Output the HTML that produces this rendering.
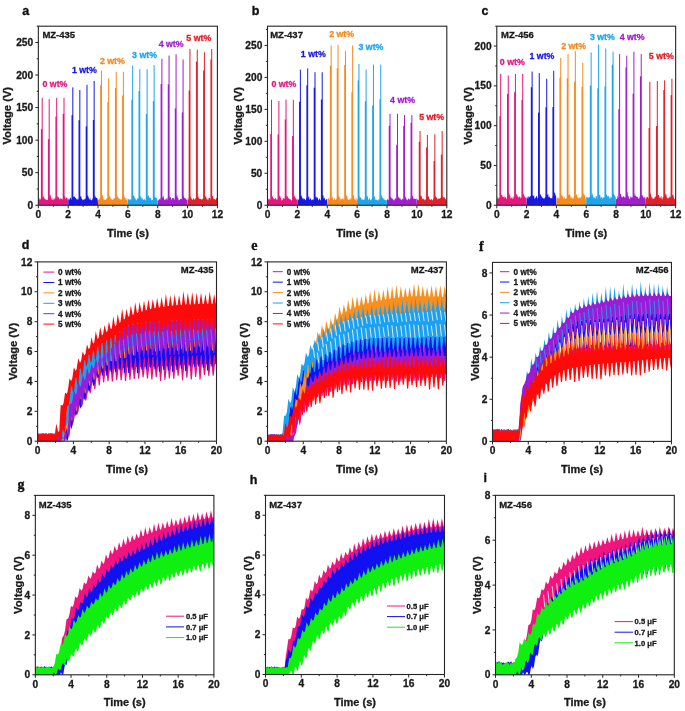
<!DOCTYPE html>
<html><head><meta charset="utf-8"><style>
html,body{margin:0;padding:0;background:#fff;}
svg{display:block;font-family:'Liberation Sans', Arial, sans-serif;}
</style></head><body>
<svg width="685" height="711" viewBox="0 0 685 711">
<rect width="685" height="711" fill="#fff"/>
<polygon points="38.35,205.25 38.4,199.0 38.9,197.6 39.4,200.2 39.9,197.6 40.4,199.7 40.9,199.3 41.4,197.7 41.9,198.3 42.4,196.6 42.9,197.4 43.4,195.4 43.9,197.4 44.4,199.1 44.9,198.0 45.4,199.7 45.9,199.2 46.4,200.3 46.9,199.4 47.4,200.0 47.9,199.8 48.4,197.9 48.9,198.7 49.4,196.8 49.9,194.3 50.4,194.8 50.9,196.8 51.4,198.4 51.9,199.7 52.4,200.2 52.9,197.5 53.4,199.0 53.9,200.3 54.4,198.7 54.9,198.2 55.4,198.6 55.9,197.4 56.4,199.5 56.9,196.6 57.4,196.0 57.9,197.7 58.4,197.1 58.9,197.4 59.4,198.6 59.9,199.8 60.4,198.0 60.9,199.0 61.4,199.0 61.9,198.2 62.4,200.2 62.9,197.9 63.4,197.9 63.9,196.6 64.3,197.3 64.8,194.8 65.3,197.7 65.8,199.3 66.3,197.6 66.8,197.8 67.3,197.8 67.8,199.2 68.19,205.25" fill="#E4177E"/>
<g stroke="#E4177E"><line x1="42.2" y1="205.25" x2="42.2" y2="97.82" stroke-width="1.0"/><line x1="41.6" y1="205.25" x2="41.6" y2="129.22" stroke-width="1.4"/><line x1="49.2" y1="205.25" x2="49.2" y2="99.12" stroke-width="1.0"/><line x1="48.6" y1="205.25" x2="48.6" y2="139.21" stroke-width="1.4"/><line x1="56.7" y1="205.25" x2="56.7" y2="97.82" stroke-width="1.0"/><line x1="56.1" y1="205.25" x2="56.1" y2="116.45" stroke-width="1.4"/><line x1="64.01" y1="205.25" x2="64.01" y2="97.82" stroke-width="1.0"/><line x1="63.41" y1="205.25" x2="63.41" y2="113.89" stroke-width="1.4"/></g>
<polygon points="68.19,205.25 68.2,198.0 68.7,199.8 69.2,200.0 69.7,198.6 70.2,198.1 70.7,197.6 71.2,200.2 71.7,199.0 72.2,197.2 72.7,197.7 73.2,195.9 73.7,197.4 74.2,196.2 74.7,196.7 75.2,197.7 75.7,197.8 76.2,198.5 76.7,199.9 77.2,198.2 77.7,200.0 78.2,198.0 78.7,200.4 79.2,197.4 79.7,198.6 80.2,196.6 80.7,196.4 81.2,196.1 81.7,199.1 82.2,199.1 82.7,200.6 83.2,199.8 83.7,199.3 84.2,200.3 84.7,198.6 85.2,199.4 85.7,198.3 86.2,198.2 86.7,198.1 87.2,195.4 87.7,195.4 88.2,195.4 88.7,198.2 89.2,198.5 89.7,200.0 90.2,197.4 90.7,199.9 91.2,199.9 91.7,200.5 92.2,199.8 92.7,198.2 93.2,198.2 93.7,199.4 94.2,197.4 94.7,196.2 95.2,195.5 95.7,197.4 96.2,198.1 96.7,197.8 97.2,198.3 97.7,199.5 98.03,205.25" fill="#1717E6"/>
<g stroke="#1717E6"><line x1="72.82" y1="205.25" x2="72.82" y2="87.4" stroke-width="1.0"/><line x1="72.22" y1="205.25" x2="72.22" y2="115.28" stroke-width="1.4"/><line x1="79.83" y1="205.25" x2="79.83" y2="90.01" stroke-width="1.0"/><line x1="79.23" y1="205.25" x2="79.23" y2="120.24" stroke-width="1.4"/><line x1="86.99" y1="205.25" x2="86.99" y2="84.8" stroke-width="1.0"/><line x1="86.39" y1="205.25" x2="86.39" y2="126.34" stroke-width="1.4"/><line x1="94.15" y1="205.25" x2="94.15" y2="80.89" stroke-width="1.0"/><line x1="93.55" y1="205.25" x2="93.55" y2="120.06" stroke-width="1.4"/></g>
<polygon points="98.03,205.25 98.0,199.8 98.5,199.7 99.0,199.7 99.5,198.8 100.0,197.5 100.5,197.9 101.0,197.2 101.5,196.1 102.0,195.6 102.5,194.7 103.0,196.7 103.5,198.4 104.0,200.3 104.5,199.1 105.0,200.0 105.5,200.3 106.0,199.0 106.5,198.1 107.0,199.7 107.5,198.0 108.0,198.4 108.5,198.5 109.0,194.6 109.5,196.2 110.0,197.5 110.5,197.0 111.0,200.0 111.5,198.3 112.0,200.1 112.5,199.4 113.0,199.9 113.5,198.0 114.0,199.4 114.5,197.5 115.0,198.6 115.5,198.0 116.0,197.6 116.5,197.0 117.0,196.2 117.5,195.2 118.0,198.9 118.5,197.1 119.0,198.2 119.5,199.5 120.0,198.6 120.5,199.5 121.0,199.4 121.5,199.0 122.0,200.6 122.5,198.8 123.0,196.5 123.5,197.5 124.0,195.0 124.5,196.4 125.0,198.4 125.5,197.2 126.0,200.5 126.5,199.7 127.0,197.4 127.5,199.8 127.88,205.25" fill="#F68A1E"/>
<g stroke="#F68A1E"><line x1="101.47" y1="205.25" x2="101.47" y2="70.47" stroke-width="1.0"/><line x1="100.87" y1="205.25" x2="100.87" y2="85.07" stroke-width="1.4"/><line x1="108.63" y1="205.25" x2="108.63" y2="78.29" stroke-width="1.0"/><line x1="108.03" y1="205.25" x2="108.03" y2="101.93" stroke-width="1.4"/><line x1="116.24" y1="205.25" x2="116.24" y2="71.78" stroke-width="1.0"/><line x1="115.64" y1="205.25" x2="115.64" y2="88.07" stroke-width="1.4"/><line x1="123.4" y1="205.25" x2="123.4" y2="71.78" stroke-width="1.0"/><line x1="122.8" y1="205.25" x2="122.8" y2="95.57" stroke-width="1.4"/></g>
<polygon points="127.88,205.25 127.9,199.5 128.4,198.2 128.9,200.6 129.4,199.2 129.9,199.5 130.4,199.1 130.9,200.3 131.4,199.9 131.9,198.5 132.4,198.2 132.9,195.6 133.4,195.5 133.9,195.3 134.4,197.0 134.9,198.3 135.4,199.7 135.9,198.1 136.4,199.9 136.9,200.4 137.4,197.6 137.9,198.9 138.4,198.1 138.9,198.7 139.4,197.8 139.9,198.5 140.4,196.9 140.9,195.5 141.4,197.1 141.9,199.5 142.4,197.4 142.9,200.2 143.4,199.0 143.9,200.2 144.4,198.4 144.9,199.8 145.4,200.2 145.9,200.5 146.4,199.7 146.9,198.8 147.4,196.3 147.9,196.0 148.4,195.0 148.9,196.3 149.4,197.7 149.9,198.4 150.4,197.9 150.9,197.6 151.4,200.6 151.9,200.3 152.4,199.5 152.9,200.3 153.4,198.3 153.9,198.6 154.4,197.3 154.9,196.5 155.4,197.8 155.9,197.0 156.4,198.2 156.9,198.6 157.4,200.6 157.72,205.25" fill="#1FA5EC"/>
<g stroke="#1FA5EC"><line x1="132.65" y1="205.25" x2="132.65" y2="65.92" stroke-width="1.0"/><line x1="132.05" y1="205.25" x2="132.05" y2="99.71" stroke-width="1.4"/><line x1="139.81" y1="205.25" x2="139.81" y2="69.17" stroke-width="1.0"/><line x1="139.21" y1="205.25" x2="139.21" y2="91.04" stroke-width="1.4"/><line x1="147.12" y1="205.25" x2="147.12" y2="69.17" stroke-width="1.0"/><line x1="146.52" y1="205.25" x2="146.52" y2="114.07" stroke-width="1.4"/><line x1="154.14" y1="205.25" x2="154.14" y2="65.27" stroke-width="1.0"/><line x1="153.54" y1="205.25" x2="153.54" y2="101.18" stroke-width="1.4"/></g>
<polygon points="157.72,205.25 157.7,200.6 158.2,200.4 158.7,200.0 159.2,199.3 159.7,199.2 160.2,197.8 160.7,199.6 161.2,200.1 161.7,196.5 162.2,197.7 162.7,197.2 163.2,195.2 163.7,197.1 164.2,199.3 164.7,200.2 165.2,199.4 165.7,199.6 166.2,197.8 166.7,199.3 167.2,200.4 167.7,197.6 168.2,198.3 168.7,199.2 169.2,197.9 169.7,195.9 170.2,197.6 170.7,197.1 171.2,198.2 171.7,200.5 172.2,198.0 172.7,198.1 173.2,197.7 173.7,198.5 174.2,198.4 174.7,200.1 175.2,200.3 175.7,199.4 176.2,195.2 176.7,195.4 177.2,194.8 177.7,198.0 178.2,197.7 178.7,200.4 179.2,200.1 179.7,199.8 180.2,198.9 180.7,198.9 181.2,199.1 181.7,199.3 182.2,198.5 182.7,196.5 183.2,196.9 183.7,194.7 184.2,197.7 184.7,197.9 185.2,198.3 185.7,198.5 186.2,199.9 186.7,199.4 187.2,197.6 187.56,205.25" fill="#A11ECD"/>
<g stroke="#A11ECD"><line x1="161.89" y1="205.25" x2="161.89" y2="58.75" stroke-width="1.0"/><line x1="161.29" y1="205.25" x2="161.29" y2="84.01" stroke-width="1.4"/><line x1="169.06" y1="205.25" x2="169.06" y2="55.5" stroke-width="1.0"/><line x1="168.46" y1="205.25" x2="168.46" y2="84.37" stroke-width="1.4"/><line x1="176.07" y1="205.25" x2="176.07" y2="54.2" stroke-width="1.0"/><line x1="175.47" y1="205.25" x2="175.47" y2="108.44" stroke-width="1.4"/><line x1="183.08" y1="205.25" x2="183.08" y2="59.41" stroke-width="1.0"/><line x1="182.48" y1="205.25" x2="182.48" y2="112.39" stroke-width="1.4"/></g>
<polygon points="187.56,205.25 187.6,200.0 188.1,200.2 188.6,197.4 189.1,200.4 189.6,198.5 190.1,198.2 190.6,195.4 191.1,197.7 191.6,198.8 192.1,199.8 192.6,199.7 193.1,198.8 193.6,198.1 194.1,199.8 194.6,199.8 195.1,198.0 195.6,198.3 196.1,200.2 196.6,197.6 197.1,196.5 197.6,197.4 198.1,195.4 198.6,197.6 199.1,198.7 199.6,198.7 200.1,198.9 200.6,199.1 201.1,198.9 201.6,200.0 202.1,198.2 202.6,199.8 203.1,197.7 203.6,198.7 204.1,198.6 204.6,197.8 205.1,195.9 205.6,196.6 206.1,197.1 206.6,198.5 207.1,200.5 207.6,198.0 208.1,200.5 208.6,198.0 209.1,198.0 209.6,197.7 210.1,198.5 210.6,200.1 211.1,198.7 211.6,197.8 212.1,195.9 212.6,196.2 213.1,196.1 213.6,198.9 214.1,199.2 214.6,198.9 215.1,199.3 215.6,200.3 216.1,197.5 216.6,198.4 217.1,198.0 217.4,205.25" fill="#E0202A"/>
<g stroke="#E0202A"><line x1="189.95" y1="205.25" x2="189.95" y2="48.99" stroke-width="1.0"/><line x1="189.35" y1="205.25" x2="189.35" y2="90.49" stroke-width="1.4"/><line x1="197.26" y1="205.25" x2="197.26" y2="49.64" stroke-width="1.0"/><line x1="196.66" y1="205.25" x2="196.66" y2="61.72" stroke-width="1.4"/><line x1="204.42" y1="205.25" x2="204.42" y2="52.24" stroke-width="1.0"/><line x1="203.82" y1="205.25" x2="203.82" y2="70.61" stroke-width="1.4"/><line x1="211.73" y1="205.25" x2="211.73" y2="48.99" stroke-width="1.0"/><line x1="211.13" y1="205.25" x2="211.13" y2="59.39" stroke-width="1.4"/></g>
<g stroke="#262626" stroke-width="1"><line x1="35.35" y1="205.25" x2="38.35" y2="205.25"/><line x1="36.75" y1="188.97" x2="38.35" y2="188.97"/><line x1="35.35" y1="172.7" x2="38.35" y2="172.7"/><line x1="36.75" y1="156.42" x2="38.35" y2="156.42"/><line x1="35.35" y1="140.14" x2="38.35" y2="140.14"/><line x1="36.75" y1="123.86" x2="38.35" y2="123.86"/><line x1="35.35" y1="107.59" x2="38.35" y2="107.59"/><line x1="36.75" y1="91.31" x2="38.35" y2="91.31"/><line x1="35.35" y1="75.03" x2="38.35" y2="75.03"/><line x1="36.75" y1="58.75" x2="38.35" y2="58.75"/><line x1="35.35" y1="42.48" x2="38.35" y2="42.48"/><line x1="36.75" y1="26.2" x2="38.35" y2="26.2"/><line x1="38.35" y1="205.25" x2="38.35" y2="208.25"/><line x1="53.27" y1="205.25" x2="53.27" y2="206.85"/><line x1="68.19" y1="205.25" x2="68.19" y2="208.25"/><line x1="83.11" y1="205.25" x2="83.11" y2="206.85"/><line x1="98.03" y1="205.25" x2="98.03" y2="208.25"/><line x1="112.95" y1="205.25" x2="112.95" y2="206.85"/><line x1="127.88" y1="205.25" x2="127.88" y2="208.25"/><line x1="142.8" y1="205.25" x2="142.8" y2="206.85"/><line x1="157.72" y1="205.25" x2="157.72" y2="208.25"/><line x1="172.64" y1="205.25" x2="172.64" y2="206.85"/><line x1="187.56" y1="205.25" x2="187.56" y2="208.25"/><line x1="202.48" y1="205.25" x2="202.48" y2="206.85"/><line x1="217.4" y1="205.25" x2="217.4" y2="208.25"/></g>
<rect x="38.35" y="26.2" width="179.05" height="179.05" fill="none" stroke="#262626" stroke-width="1.1"/>
<g font-size="10.2" font-weight="bold" fill="#1a1a1a" stroke="#1a1a1a" stroke-width="0.3"><text x="33.15" y="208.85" text-anchor="end">0</text><text x="33.15" y="176.3" text-anchor="end">50</text><text x="33.15" y="143.74" text-anchor="end">100</text><text x="33.15" y="111.19" text-anchor="end">150</text><text x="33.15" y="78.63" text-anchor="end">200</text><text x="33.15" y="46.08" text-anchor="end">250</text><text x="38.35" y="218.15" text-anchor="middle">0</text><text x="68.19" y="218.15" text-anchor="middle">2</text><text x="98.03" y="218.15" text-anchor="middle">4</text><text x="127.88" y="218.15" text-anchor="middle">6</text><text x="157.72" y="218.15" text-anchor="middle">8</text><text x="187.56" y="218.15" text-anchor="middle">10</text><text x="217.4" y="218.15" text-anchor="middle">12</text></g>
<polygon points="267.5,205.25 267.5,199.9 268.0,199.8 268.5,198.2 269.0,200.5 269.5,198.9 270.0,198.4 270.5,200.0 271.0,199.9 271.5,198.1 272.0,195.7 272.5,195.9 273.0,198.3 273.5,198.6 274.0,198.4 274.5,199.4 275.0,198.7 275.5,197.7 276.0,198.6 276.5,199.5 277.0,200.2 277.5,199.6 278.0,198.8 278.5,196.9 279.0,196.0 279.5,196.6 280.0,195.1 280.5,197.7 281.0,198.0 281.5,200.3 282.0,200.4 282.5,200.1 283.0,197.9 283.5,198.6 284.0,198.1 284.5,198.7 285.0,199.3 285.5,198.4 286.0,197.0 286.5,195.0 287.0,196.3 287.5,195.9 288.0,198.0 288.5,197.9 289.0,199.1 289.5,198.6 290.0,199.7 290.5,199.1 291.0,200.1 291.5,200.4 292.0,200.6 292.5,198.2 293.0,198.2 293.5,195.6 294.0,194.9 294.5,196.8 295.0,196.1 295.5,198.4 296.0,198.2 296.5,199.5 297.0,200.1 297.38,205.25" fill="#E4177E"/>
<g stroke="#E4177E"><line x1="271.53" y1="205.25" x2="271.53" y2="99.74" stroke-width="1.0"/><line x1="270.93" y1="205.25" x2="270.93" y2="134.03" stroke-width="1.4"/><line x1="278.86" y1="205.25" x2="278.86" y2="101.02" stroke-width="1.0"/><line x1="278.26" y1="205.25" x2="278.26" y2="134.58" stroke-width="1.4"/><line x1="286.03" y1="205.25" x2="286.03" y2="99.74" stroke-width="1.0"/><line x1="285.43" y1="205.25" x2="285.43" y2="119.45" stroke-width="1.4"/><line x1="293.35" y1="205.25" x2="293.35" y2="99.74" stroke-width="1.0"/><line x1="292.75" y1="205.25" x2="292.75" y2="136.03" stroke-width="1.4"/></g>
<polygon points="297.38,205.25 297.4,200.7 297.9,198.1 298.4,200.5 298.9,199.3 299.4,199.0 299.9,198.0 300.4,197.2 300.9,194.7 301.4,195.4 301.9,197.1 302.4,198.1 302.9,199.0 303.4,197.7 303.9,200.0 304.4,198.6 304.9,199.0 305.4,200.6 305.9,199.8 306.4,197.7 306.9,197.9 307.4,199.6 307.9,197.4 308.4,197.6 308.9,195.5 309.4,199.0 309.9,200.1 310.4,197.5 310.9,199.3 311.4,199.8 311.9,200.6 312.4,199.5 312.9,199.6 313.4,199.1 313.9,200.6 314.4,199.7 314.9,198.5 315.4,196.6 315.9,196.7 316.4,196.6 316.9,198.8 317.4,197.6 317.9,197.6 318.4,200.6 318.9,200.1 319.4,199.0 319.9,198.3 320.4,200.6 320.9,200.1 321.4,199.0 321.9,197.5 322.4,195.5 322.9,194.8 323.4,195.6 323.9,199.2 324.4,197.2 324.9,198.7 325.4,200.5 325.9,200.0 326.4,198.8 326.9,199.5 327.27,205.25" fill="#1717E6"/>
<g stroke="#1717E6"><line x1="300.37" y1="205.25" x2="300.37" y2="69.68" stroke-width="1.0"/><line x1="299.77" y1="205.25" x2="299.77" y2="101.82" stroke-width="1.4"/><line x1="307.69" y1="205.25" x2="307.69" y2="68.4" stroke-width="1.0"/><line x1="307.09" y1="205.25" x2="307.09" y2="85.17" stroke-width="1.4"/><line x1="315.01" y1="205.25" x2="315.01" y2="72.24" stroke-width="1.0"/><line x1="314.41" y1="205.25" x2="314.41" y2="87.71" stroke-width="1.4"/><line x1="322.19" y1="205.25" x2="322.19" y2="72.24" stroke-width="1.0"/><line x1="321.59" y1="205.25" x2="321.59" y2="99.51" stroke-width="1.4"/></g>
<polygon points="327.27,205.25 327.3,198.2 327.8,199.5 328.3,197.7 328.8,198.8 329.3,197.7 329.8,200.6 330.3,197.7 330.8,198.0 331.3,196.3 331.8,197.0 332.3,196.2 332.8,198.2 333.3,199.9 333.8,200.6 334.3,197.9 334.8,198.6 335.3,200.1 335.8,199.9 336.3,199.3 336.8,198.1 337.3,200.0 337.8,196.4 338.3,195.2 338.8,196.8 339.3,196.2 339.8,198.3 340.3,198.1 340.8,200.4 341.3,199.3 341.8,198.9 342.3,198.8 342.8,198.6 343.3,197.9 343.8,200.0 344.3,200.2 344.8,199.1 345.3,197.6 345.8,195.1 346.3,195.3 346.8,195.9 347.3,196.4 347.8,199.5 348.3,199.9 348.8,199.4 349.3,199.8 349.8,198.7 350.3,197.7 350.8,200.3 351.3,199.1 351.8,198.3 352.3,198.2 352.8,195.7 353.3,195.3 353.8,195.1 354.3,198.8 354.8,199.5 355.3,200.4 355.8,198.1 356.3,197.7 356.8,200.7 357.15,205.25" fill="#F68A1E"/>
<g stroke="#F68A1E"><line x1="331.15" y1="205.25" x2="331.15" y2="45.38" stroke-width="1.0"/><line x1="330.55" y1="205.25" x2="330.55" y2="65.76" stroke-width="1.4"/><line x1="338.02" y1="205.25" x2="338.02" y2="44.74" stroke-width="1.0"/><line x1="337.42" y1="205.25" x2="337.42" y2="68.35" stroke-width="1.4"/><line x1="345.5" y1="205.25" x2="345.5" y2="51.14" stroke-width="1.0"/><line x1="344.9" y1="205.25" x2="344.9" y2="64.91" stroke-width="1.4"/><line x1="352.67" y1="205.25" x2="352.67" y2="45.38" stroke-width="1.0"/><line x1="352.07" y1="205.25" x2="352.07" y2="92.3" stroke-width="1.4"/></g>
<polygon points="357.15,205.25 357.2,198.5 357.7,199.9 358.2,200.2 358.7,197.2 359.2,198.2 359.7,195.3 360.2,197.2 360.7,197.8 361.2,197.5 361.7,199.9 362.2,199.3 362.7,199.6 363.2,200.2 363.7,199.3 364.2,200.2 364.7,198.2 365.2,198.6 365.7,199.0 366.2,195.7 366.7,196.6 367.2,195.7 367.7,196.6 368.2,199.2 368.7,200.6 369.2,197.9 369.7,197.7 370.2,200.2 370.7,200.3 371.2,199.4 371.7,198.9 372.2,197.5 372.7,197.3 373.2,196.4 373.7,197.5 374.2,195.7 374.7,196.8 375.2,198.7 375.7,200.1 376.2,200.1 376.7,199.6 377.2,200.5 377.7,200.3 378.2,200.6 378.7,198.8 379.2,199.2 379.7,199.9 380.2,198.5 380.7,197.8 381.2,195.8 381.7,194.7 382.2,197.5 382.7,197.7 383.2,199.8 383.7,197.7 384.2,198.8 384.7,200.3 385.2,200.0 385.7,200.3 386.2,200.2 386.7,199.8 387.03,205.25" fill="#1FA5EC"/>
<g stroke="#1FA5EC"><line x1="358.94" y1="205.25" x2="358.94" y2="63.93" stroke-width="1.0"/><line x1="358.34" y1="205.25" x2="358.34" y2="80.41" stroke-width="1.4"/><line x1="366.12" y1="205.25" x2="366.12" y2="69.68" stroke-width="1.0"/><line x1="365.51" y1="205.25" x2="365.51" y2="101.37" stroke-width="1.4"/><line x1="373.44" y1="205.25" x2="373.44" y2="64.57" stroke-width="1.0"/><line x1="372.84" y1="205.25" x2="372.84" y2="105.55" stroke-width="1.4"/><line x1="380.76" y1="205.25" x2="380.76" y2="64.57" stroke-width="1.0"/><line x1="380.16" y1="205.25" x2="380.16" y2="99.16" stroke-width="1.4"/></g>
<polygon points="387.03,205.25 387.0,199.9 387.5,198.4 388.0,200.6 388.5,199.8 389.0,199.5 389.5,199.4 390.0,196.5 390.5,197.2 391.0,196.8 391.5,198.7 392.0,197.6 392.5,199.4 393.0,198.6 393.5,200.1 394.0,200.7 394.5,199.7 395.0,198.3 395.5,198.1 396.0,199.6 396.5,197.8 397.0,199.8 397.5,197.1 398.0,196.9 398.5,196.4 399.0,198.3 399.5,197.2 400.0,199.6 400.5,197.7 401.0,200.4 401.5,199.4 402.0,199.4 402.5,198.5 403.0,199.6 403.5,199.0 404.0,199.7 404.5,197.8 405.0,195.4 405.5,197.4 406.0,197.4 406.5,199.3 407.0,200.1 407.5,200.4 408.0,198.2 408.5,198.6 409.0,199.6 409.5,199.5 410.0,198.4 410.5,198.8 411.0,197.5 411.5,196.7 412.0,196.8 412.5,195.5 413.0,196.4 413.5,198.4 414.0,198.9 414.5,198.4 415.0,199.0 415.5,198.8 416.0,199.2 416.5,197.7 416.92,205.25" fill="#A11ECD"/>
<g stroke="#A11ECD"><line x1="390.02" y1="205.25" x2="390.02" y2="113.81" stroke-width="1.0"/><line x1="389.42" y1="205.25" x2="389.42" y2="125.83" stroke-width="1.4"/><line x1="397.49" y1="205.25" x2="397.49" y2="113.81" stroke-width="1.0"/><line x1="396.89" y1="205.25" x2="396.89" y2="144.73" stroke-width="1.4"/><line x1="404.52" y1="205.25" x2="404.52" y2="115.09" stroke-width="1.0"/><line x1="403.92" y1="205.25" x2="403.92" y2="125.86" stroke-width="1.4"/><line x1="411.84" y1="205.25" x2="411.84" y2="115.09" stroke-width="1.0"/><line x1="411.24" y1="205.25" x2="411.24" y2="122.87" stroke-width="1.4"/></g>
<polygon points="416.92,205.25 416.9,198.2 417.4,199.7 417.9,199.6 418.4,200.0 418.9,200.5 419.4,198.7 419.9,196.5 420.4,195.5 420.9,195.5 421.4,195.8 421.9,197.6 422.4,199.8 422.9,198.2 423.4,199.6 423.9,197.9 424.4,199.7 424.9,200.5 425.4,198.4 425.9,200.4 426.4,197.8 426.9,198.6 427.4,196.3 427.9,197.5 428.4,196.1 428.9,196.8 429.4,199.7 429.9,198.7 430.4,200.3 430.9,199.8 431.4,199.6 431.9,198.8 432.4,200.4 432.9,200.2 433.4,198.2 433.9,198.2 434.4,198.4 434.9,197.8 435.4,195.5 435.9,196.4 436.4,198.1 436.9,197.3 437.4,200.0 437.9,198.2 438.4,198.8 438.9,198.7 439.4,198.6 439.9,198.4 440.4,197.9 440.9,197.7 441.4,199.5 441.9,199.0 442.4,195.4 442.9,196.9 443.4,197.5 443.9,196.9 444.4,197.3 444.9,198.0 445.4,199.1 445.9,199.6 446.4,197.6 446.8,205.25" fill="#E0202A"/>
<g stroke="#E0202A"><line x1="420.05" y1="205.25" x2="420.05" y2="131.07" stroke-width="1.0"/><line x1="419.45" y1="205.25" x2="419.45" y2="141.79" stroke-width="1.4"/><line x1="427.38" y1="205.25" x2="427.38" y2="134.91" stroke-width="1.0"/><line x1="426.78" y1="205.25" x2="426.78" y2="147.48" stroke-width="1.4"/><line x1="434.85" y1="205.25" x2="434.85" y2="134.27" stroke-width="1.0"/><line x1="434.25" y1="205.25" x2="434.25" y2="160.99" stroke-width="1.4"/><line x1="442.17" y1="205.25" x2="442.17" y2="131.07" stroke-width="1.0"/><line x1="441.57" y1="205.25" x2="441.57" y2="154.63" stroke-width="1.4"/></g>
<g stroke="#262626" stroke-width="1"><line x1="264.5" y1="205.25" x2="267.5" y2="205.25"/><line x1="265.9" y1="189.26" x2="267.5" y2="189.26"/><line x1="264.5" y1="173.28" x2="267.5" y2="173.28"/><line x1="265.9" y1="157.29" x2="267.5" y2="157.29"/><line x1="264.5" y1="141.3" x2="267.5" y2="141.3"/><line x1="265.9" y1="125.32" x2="267.5" y2="125.32"/><line x1="264.5" y1="109.33" x2="267.5" y2="109.33"/><line x1="265.9" y1="93.34" x2="267.5" y2="93.34"/><line x1="264.5" y1="77.36" x2="267.5" y2="77.36"/><line x1="265.9" y1="61.37" x2="267.5" y2="61.37"/><line x1="264.5" y1="45.38" x2="267.5" y2="45.38"/><line x1="265.9" y1="29.4" x2="267.5" y2="29.4"/><line x1="267.5" y1="205.25" x2="267.5" y2="208.25"/><line x1="282.44" y1="205.25" x2="282.44" y2="206.85"/><line x1="297.38" y1="205.25" x2="297.38" y2="208.25"/><line x1="312.32" y1="205.25" x2="312.32" y2="206.85"/><line x1="327.27" y1="205.25" x2="327.27" y2="208.25"/><line x1="342.21" y1="205.25" x2="342.21" y2="206.85"/><line x1="357.15" y1="205.25" x2="357.15" y2="208.25"/><line x1="372.09" y1="205.25" x2="372.09" y2="206.85"/><line x1="387.03" y1="205.25" x2="387.03" y2="208.25"/><line x1="401.98" y1="205.25" x2="401.98" y2="206.85"/><line x1="416.92" y1="205.25" x2="416.92" y2="208.25"/><line x1="431.86" y1="205.25" x2="431.86" y2="206.85"/><line x1="446.8" y1="205.25" x2="446.8" y2="208.25"/></g>
<rect x="267.5" y="26.2" width="179.3" height="179.05" fill="none" stroke="#262626" stroke-width="1.1"/>
<g font-size="10.2" font-weight="bold" fill="#1a1a1a" stroke="#1a1a1a" stroke-width="0.3"><text x="262.3" y="208.85" text-anchor="end">0</text><text x="262.3" y="176.88" text-anchor="end">50</text><text x="262.3" y="144.9" text-anchor="end">100</text><text x="262.3" y="112.93" text-anchor="end">150</text><text x="262.3" y="80.96" text-anchor="end">200</text><text x="262.3" y="48.98" text-anchor="end">250</text><text x="267.5" y="218.15" text-anchor="middle">0</text><text x="297.38" y="218.15" text-anchor="middle">2</text><text x="327.27" y="218.15" text-anchor="middle">4</text><text x="357.15" y="218.15" text-anchor="middle">6</text><text x="387.03" y="218.15" text-anchor="middle">8</text><text x="416.92" y="218.15" text-anchor="middle">10</text><text x="446.8" y="218.15" text-anchor="middle">12</text></g>
<polygon points="496.8,205.25 496.8,199.3 497.3,198.7 497.8,196.5 498.3,197.4 498.8,199.3 499.3,197.9 499.8,197.4 500.3,197.8 500.8,194.0 501.3,195.3 501.8,194.6 502.3,195.7 502.8,197.3 503.3,197.2 503.8,196.7 504.3,195.9 504.8,198.5 505.3,197.1 505.8,196.9 506.3,198.5 506.8,199.6 507.3,195.5 507.8,197.5 508.3,196.0 508.8,192.3 509.3,193.6 509.8,195.5 510.3,195.7 510.8,199.3 511.3,196.8 511.8,198.2 512.3,199.3 512.8,197.1 513.3,196.0 513.8,198.8 514.3,197.0 514.8,197.8 515.3,194.8 515.8,193.3 516.3,194.9 516.8,193.6 517.3,195.8 517.8,196.6 518.3,196.4 518.8,198.0 519.3,196.7 519.8,196.2 520.3,199.3 520.8,196.3 521.3,198.1 521.8,197.5 522.3,198.0 522.8,194.3 523.3,194.7 523.8,192.6 524.3,196.4 524.8,196.6 525.3,197.9 525.8,197.2 526.3,198.9 526.61,205.25" fill="#E4177E"/>
<g stroke="#E4177E"><line x1="500.68" y1="205.25" x2="500.68" y2="73.95" stroke-width="1.0"/><line x1="500.08" y1="205.25" x2="500.08" y2="116.27" stroke-width="1.4"/><line x1="508.28" y1="205.25" x2="508.28" y2="75.54" stroke-width="1.0"/><line x1="507.68" y1="205.25" x2="507.68" y2="93.83" stroke-width="1.4"/><line x1="515.43" y1="205.25" x2="515.43" y2="73.95" stroke-width="1.0"/><line x1="514.83" y1="205.25" x2="514.83" y2="92.24" stroke-width="1.4"/><line x1="522.73" y1="205.25" x2="522.73" y2="73.95" stroke-width="1.0"/><line x1="522.13" y1="205.25" x2="522.13" y2="100.02" stroke-width="1.4"/></g>
<polygon points="526.61,205.25 526.6,196.0 527.1,198.9 527.6,196.3 528.1,199.0 528.6,195.8 529.1,197.2 529.6,197.3 530.1,195.8 530.6,196.5 531.1,196.3 531.6,198.5 532.1,195.9 532.6,195.6 533.1,195.1 533.6,196.4 534.1,195.3 534.6,198.9 535.1,198.5 535.6,197.7 536.1,196.3 536.6,195.8 537.1,196.9 537.6,198.8 538.1,197.4 538.6,196.2 539.1,197.6 539.6,193.6 540.1,194.3 540.6,194.4 541.1,195.7 541.6,196.6 542.1,197.5 542.6,197.5 543.1,198.9 543.6,197.7 544.1,199.2 544.6,197.8 545.1,197.5 545.6,196.4 546.1,197.4 546.6,197.6 547.1,194.1 547.6,194.9 548.1,194.0 548.6,196.9 549.1,197.8 549.6,196.0 550.1,198.1 550.6,198.3 551.1,198.3 551.6,197.8 552.1,199.3 552.6,197.3 553.1,195.3 553.6,195.5 554.1,193.2 554.6,192.0 555.1,193.6 555.6,195.5 556.1,196.1 556.42,205.25" fill="#1717E6"/>
<g stroke="#1717E6"><line x1="532.12" y1="205.25" x2="532.12" y2="71.56" stroke-width="1.0"/><line x1="531.52" y1="205.25" x2="531.52" y2="87.28" stroke-width="1.4"/><line x1="539.28" y1="205.25" x2="539.28" y2="73.15" stroke-width="1.0"/><line x1="538.68" y1="205.25" x2="538.68" y2="112.62" stroke-width="1.4"/><line x1="546.73" y1="205.25" x2="546.73" y2="78.72" stroke-width="1.0"/><line x1="546.13" y1="205.25" x2="546.13" y2="107.29" stroke-width="1.4"/><line x1="553.73" y1="205.25" x2="553.73" y2="70.76" stroke-width="1.0"/><line x1="553.13" y1="205.25" x2="553.13" y2="107.12" stroke-width="1.4"/></g>
<polygon points="556.42,205.25 556.4,198.6 556.9,197.4 557.4,198.4 557.9,197.2 558.4,197.4 558.9,199.3 559.4,197.8 559.9,197.7 560.4,195.5 560.9,196.4 561.4,195.0 561.9,194.3 562.4,196.3 562.9,196.4 563.4,198.2 563.9,198.9 564.4,196.0 564.9,198.7 565.4,199.1 565.9,198.6 566.4,198.3 566.9,198.6 567.4,196.8 567.9,194.0 568.4,195.7 568.9,194.1 569.4,194.3 569.9,194.9 570.4,195.4 570.9,199.0 571.4,197.5 571.9,196.2 572.4,199.5 572.9,197.3 573.4,199.0 573.9,196.6 574.4,195.6 574.9,196.4 575.4,197.0 575.9,195.6 576.4,194.4 576.9,194.2 577.4,197.9 577.9,196.8 578.4,198.0 578.9,198.6 579.4,196.9 579.9,198.5 580.4,198.2 580.9,196.6 581.4,197.6 581.9,196.2 582.4,196.4 582.9,196.3 583.4,194.0 583.9,192.7 584.4,195.5 584.9,195.1 585.4,199.5 585.9,198.3 586.23,205.25" fill="#F68A1E"/>
<g stroke="#F68A1E"><line x1="560.74" y1="205.25" x2="560.74" y2="58.03" stroke-width="1.0"/><line x1="560.14" y1="205.25" x2="560.14" y2="77.74" stroke-width="1.4"/><line x1="568.04" y1="205.25" x2="568.04" y2="54.05" stroke-width="1.0"/><line x1="567.44" y1="205.25" x2="567.44" y2="78.31" stroke-width="1.4"/><line x1="575.34" y1="205.25" x2="575.34" y2="50.87" stroke-width="1.0"/><line x1="574.74" y1="205.25" x2="574.74" y2="81.82" stroke-width="1.4"/><line x1="582.8" y1="205.25" x2="582.8" y2="62.81" stroke-width="1.0"/><line x1="582.2" y1="205.25" x2="582.2" y2="86.68" stroke-width="1.4"/></g>
<polygon points="586.23,205.25 586.2,196.2 586.7,197.0 587.2,197.5 587.7,197.4 588.2,197.0 588.7,198.4 589.2,197.0 589.7,197.2 590.2,196.2 590.7,196.6 591.2,196.9 591.7,193.7 592.2,192.7 592.7,195.0 593.2,196.3 593.7,197.9 594.2,198.2 594.7,196.8 595.2,199.4 595.7,196.2 596.2,196.2 596.7,195.8 597.2,199.1 597.7,198.9 598.2,194.9 598.7,195.3 599.2,194.7 599.7,194.7 600.2,195.1 600.7,198.4 601.2,197.6 601.7,197.0 602.2,196.8 602.7,199.6 603.2,196.5 603.7,197.9 604.2,197.9 604.7,197.2 605.2,197.7 605.7,193.8 606.2,195.1 606.7,193.7 607.2,196.6 607.7,196.2 608.2,195.8 608.7,196.1 609.2,199.1 609.7,197.2 610.2,196.1 610.7,198.9 611.2,198.0 611.7,196.8 612.2,196.3 612.7,196.5 613.2,194.2 613.7,193.1 614.2,194.9 614.7,195.3 615.2,196.8 615.7,196.8 616.03,205.25" fill="#1FA5EC"/>
<g stroke="#1FA5EC"><line x1="591.14" y1="205.25" x2="591.14" y2="52.46" stroke-width="1.0"/><line x1="590.54" y1="205.25" x2="590.54" y2="85.5" stroke-width="1.4"/><line x1="598.6" y1="205.25" x2="598.6" y2="44.5" stroke-width="1.0"/><line x1="598" y1="205.25" x2="598" y2="88.28" stroke-width="1.4"/><line x1="605.75" y1="205.25" x2="605.75" y2="48.48" stroke-width="1.0"/><line x1="605.15" y1="205.25" x2="605.15" y2="86.26" stroke-width="1.4"/><line x1="613.05" y1="205.25" x2="613.05" y2="51.66" stroke-width="1.0"/><line x1="612.45" y1="205.25" x2="612.45" y2="64.69" stroke-width="1.4"/></g>
<polygon points="616.03,205.25 616.0,198.9 616.5,199.1 617.0,199.6 617.5,196.3 618.0,195.7 618.5,198.6 619.0,197.8 619.5,196.8 620.0,193.7 620.5,193.9 621.0,193.8 621.5,197.7 622.0,195.9 622.5,197.8 623.0,196.5 623.5,196.5 624.0,196.1 624.5,197.7 625.0,197.2 625.5,197.3 626.0,198.4 626.5,196.0 627.0,192.8 627.5,192.1 628.0,196.5 628.5,195.5 629.0,197.9 629.5,199.0 630.0,199.1 630.5,196.5 631.0,195.9 631.5,197.6 632.0,198.1 632.5,197.6 633.0,196.0 633.5,195.5 634.0,196.7 634.5,194.9 635.0,192.7 635.5,195.7 636.0,196.4 636.5,196.4 637.0,197.1 637.5,196.8 638.0,197.5 638.5,198.8 639.0,198.9 639.5,195.7 640.0,199.5 640.5,196.3 641.0,194.4 641.5,195.4 642.0,195.5 642.5,195.1 643.0,197.0 643.5,197.4 644.0,197.9 644.5,195.9 645.0,199.2 645.5,195.9 645.84,205.25" fill="#A11ECD"/>
<g stroke="#A11ECD"><line x1="619.61" y1="205.25" x2="619.61" y2="54.05" stroke-width="1.0"/><line x1="619.01" y1="205.25" x2="619.01" y2="109.29" stroke-width="1.4"/><line x1="626.76" y1="205.25" x2="626.76" y2="55.64" stroke-width="1.0"/><line x1="626.16" y1="205.25" x2="626.16" y2="67.58" stroke-width="1.4"/><line x1="633.92" y1="205.25" x2="633.92" y2="51.66" stroke-width="1.0"/><line x1="633.32" y1="205.25" x2="633.32" y2="93.66" stroke-width="1.4"/><line x1="641.22" y1="205.25" x2="641.22" y2="54.05" stroke-width="1.0"/><line x1="640.62" y1="205.25" x2="640.62" y2="76.33" stroke-width="1.4"/></g>
<polygon points="645.84,205.25 645.8,199.7 646.3,197.9 646.8,197.0 647.3,197.2 647.8,196.5 648.3,199.0 648.8,197.9 649.3,196.3 649.8,197.3 650.3,192.6 650.8,194.2 651.3,196.3 651.8,197.8 652.3,196.8 652.8,199.4 653.3,198.7 653.8,198.5 654.3,198.7 654.8,196.8 655.3,197.3 655.8,196.0 656.3,196.6 656.8,197.5 657.3,195.9 657.8,195.4 658.3,195.0 658.8,195.0 659.3,195.9 659.8,198.3 660.3,198.3 660.8,196.5 661.3,195.9 661.8,199.3 662.3,199.4 662.8,196.6 663.3,197.6 663.8,197.5 664.3,195.6 664.8,193.6 665.3,195.4 665.8,192.6 666.3,194.2 666.8,197.5 667.3,197.7 667.8,198.6 668.3,197.3 668.8,198.9 669.3,197.6 669.8,196.1 670.3,197.6 670.8,196.2 671.3,198.2 671.8,194.0 672.3,195.6 672.8,195.0 673.3,194.2 673.8,197.4 674.3,198.9 674.8,199.3 675.3,196.5 675.65,205.25" fill="#E0202A"/>
<g stroke="#E0202A"><line x1="649.87" y1="205.25" x2="649.87" y2="81.9" stroke-width="1.0"/><line x1="649.27" y1="205.25" x2="649.27" y2="128" stroke-width="1.4"/><line x1="657.32" y1="205.25" x2="657.32" y2="81.11" stroke-width="1.0"/><line x1="656.72" y1="205.25" x2="656.72" y2="126.04" stroke-width="1.4"/><line x1="664.62" y1="205.25" x2="664.62" y2="80.31" stroke-width="1.0"/><line x1="664.02" y1="205.25" x2="664.02" y2="89.99" stroke-width="1.4"/><line x1="671.92" y1="205.25" x2="671.92" y2="78.72" stroke-width="1.0"/><line x1="671.32" y1="205.25" x2="671.32" y2="95.13" stroke-width="1.4"/></g>
<g stroke="#262626" stroke-width="1"><line x1="493.8" y1="205.25" x2="496.8" y2="205.25"/><line x1="495.2" y1="185.36" x2="496.8" y2="185.36"/><line x1="493.8" y1="165.46" x2="496.8" y2="165.46"/><line x1="495.2" y1="145.57" x2="496.8" y2="145.57"/><line x1="493.8" y1="125.67" x2="496.8" y2="125.67"/><line x1="495.2" y1="105.78" x2="496.8" y2="105.78"/><line x1="493.8" y1="85.88" x2="496.8" y2="85.88"/><line x1="495.2" y1="65.99" x2="496.8" y2="65.99"/><line x1="493.8" y1="46.09" x2="496.8" y2="46.09"/><line x1="495.2" y1="26.2" x2="496.8" y2="26.2"/><line x1="496.8" y1="205.25" x2="496.8" y2="208.25"/><line x1="511.7" y1="205.25" x2="511.7" y2="206.85"/><line x1="526.61" y1="205.25" x2="526.61" y2="208.25"/><line x1="541.51" y1="205.25" x2="541.51" y2="206.85"/><line x1="556.42" y1="205.25" x2="556.42" y2="208.25"/><line x1="571.32" y1="205.25" x2="571.32" y2="206.85"/><line x1="586.23" y1="205.25" x2="586.23" y2="208.25"/><line x1="601.13" y1="205.25" x2="601.13" y2="206.85"/><line x1="616.03" y1="205.25" x2="616.03" y2="208.25"/><line x1="630.94" y1="205.25" x2="630.94" y2="206.85"/><line x1="645.84" y1="205.25" x2="645.84" y2="208.25"/><line x1="660.75" y1="205.25" x2="660.75" y2="206.85"/><line x1="675.65" y1="205.25" x2="675.65" y2="208.25"/></g>
<rect x="496.8" y="26.2" width="178.85" height="179.05" fill="none" stroke="#262626" stroke-width="1.1"/>
<g font-size="10.2" font-weight="bold" fill="#1a1a1a" stroke="#1a1a1a" stroke-width="0.3"><text x="491.6" y="208.85" text-anchor="end">0</text><text x="491.6" y="169.06" text-anchor="end">50</text><text x="491.6" y="129.27" text-anchor="end">100</text><text x="491.6" y="89.48" text-anchor="end">150</text><text x="491.6" y="49.69" text-anchor="end">200</text><text x="496.8" y="218.15" text-anchor="middle">0</text><text x="526.61" y="218.15" text-anchor="middle">2</text><text x="556.42" y="218.15" text-anchor="middle">4</text><text x="586.23" y="218.15" text-anchor="middle">6</text><text x="616.03" y="218.15" text-anchor="middle">8</text><text x="645.84" y="218.15" text-anchor="middle">10</text><text x="675.65" y="218.15" text-anchor="middle">12</text></g>
<text x="127.88" y="236.55" text-anchor="middle" font-size="11" font-weight="bold" fill="#1a1a1a" stroke="#1a1a1a" stroke-width="0.3">Time (s)</text>
<text transform="translate(11,115.72) rotate(-90)" text-anchor="middle" font-size="11.2" font-weight="bold" fill="#1a1a1a" stroke="#1a1a1a" stroke-width="0.3">Voltage (V)</text>
<text x="22.2" y="14.6" font-size="12.5" font-weight="bold" fill="#111" stroke="#111" stroke-width="0.35">a</text>
<text x="357.15" y="236.55" text-anchor="middle" font-size="11" font-weight="bold" fill="#1a1a1a" stroke="#1a1a1a" stroke-width="0.3">Time (s)</text>
<text transform="translate(242,115.72) rotate(-90)" text-anchor="middle" font-size="11.2" font-weight="bold" fill="#1a1a1a" stroke="#1a1a1a" stroke-width="0.3">Voltage (V)</text>
<text x="251.7" y="14.6" font-size="12.5" font-weight="bold" fill="#111" stroke="#111" stroke-width="0.35">b</text>
<text x="586.23" y="236.55" text-anchor="middle" font-size="11" font-weight="bold" fill="#1a1a1a" stroke="#1a1a1a" stroke-width="0.3">Time (s)</text>
<text transform="translate(472,115.72) rotate(-90)" text-anchor="middle" font-size="11.2" font-weight="bold" fill="#1a1a1a" stroke="#1a1a1a" stroke-width="0.3">Voltage (V)</text>
<text x="481.4" y="14.6" font-size="12.5" font-weight="bold" fill="#111" stroke="#111" stroke-width="0.35">c</text>
<text x="42.4" y="37.6" font-size="9.5" font-weight="bold" fill="#1a1a1a" stroke="#1a1a1a" stroke-width="0.3" text-anchor="start">MZ-435</text>
<text x="270.2" y="37.6" font-size="9.5" font-weight="bold" fill="#1a1a1a" stroke="#1a1a1a" stroke-width="0.3" text-anchor="start">MZ-437</text>
<text x="501" y="37.6" font-size="9.5" font-weight="bold" fill="#1a1a1a" stroke="#1a1a1a" stroke-width="0.3" text-anchor="start">MZ-456</text>
<text x="42.5" y="86.5" font-size="8.8" font-weight="bold" fill="#E4177E" stroke="#E4177E" stroke-width="0.3" text-anchor="start">0 wt%</text>
<text x="71.9" y="73.1" font-size="8.8" font-weight="bold" fill="#1717E6" stroke="#1717E6" stroke-width="0.3" text-anchor="start">1 wt%</text>
<text x="99.9" y="63.5" font-size="8.8" font-weight="bold" fill="#F68A1E" stroke="#F68A1E" stroke-width="0.3" text-anchor="start">2 wt%</text>
<text x="132.1" y="58.1" font-size="8.8" font-weight="bold" fill="#1FA5EC" stroke="#1FA5EC" stroke-width="0.3" text-anchor="start">3 wt%</text>
<text x="158.7" y="46.9" font-size="8.8" font-weight="bold" fill="#A11ECD" stroke="#A11ECD" stroke-width="0.3" text-anchor="start">4 wt%</text>
<text x="186.3" y="40.9" font-size="8.8" font-weight="bold" fill="#E0202A" stroke="#E0202A" stroke-width="0.3" text-anchor="start">5 wt%</text>
<text x="271.4" y="87.1" font-size="8.8" font-weight="bold" fill="#E4177E" stroke="#E4177E" stroke-width="0.3" text-anchor="start">0 wt%</text>
<text x="300.8" y="57.3" font-size="8.8" font-weight="bold" fill="#1717E6" stroke="#1717E6" stroke-width="0.3" text-anchor="start">1 wt%</text>
<text x="329.2" y="37.3" font-size="8.8" font-weight="bold" fill="#F68A1E" stroke="#F68A1E" stroke-width="0.3" text-anchor="start">2 wt%</text>
<text x="358.5" y="50.3" font-size="8.8" font-weight="bold" fill="#1FA5EC" stroke="#1FA5EC" stroke-width="0.3" text-anchor="start">3 wt%</text>
<text x="390.1" y="102.9" font-size="8.8" font-weight="bold" fill="#A11ECD" stroke="#A11ECD" stroke-width="0.3" text-anchor="start">4 wt%</text>
<text x="419.2" y="120.4" font-size="8.8" font-weight="bold" fill="#E0202A" stroke="#E0202A" stroke-width="0.3" text-anchor="start">5 wt%</text>
<text x="499.8" y="64.5" font-size="8.8" font-weight="bold" fill="#E4177E" stroke="#E4177E" stroke-width="0.3" text-anchor="start">0 wt%</text>
<text x="529.5" y="59.1" font-size="8.8" font-weight="bold" fill="#1717E6" stroke="#1717E6" stroke-width="0.3" text-anchor="start">1 wt%</text>
<text x="561.2" y="49.3" font-size="8.8" font-weight="bold" fill="#F68A1E" stroke="#F68A1E" stroke-width="0.3" text-anchor="start">2 wt%</text>
<text x="589.9" y="39.8" font-size="8.8" font-weight="bold" fill="#1FA5EC" stroke="#1FA5EC" stroke-width="0.3" text-anchor="start">3 wt%</text>
<text x="619.7" y="39.8" font-size="8.8" font-weight="bold" fill="#A11ECD" stroke="#A11ECD" stroke-width="0.3" text-anchor="start">4 wt%</text>
<text x="648.8" y="59.1" font-size="8.8" font-weight="bold" fill="#E0202A" stroke="#E0202A" stroke-width="0.3" text-anchor="start">5 wt%</text>
<polygon points="37.6,433.2 38.2,434.8 38.8,433.5 39.4,434.9 40.0,434.2 40.6,434.9 41.2,433.8 41.8,433.5 42.4,434.3 43.0,433.2 43.6,433.5 44.2,434.5 44.8,434.0 45.4,433.6 46.0,433.5 46.6,433.3 47.2,434.9 47.8,433.7 48.4,434.9 49.0,433.3 49.6,434.8 50.2,433.4 50.8,434.6 51.4,433.2 52.0,434.1 52.6,434.5 53.2,434.6 53.8,434.0 54.4,434.5 55.0,433.8 55.6,434.9 56.2,434.7 56.8,433.4 57.4,434.0 58.0,434.7 58.6,434.9 59.2,434.9 59.8,434.7 60.4,434.4 61.0,433.9 61.6,433.5 62.2,433.6 62.8,434.5 63.4,434.9 64.0,434.3 64.5,432.5 66.2,436.4 67.3,432.8 68.9,422.4 70.6,421.3 71.7,418.6 73.3,413.1 75.0,411.0 76.1,408.7 77.6,402.9 79.4,402.1 80.5,400.0 82.0,393.6 83.8,394.1 84.9,392.2 86.4,385.7 88.2,386.5 89.3,384.6 90.8,377.1 92.5,379.2 93.6,377.5 95.2,369.9 96.9,373.1 98.0,371.8 99.6,365.0 101.3,368.7 102.4,367.8 103.9,360.3 105.7,365.4 106.8,364.7 108.3,358.7 110.1,363.3 111.2,363.0 112.7,357.8 114.5,362.1 115.6,361.8 117.1,356.9 118.8,360.8 119.9,360.5 121.5,355.0 123.2,359.6 124.3,359.3 125.9,352.6 127.6,358.6 128.7,358.4 130.2,352.0 132.0,358.1 133.1,358.0 134.6,351.5 136.4,357.8 137.5,357.7 139.0,352.0 140.8,357.5 141.8,357.4 143.4,350.4 145.1,357.2 146.2,357.2 147.8,350.1 149.5,357.0 150.6,357.0 152.1,351.1 153.9,356.8 155.0,356.8 156.5,350.4 158.3,356.7 159.4,356.6 160.9,349.2 162.7,356.5 163.8,356.5 165.3,350.8 167.1,356.3 168.1,356.3 169.7,350.0 171.4,356.2 172.5,356.1 174.1,348.2 175.8,356.0 176.9,356.0 178.4,350.3 180.2,355.9 181.3,355.8 182.8,348.9 184.6,355.7 185.7,355.7 187.2,349.2 189.0,355.6 190.1,355.6 191.6,349.3 193.3,355.5 194.4,355.4 196.0,348.4 197.7,355.4 198.8,355.3 200.4,348.6 202.1,355.3 203.2,355.2 204.7,347.9 206.5,355.2 207.6,355.1 209.1,346.6 210.9,355.1 212.0,355.1 213.5,348.5 215.3,355.0 216.4,355.0 216.5,355.0 216.5,364.0 215.9,364.0 215.0,364.0 213.7,375.8 212.6,375.8 211.5,364.1 210.7,364.1 209.3,376.0 208.3,376.0 207.2,364.2 206.3,364.2 205.0,375.0 203.9,375.0 202.8,364.3 201.9,364.3 200.6,379.5 199.5,379.5 198.4,364.4 197.5,364.4 196.2,376.9 195.1,376.9 194.0,364.6 193.1,364.6 191.8,379.6 190.7,379.6 189.6,364.7 188.7,364.8 187.4,377.7 186.3,377.7 185.2,364.9 184.4,365.0 183.0,380.3 182.0,380.4 180.9,365.1 180.0,365.2 178.7,375.7 177.6,375.8 176.5,365.4 175.6,365.5 174.3,378.8 173.2,378.9 172.1,365.7 171.2,365.8 169.9,378.5 168.8,378.6 167.7,366.0 166.8,366.1 165.5,379.8 164.4,379.9 163.3,366.3 162.4,366.3 161.1,380.9 160.0,380.9 158.9,366.4 158.1,366.5 156.8,377.2 155.7,377.3 154.6,366.6 153.7,366.6 152.4,379.5 151.3,379.5 150.2,366.7 149.3,366.7 148.0,378.4 146.9,378.4 145.8,366.8 144.9,366.8 143.6,377.3 142.5,377.3 141.4,366.9 140.5,366.9 139.2,378.6 138.1,378.7 137.0,367.0 136.2,367.0 134.8,378.9 133.7,378.9 132.6,367.2 131.8,367.2 130.5,379.7 129.4,379.8 128.3,367.4 127.4,367.5 126.1,381.1 125.0,381.2 123.9,367.9 123.0,368.0 121.7,380.3 120.6,380.4 119.5,368.5 118.6,368.6 117.3,380.1 116.2,380.2 115.1,369.2 114.2,369.4 112.9,381.6 111.8,381.8 110.7,369.9 109.9,370.1 108.5,381.2 107.4,381.3 106.3,370.8 105.5,371.0 104.2,382.3 103.1,382.6 102.0,372.0 101.1,372.5 99.8,385.3 98.7,385.7 97.6,375.2 96.7,376.2 95.4,388.4 94.3,389.5 93.2,381.2 92.3,382.7 91.0,392.2 89.9,393.8 88.8,389.2 87.9,390.9 86.6,399.5 85.5,401.0 84.4,397.4 83.6,398.7 82.2,405.9 81.1,407.5 80.0,404.1 79.2,405.5 77.9,413.1 76.8,415.4 75.7,412.5 74.8,414.4 73.5,422.6 72.4,425.5 71.3,423.3 70.4,425.8 69.1,433.5 68.0,436.7 66.9,435.3 66.0,437.3 64.7,441.1 64.4,441.2 37.6,441.2" fill="#E8127F"/>
<polygon points="37.6,435.0 38.2,434.2 38.8,434.0 39.4,435.2 40.0,434.9 40.6,433.3 41.2,435.1 41.8,435.0 42.4,433.2 43.0,433.9 43.6,434.5 44.2,434.2 44.8,433.8 45.4,434.6 46.0,434.9 46.6,433.6 47.2,433.8 47.8,434.2 48.4,433.5 49.0,434.1 49.6,433.2 50.2,434.8 50.8,434.1 51.4,434.2 52.0,434.5 52.6,434.0 53.2,434.7 53.8,433.5 54.4,433.4 55.0,435.0 55.6,434.2 56.2,434.6 56.8,435.0 57.4,433.3 58.0,434.3 58.6,434.9 59.2,433.8 59.8,434.8 60.4,433.3 61.0,434.8 61.6,435.2 62.2,434.8 62.8,434.5 63.4,434.2 64.0,433.3 65.1,437.1 66.2,428.0 67.7,422.8 69.5,418.3 70.6,415.2 72.1,409.4 73.9,406.6 75.0,403.9 76.5,399.6 78.3,396.3 79.3,393.9 80.9,390.6 82.6,387.1 83.7,385.1 85.3,382.5 87.0,379.8 88.1,378.2 89.6,375.6 91.4,373.6 92.5,372.2 94.0,368.9 95.8,368.2 96.9,366.9 98.4,362.5 100.2,363.5 101.3,362.4 102.8,357.8 104.6,359.1 105.6,358.1 107.2,355.0 108.9,355.1 110.0,354.2 111.6,351.5 113.3,351.9 114.4,351.2 115.9,348.8 117.7,349.7 118.8,349.2 120.3,346.5 122.1,347.8 123.2,347.3 124.7,343.7 126.5,346.0 127.6,345.6 129.1,341.7 130.8,344.4 131.9,344.0 133.5,341.1 135.2,342.9 136.3,342.6 137.9,340.3 139.6,341.6 140.7,341.3 142.2,339.3 144.0,340.5 145.1,340.3 146.6,339.1 148.4,339.6 149.5,339.4 151.0,338.7 152.8,338.8 153.9,338.7 155.4,338.4 157.1,338.3 158.2,338.2 159.8,338.0 161.5,337.9 162.6,337.8 164.2,337.7 165.9,337.6 167.0,337.6 168.5,337.5 170.3,337.4 171.4,337.3 172.9,337.2 174.7,337.1 175.8,337.0 177.3,337.0 179.1,336.9 180.2,336.8 181.7,336.7 183.4,336.7 184.5,336.6 186.1,336.6 187.8,336.5 188.9,336.4 190.5,336.4 192.2,336.3 193.3,336.3 194.8,336.2 196.6,336.2 197.7,336.1 199.2,336.1 201.0,336.1 202.1,336.0 203.6,336.0 205.4,336.0 206.5,336.0 208.0,335.9 209.7,335.9 210.8,335.9 212.4,335.9 214.1,335.9 215.2,335.9 216.5,335.9 216.5,355.0 215.9,366.0 214.8,355.0 213.9,355.0 212.6,366.5 211.5,366.5 210.4,355.1 209.5,355.1 208.2,370.5 207.1,370.5 206.0,355.2 205.1,355.2 203.8,367.7 202.7,367.7 201.6,355.3 200.8,355.3 199.4,366.6 198.3,366.6 197.3,355.4 196.4,355.4 195.1,366.8 194.0,366.8 192.9,355.5 192.0,355.5 190.7,366.2 189.6,366.2 188.5,355.6 187.6,355.6 186.3,371.1 185.2,371.1 184.1,355.8 183.2,355.8 181.9,368.7 180.8,368.8 179.7,355.9 178.8,355.9 177.5,369.9 176.4,369.9 175.3,356.0 174.5,356.1 173.1,371.7 172.1,371.7 171.0,356.2 170.1,356.2 168.8,370.5 167.7,370.5 166.6,356.4 165.7,356.4 164.4,369.8 163.3,369.9 162.2,356.5 161.3,356.6 160.0,371.6 158.9,371.7 157.8,356.7 156.9,356.7 155.6,369.3 154.5,369.4 153.4,356.9 152.5,356.9 151.2,367.5 150.1,367.5 149.0,357.0 148.2,357.1 146.8,369.1 145.8,369.2 144.7,357.2 143.8,357.3 142.5,369.4 141.4,369.5 140.3,357.5 139.4,357.5 138.1,373.1 137.0,373.1 135.9,357.8 135.0,357.9 133.7,369.7 132.6,369.8 131.5,358.1 130.6,358.2 129.3,372.9 128.2,373.0 127.1,358.7 126.2,358.9 124.9,372.8 123.8,373.0 122.7,359.7 121.9,359.9 120.5,370.0 119.5,370.2 118.4,361.0 117.5,361.2 116.2,371.8 115.1,372.1 114.0,362.2 113.1,362.5 111.8,371.9 110.7,372.2 109.6,363.4 108.7,363.7 107.4,375.6 106.3,375.8 105.2,365.8 104.3,366.4 103.0,375.2 101.9,375.7 100.8,369.1 99.9,369.9 98.6,377.3 97.5,378.3 96.4,373.7 95.6,374.8 94.3,384.4 93.2,386.2 92.1,379.9 91.2,381.4 89.9,389.9 88.8,391.9 87.7,387.3 86.8,388.8 85.5,398.3 84.4,400.1 83.3,394.9 82.4,396.5 81.1,406.9 80.0,409.0 78.9,403.0 78.0,404.7 76.7,413.8 75.6,416.2 74.5,412.1 73.7,414.0 72.3,426.3 71.2,429.2 70.1,422.6 69.3,424.9 68.0,439.5 66.9,441.2 65.8,436.7 64.9,439.3 64.4,441.2 37.6,441.2" fill="#1010F0"/>
<polygon points="37.6,434.7 38.2,433.2 38.8,434.8 39.4,434.8 40.0,434.5 40.6,434.7 41.2,433.8 41.8,435.0 42.4,433.3 43.0,433.4 43.6,435.2 44.2,434.1 44.8,435.0 45.4,434.7 46.0,434.4 46.6,434.3 47.2,434.2 47.8,433.3 48.4,434.7 49.0,434.8 49.6,433.8 50.2,433.2 50.8,433.3 51.4,433.4 52.0,435.1 52.6,433.3 53.2,433.9 53.8,433.4 54.4,434.4 55.0,434.8 55.6,433.6 56.2,433.8 56.8,433.6 57.4,434.8 58.0,434.9 58.6,433.6 59.2,435.2 59.8,433.2 60.4,434.9 61.0,434.0 61.6,434.3 62.2,434.5 63.9,426.5 65.6,424.0 66.7,419.9 68.3,411.0 70.0,415.6 71.1,412.5 72.6,399.6 74.4,403.9 75.5,401.3 77.0,389.7 78.8,394.2 79.9,392.0 81.4,381.8 83.2,386.0 84.3,384.1 85.8,372.2 87.5,379.1 88.6,377.5 90.2,367.4 91.9,373.0 93.0,371.5 94.6,360.8 96.3,367.5 97.4,366.4 98.9,357.9 100.7,363.0 101.8,361.9 103.3,351.6 105.1,358.6 106.2,357.6 107.7,346.3 109.5,354.7 110.6,353.8 112.1,343.3 113.8,351.6 114.9,351.0 116.5,339.4 118.2,342.8 119.3,342.0 120.9,338.4 122.6,339.5 123.7,338.7 125.2,335.6 127.0,336.6 128.1,336.1 129.6,333.6 131.4,335.2 132.5,334.9 134.0,331.9 135.8,334.2 136.8,334.0 138.4,331.4 140.1,333.4 141.2,333.2 142.8,330.0 144.5,332.7 145.6,332.6 147.2,328.2 148.9,332.2 150.0,332.1 151.5,327.2 153.3,331.8 154.4,331.7 155.9,326.2 157.7,331.5 158.8,331.4 160.3,325.9 162.1,331.2 163.1,331.2 164.7,326.3 166.4,331.0 167.5,331.0 169.1,324.9 170.8,330.9 171.9,330.8 173.4,325.5 175.2,330.7 176.3,330.7 177.8,326.2 179.6,330.6 180.7,330.5 182.2,324.2 184.0,330.4 185.1,330.4 186.6,324.2 188.4,330.3 189.4,330.3 191.0,324.6 192.7,330.2 193.8,330.2 195.4,325.0 197.1,330.1 198.2,330.1 199.7,325.2 201.5,330.0 202.6,330.0 204.1,325.3 205.9,330.0 207.0,330.0 208.5,323.3 210.3,329.9 211.4,329.9 212.9,323.7 214.6,329.9 215.7,329.9 216.5,329.9 216.5,335.9 216.4,348.9 215.3,335.9 214.4,335.9 213.1,350.4 212.0,350.4 210.9,335.9 210.0,335.9 208.7,346.5 207.6,346.5 206.5,336.0 205.7,336.0 204.3,350.3 203.3,350.4 202.2,336.0 201.3,336.1 200.0,346.3 198.9,346.4 197.8,336.1 196.9,336.2 195.6,347.2 194.5,347.2 193.4,336.3 192.5,336.3 191.2,350.7 190.1,350.7 189.0,336.4 188.1,336.5 186.8,351.2 185.7,351.3 184.6,336.6 183.7,336.7 182.4,349.2 181.3,349.3 180.2,336.8 179.4,336.9 178.1,350.6 177.0,350.7 175.9,337.0 175.0,337.1 173.7,347.7 172.6,347.8 171.5,337.3 170.6,337.3 169.3,348.0 168.2,348.1 167.1,337.6 166.2,337.6 164.9,348.5 163.8,348.5 162.7,337.8 161.8,337.9 160.5,350.8 159.4,350.9 158.3,338.1 157.5,338.2 156.1,351.5 155.0,351.6 153.9,338.6 153.1,338.8 151.8,348.9 150.7,349.0 149.6,339.3 148.7,339.5 147.4,350.6 146.3,350.8 145.2,340.2 144.3,340.4 143.0,350.2 141.9,350.5 140.8,341.3 139.9,341.6 138.6,351.8 137.5,352.1 136.4,342.6 135.5,342.9 134.2,355.1 133.1,355.4 132.0,344.0 131.2,344.3 129.8,354.2 128.7,354.5 127.6,345.6 126.8,345.9 125.5,358.3 124.4,358.6 123.3,347.3 122.4,347.7 121.1,357.7 120.0,358.0 118.9,349.2 118.0,349.6 116.7,360.9 115.6,361.3 114.5,351.2 113.6,351.7 112.3,360.7 111.2,361.4 110.1,354.1 109.2,354.9 107.9,364.9 106.8,365.8 105.7,358.0 104.9,358.8 103.5,368.0 102.4,369.0 101.3,362.3 100.5,363.2 99.2,373.6 98.1,374.7 97.0,366.8 96.1,367.8 94.8,378.8 93.7,380.3 92.6,372.1 91.7,373.2 90.4,384.6 89.3,386.3 88.2,378.1 87.3,379.4 86.0,392.1 84.9,394.0 83.8,384.9 82.9,386.6 81.6,397.3 80.5,399.6 79.4,393.7 78.6,395.6 77.2,409.5 76.1,412.0 75.0,403.7 74.2,405.9 72.9,418.6 71.8,421.5 70.7,415.0 69.8,417.4 68.5,430.9 67.4,434.1 66.3,427.7 65.4,437.0 64.1,441.2 63.0,441.2 62.6,441.2 37.6,441.2" fill="#F7901E"/>
<polygon points="37.6,433.4 38.2,433.4 38.8,433.5 39.4,434.7 40.0,435.1 40.6,433.2 41.2,433.9 41.8,435.2 42.4,433.3 43.0,433.2 43.6,434.6 44.2,433.5 44.8,435.1 45.4,434.3 46.0,433.5 46.6,434.4 47.2,434.1 47.8,435.0 48.4,433.5 49.0,434.2 49.6,434.7 50.2,433.6 50.8,433.2 51.4,434.1 52.0,433.7 52.6,433.1 53.2,435.2 53.8,434.0 54.4,433.2 55.0,435.0 55.6,434.8 56.2,434.1 56.8,433.7 57.4,434.1 58.0,434.1 58.6,435.1 59.2,433.7 59.8,434.6 60.4,435.1 61.5,433.9 63.0,426.3 64.8,423.2 65.9,418.3 67.4,406.4 69.1,394.3 70.2,389.6 71.8,384.3 73.5,382.4 74.6,380.4 76.2,375.8 77.9,373.5 79.0,371.2 80.5,366.7 82.3,364.6 83.4,362.7 84.9,359.7 86.7,358.0 87.8,356.7 89.3,354.8 91.1,353.1 92.2,352.0 93.7,350.4 95.4,348.8 96.5,347.8 98.1,346.5 99.8,345.0 100.9,344.2 102.5,343.1 104.2,341.9 105.3,341.2 106.8,340.3 108.6,339.3 109.7,338.7 111.2,337.3 113.0,336.8 114.1,336.1 115.6,334.4 117.4,343.4 118.5,342.6 120.0,330.0 121.7,340.1 122.8,339.3 124.4,328.4 126.1,337.1 127.2,336.5 128.8,325.4 130.5,335.4 131.6,335.1 133.1,324.8 134.9,334.4 136.0,334.2 137.5,323.5 139.3,333.6 140.4,333.4 141.9,320.5 143.7,332.9 144.8,332.7 146.3,321.1 148.0,332.3 149.1,332.2 150.7,321.3 152.4,331.8 153.5,331.7 155.1,318.9 156.8,331.5 157.9,331.4 159.4,320.1 161.2,331.3 162.3,331.2 163.8,320.5 165.6,331.1 166.7,331.0 168.2,318.6 170.0,330.9 171.1,330.9 172.6,319.7 174.3,330.7 175.4,330.7 177.0,317.7 178.7,330.6 179.8,330.5 181.4,317.9 183.1,330.4 184.2,330.4 185.7,318.8 187.5,330.3 188.6,330.3 190.1,319.5 191.9,330.2 193.0,330.2 194.5,319.3 196.3,330.1 197.4,330.1 198.9,317.3 200.6,330.0 201.7,330.0 203.3,318.2 205.0,330.0 206.1,330.0 207.7,317.8 209.4,329.9 210.5,329.9 212.0,319.6 213.8,329.9 214.9,329.9 216.4,316.3 216.5,329.9 216.5,329.9 215.5,341.0 214.4,329.9 213.6,329.9 212.3,341.0 211.2,341.0 210.1,329.9 209.2,329.9 207.9,340.2 206.8,340.2 205.7,330.0 204.8,330.0 203.5,342.2 202.4,342.3 201.3,330.0 200.4,330.0 199.1,339.8 198.0,339.8 196.9,330.1 196.0,330.1 194.7,339.0 193.6,339.0 192.5,330.2 191.7,330.2 190.3,341.5 189.2,341.5 188.1,330.3 187.3,330.3 186.0,340.4 184.9,340.4 183.8,330.4 182.9,330.4 181.6,340.6 180.5,340.6 179.4,330.6 178.5,330.6 177.2,339.9 176.1,340.0 175.0,330.7 174.1,330.7 172.8,341.8 171.7,341.8 170.6,330.9 169.7,330.9 168.4,342.2 167.3,342.2 166.2,331.1 165.4,331.1 164.0,342.5 162.9,342.6 161.8,331.2 161.0,331.3 159.7,343.3 158.6,343.4 157.5,331.5 156.6,331.5 155.3,341.8 154.2,341.9 153.1,331.8 152.2,331.9 150.9,344.2 149.8,344.3 148.7,332.2 147.8,332.3 146.5,342.0 145.4,342.1 144.3,332.8 143.4,332.9 142.1,341.4 141.0,341.6 139.9,333.4 139.1,333.6 137.7,345.4 136.6,345.6 135.6,334.3 134.7,334.4 133.4,342.9 132.3,343.1 131.2,335.2 130.3,335.4 129.0,345.8 127.9,346.2 126.8,336.7 125.9,337.2 124.6,349.0 123.5,349.7 122.4,339.6 121.5,340.3 120.2,350.2 119.1,351.1 118.0,343.0 117.1,343.6 115.8,353.8 114.7,354.7 113.6,346.3 112.8,347.1 111.4,360.4 110.3,361.2 109.3,350.5 108.4,351.4 107.1,360.4 106.0,361.4 104.9,355.2 104.0,356.2 102.7,365.8 101.6,366.8 100.5,360.1 99.6,361.0 98.3,368.8 97.2,370.0 96.1,365.1 95.2,366.1 93.9,375.7 92.8,377.1 91.7,370.4 90.8,371.5 89.5,381.6 88.4,383.1 87.3,376.2 86.5,377.4 85.1,386.7 84.1,388.3 83.0,382.5 82.1,383.9 80.8,395.7 79.7,397.5 78.6,389.6 77.7,391.2 76.4,403.6 75.3,405.7 74.2,397.8 73.3,399.4 72.0,412.0 70.9,414.5 69.8,408.8 68.9,415.3 67.6,422.6 66.5,426.0 65.4,424.7 64.5,427.7 63.2,437.0 62.1,441.0 61.0,438.6 60.9,441.2 37.6,441.2" fill="#1EA0F0"/>
<polygon points="37.6,433.5 38.2,434.5 38.8,433.8 39.4,433.4 40.0,433.9 40.6,434.1 41.2,433.6 41.8,433.7 42.4,434.2 43.0,434.0 43.6,433.7 44.2,435.1 44.8,433.9 45.4,433.7 46.0,434.4 46.6,434.2 47.2,434.7 47.8,433.9 48.4,433.2 49.0,434.6 49.6,434.3 50.2,433.4 50.8,434.1 51.4,434.3 52.0,433.8 52.6,435.2 53.2,434.9 53.8,433.4 54.4,434.9 55.0,435.2 55.6,433.3 56.2,433.6 56.8,433.2 57.4,433.6 58.0,433.3 58.6,434.5 59.2,433.6 60.8,429.7 62.5,438.2 63.6,437.9 65.2,430.2 66.9,434.0 68.0,424.7 69.5,403.6 71.3,403.9 72.4,401.3 73.9,389.8 75.7,394.9 76.8,392.9 78.3,381.6 80.1,387.1 81.1,385.3 82.7,374.3 84.4,380.3 85.5,378.7 87.1,367.4 88.8,374.2 89.9,372.7 91.4,364.3 93.2,368.6 94.3,367.2 95.8,358.8 97.6,363.3 98.7,362.1 100.2,351.1 102.0,358.4 103.1,357.2 104.6,345.1 106.4,353.6 107.4,352.4 109.0,341.8 110.7,349.0 111.8,348.0 113.4,334.9 115.1,345.0 116.2,334.7 117.7,332.5 119.5,332.0 120.6,331.0 122.1,328.4 123.9,328.2 125.0,327.4 126.5,324.9 128.3,325.5 129.4,325.1 130.9,323.5 132.6,324.4 133.7,324.2 135.3,322.5 137.0,323.7 138.1,323.6 139.7,320.8 141.4,323.2 142.5,323.0 144.0,320.4 145.8,322.7 146.9,322.6 148.4,319.8 150.2,322.3 151.3,322.2 152.8,319.9 154.6,322.0 155.7,321.9 157.2,319.3 158.9,321.7 160.0,321.6 161.6,318.9 163.3,321.3 164.4,321.3 166.0,318.3 167.7,321.0 168.8,320.9 170.3,318.4 172.1,320.7 173.2,320.7 174.7,318.7 176.5,320.5 177.6,320.4 179.1,317.7 180.9,320.2 182.0,320.2 183.5,318.1 185.2,320.0 186.3,320.0 187.9,317.6 189.6,319.9 190.7,319.8 192.3,318.0 194.0,319.7 195.1,319.7 196.6,317.9 198.4,319.6 199.5,319.5 201.0,317.6 202.8,319.4 203.9,319.4 205.4,316.9 207.2,319.3 208.3,319.3 209.8,317.6 211.5,319.2 212.6,319.2 214.2,317.3 215.9,319.2 216.5,319.1 216.5,341.6 215.7,341.6 214.4,353.1 213.3,353.2 212.2,341.6 211.3,341.6 210.0,355.0 208.9,355.0 207.8,341.6 206.9,341.6 205.6,355.7 204.5,355.7 203.4,341.7 202.6,341.7 201.2,352.6 200.1,352.6 199.1,341.7 198.2,341.8 196.9,353.1 195.8,353.2 194.7,341.8 193.8,341.9 192.5,353.7 191.4,353.8 190.3,342.0 189.4,342.0 188.1,355.3 187.0,355.3 185.9,342.1 185.0,342.1 183.7,353.5 182.6,353.6 181.5,342.2 180.6,342.3 179.3,354.7 178.2,354.7 177.1,342.4 176.3,342.4 174.9,354.9 173.8,354.9 172.8,342.6 171.9,342.6 170.6,355.3 169.5,355.3 168.4,342.8 167.5,342.8 166.2,357.5 165.1,357.6 164.0,343.0 163.1,343.0 161.8,357.4 160.7,357.5 159.6,343.2 158.7,343.2 157.4,356.4 156.3,356.4 155.2,343.4 154.3,343.5 153.0,355.1 151.9,355.2 150.8,343.7 150.0,343.8 148.6,356.7 147.6,356.8 146.5,344.1 145.6,344.2 144.3,357.0 143.2,357.1 142.1,344.5 141.2,344.7 139.9,358.8 138.8,358.9 137.7,345.1 136.8,345.2 135.5,356.3 134.4,356.5 133.3,345.8 132.4,345.9 131.1,361.1 130.0,361.3 128.9,346.6 128.0,346.8 126.7,357.9 125.6,358.2 124.5,348.1 123.7,348.5 122.3,362.8 121.3,363.3 120.2,350.3 119.3,350.8 118.0,365.2 116.9,365.7 115.8,352.8 114.9,353.3 113.6,367.2 112.5,367.7 111.4,355.3 110.5,355.8 109.2,367.7 108.1,368.3 107.0,358.1 106.1,358.7 104.8,369.1 103.7,369.9 102.6,361.5 101.7,362.2 100.4,371.9 99.3,372.9 98.2,365.9 97.4,367.0 96.1,379.2 95.0,380.9 93.9,372.2 93.0,373.6 91.7,384.2 90.6,386.1 89.5,379.9 88.6,381.5 87.3,393.0 86.2,395.1 85.1,388.1 84.2,389.8 82.9,403.7 81.8,406.1 80.7,397.1 79.8,398.8 78.5,411.4 77.4,413.5 76.3,405.7 75.5,407.7 74.1,419.3 73.0,422.2 71.9,416.8 71.1,419.4 69.8,434.2 68.7,438.3 67.6,432.3 66.7,436.1 65.4,440.5 64.3,440.6 63.2,438.0 62.3,438.3 61.0,441.2 59.9,441.2 59.5,441.2 37.6,441.2" fill="#9B1CD6"/>
<path d="M97.0 358.5L98.1 368.0M101.3 354.2L102.4 364.1M105.7 351.0L106.8 360.9M110.1 346.0L111.2 359.3M114.5 344.0L115.6 356.8M118.9 340.4L120.0 353.5M123.3 339.5L124.4 351.5M127.6 335.7L128.7 348.2M132.0 334.6L133.1 347.7M136.4 333.3L137.5 346.3M140.8 333.6L141.9 345.4M145.2 331.5L146.3 344.7M149.6 331.1L150.6 344.7M153.9 331.4L155.0 343.4M158.3 331.7L159.4 343.3M162.7 331.7L163.8 342.5M167.1 330.2L168.2 343.6M171.5 331.0L172.6 343.6M175.9 330.0L176.9 341.8M180.2 329.7L181.3 343.2M184.6 330.4L185.7 341.4M189.0 330.7L190.1 341.0M193.4 329.3L194.5 341.7M197.8 330.3L198.9 340.5M202.2 328.7L203.2 341.4M206.5 330.2L207.6 342.1M210.9 329.2L212.0 341.0M215.3 328.5L216.4 341.2" stroke="#1EA0F0" stroke-width="0.9" fill="none"/>
<polygon points="37.6,433.8 38.2,433.5 38.8,434.5 39.4,435.1 40.0,434.0 40.6,434.9 41.2,433.7 41.8,434.5 42.4,434.3 43.0,433.2 43.6,433.6 44.2,433.5 44.8,434.1 45.4,433.3 46.0,435.2 46.6,433.4 47.2,434.4 47.8,434.7 48.4,434.1 49.0,433.2 49.6,434.5 50.2,433.3 50.8,434.2 51.4,433.2 52.0,433.6 52.6,433.6 53.2,434.5 53.8,434.0 54.4,434.7 55.0,433.5 56.3,423.4 58.1,431.7 59.2,431.4 60.7,405.0 62.5,405.4 63.6,403.0 65.1,392.6 66.8,393.9 67.9,390.3 69.5,378.6 71.2,380.9 72.3,378.2 73.9,367.3 75.6,371.1 76.7,368.9 78.2,358.2 80.0,362.7 81.1,360.8 82.6,351.6 84.4,355.4 85.5,353.8 87.0,344.2 88.8,349.3 89.9,347.8 91.4,337.0 93.1,343.8 94.2,342.6 95.8,331.0 97.5,339.2 98.6,338.1 100.2,326.7 101.9,335.3 103.0,334.4 104.5,324.9 106.3,332.0 107.4,331.3 108.9,321.4 110.7,329.1 111.8,328.4 113.3,316.3 115.1,326.2 116.2,325.4 117.7,313.7 119.4,322.9 120.5,322.0 122.1,308.8 123.8,319.5 124.9,318.7 126.5,308.7 128.2,316.7 129.3,316.1 130.8,305.6 132.6,314.8 133.7,314.3 135.2,302.3 137.0,313.1 138.1,312.7 139.6,301.7 141.4,311.7 142.5,311.3 144.0,300.5 145.7,310.4 146.8,310.1 148.4,299.2 150.1,309.3 151.2,309.0 152.8,299.1 154.5,308.3 155.6,308.1 157.1,297.7 158.9,307.5 160.0,307.4 161.5,297.0 163.3,306.9 164.4,306.7 165.9,293.7 167.7,306.3 168.8,306.1 170.3,294.9 172.0,305.7 173.1,305.6 174.7,294.3 176.4,305.3 177.5,305.2 179.1,295.1 180.8,304.9 181.9,304.8 183.4,291.0 185.2,304.6 186.3,304.5 187.8,292.7 189.6,304.4 190.7,304.4 192.2,292.1 194.0,304.2 195.1,304.2 196.6,292.8 198.3,304.1 199.4,304.1 201.0,292.4 202.7,304.0 203.8,303.9 205.4,293.9 207.1,303.9 208.2,303.8 209.7,291.3 211.5,303.8 212.6,303.8 214.1,294.0 215.9,303.8 216.5,303.8 216.5,319.1 215.7,319.2 214.3,332.9 213.2,332.9 212.1,319.2 211.3,319.2 210.0,331.2 208.9,331.3 207.8,319.3 206.9,319.3 205.6,333.6 204.5,333.6 203.4,319.4 202.5,319.4 201.2,332.7 200.1,332.8 199.0,319.5 198.1,319.6 196.8,331.7 195.7,331.7 194.6,319.7 193.7,319.7 192.4,335.1 191.3,335.1 190.2,319.8 189.4,319.9 188.0,335.0 186.9,335.1 185.8,320.0 185.0,320.0 183.7,335.1 182.6,335.2 181.5,320.2 180.6,320.3 179.3,335.9 178.2,336.0 177.1,320.4 176.2,320.5 174.9,334.6 173.8,334.6 172.7,320.7 171.8,320.8 170.5,334.6 169.4,334.6 168.3,321.0 167.4,321.0 166.1,331.6 165.0,331.6 163.9,321.3 163.1,321.4 161.7,335.2 160.6,335.3 159.6,321.6 158.7,321.7 157.4,334.5 156.3,334.5 155.2,321.9 154.3,322.0 153.0,333.6 151.9,333.7 150.8,322.3 149.9,322.3 148.6,333.9 147.5,334.0 146.4,322.6 145.5,322.7 144.2,333.9 143.1,334.0 142.0,323.1 141.1,323.2 139.8,338.4 138.7,338.5 137.6,323.6 136.8,323.8 135.4,334.0 134.3,334.1 133.3,324.3 132.4,324.5 131.1,334.7 130.0,334.9 128.9,325.2 128.0,325.6 126.7,337.0 125.6,337.6 124.5,327.7 123.6,328.4 122.3,341.0 121.2,341.9 120.1,331.5 119.2,332.2 117.9,346.2 116.8,347.0 115.7,335.0 114.8,335.6 113.5,346.8 112.4,347.4 111.3,337.7 110.5,338.2 109.1,351.4 108.0,352.0 107.0,340.3 106.1,340.8 104.8,353.6 103.7,354.2 102.6,343.0 101.7,343.6 100.4,355.0 99.3,355.8 98.2,346.4 97.3,347.1 96.0,359.1 94.9,360.0 93.8,350.3 92.9,351.2 91.6,361.5 90.5,362.6 89.4,354.8 88.5,355.8 87.2,364.8 86.1,366.2 85.0,360.1 84.2,361.4 82.8,373.4 81.8,375.4 80.7,367.8 79.8,369.6 78.5,383.2 77.4,385.6 76.3,377.0 75.4,378.9 74.1,390.6 73.0,392.6 71.9,385.5 71.0,387.5 69.7,399.0 68.6,405.4 67.5,406.3 66.6,413.1 65.3,429.4 64.2,433.7 63.1,429.2 62.2,431.9 60.9,440.5 59.8,440.7 58.7,436.3 57.9,436.3 56.5,440.1 55.5,441.2 37.6,441.2" fill="#FF0A0A"/>
<polygon points="267.5,435.3 268.1,435.0 268.7,435.6 269.3,434.8 269.9,435.1 270.5,435.7 271.1,435.6 271.7,434.0 272.3,434.5 272.9,435.0 273.5,434.6 274.1,435.3 274.7,435.3 275.3,435.7 275.9,435.7 276.5,434.3 277.1,434.3 277.7,435.8 278.3,435.2 278.9,435.7 279.5,434.9 280.1,434.7 280.7,434.8 281.3,435.6 281.9,434.5 282.5,434.7 283.1,434.9 283.7,435.3 284.3,434.1 284.9,435.7 285.5,435.5 286.1,435.1 286.7,435.3 287.3,434.7 287.9,434.5 288.5,434.5 289.1,434.4 289.7,435.5 290.3,434.4 291.7,425.6 293.4,420.3 294.5,415.6 296.0,408.4 297.8,413.3 298.9,410.6 300.4,400.7 302.2,399.7 303.3,396.9 304.8,392.9 306.6,398.3 307.6,396.1 309.2,383.5 310.9,389.7 312.0,387.7 313.6,377.2 315.3,382.5 316.4,381.3 317.9,373.2 319.7,378.7 320.8,378.0 322.3,368.9 324.1,375.9 325.2,375.3 326.7,366.9 328.5,373.4 329.6,372.8 331.1,363.7 332.9,371.0 333.9,370.5 335.5,360.6 337.2,368.9 338.3,368.5 339.9,356.1 341.6,367.1 342.7,366.6 344.2,355.3 346.0,365.4 347.1,365.1 348.6,355.6 350.4,364.0 351.5,363.7 353.0,354.1 354.8,362.8 355.9,362.5 357.4,353.4 359.1,361.8 360.2,361.6 361.8,350.3 363.5,361.1 364.6,360.9 366.2,347.5 367.9,360.5 369.0,360.4 370.5,349.2 372.3,360.2 373.4,360.1 374.9,347.7 376.7,359.9 377.8,359.8 379.3,349.8 381.1,359.6 382.2,359.6 383.7,346.9 385.4,359.4 386.5,359.3 388.1,347.2 389.8,359.1 390.9,359.1 392.5,349.0 394.2,358.9 395.3,358.8 396.8,348.1 398.6,358.7 399.7,358.6 401.2,348.4 403.0,358.5 404.1,358.4 405.6,347.8 407.4,358.3 408.5,358.3 410.0,344.9 411.7,358.2 412.8,358.1 414.4,346.5 416.1,358.0 417.2,358.0 418.8,344.8 420.5,357.9 421.6,357.9 423.1,346.1 424.9,357.8 426.0,357.8 427.5,348.5 429.3,357.7 430.4,357.7 431.9,346.2 433.7,357.6 434.8,357.6 436.3,347.6 438.0,357.6 439.1,357.6 440.7,347.4 442.4,357.6 443.5,357.6 445.1,347.2 446.4,357.6 446.4,366.5 445.3,381.0 444.2,381.0 443.1,366.5 442.2,366.5 440.9,378.2 439.8,378.2 438.7,366.5 437.8,366.5 436.5,377.2 435.4,377.2 434.3,366.6 433.4,366.6 432.1,377.0 431.0,377.0 429.9,366.6 429.1,366.6 427.7,378.1 426.6,378.1 425.6,366.6 424.7,366.6 423.4,380.3 422.3,380.4 421.2,366.7 420.3,366.7 419.0,380.6 417.9,380.6 416.8,366.7 415.9,366.7 414.6,381.0 413.5,381.1 412.4,366.8 411.5,366.8 410.2,381.4 409.1,381.5 408.0,366.9 407.1,366.9 405.8,378.7 404.7,378.8 403.6,367.0 402.8,367.0 401.4,381.5 400.4,381.5 399.3,367.1 398.4,367.1 397.1,381.6 396.0,381.7 394.9,367.2 394.0,367.2 392.7,380.1 391.6,380.2 390.5,367.3 389.6,367.3 388.3,381.0 387.2,381.1 386.1,367.5 385.2,367.6 383.9,380.8 382.8,380.9 381.7,367.8 380.8,367.9 379.5,380.7 378.4,380.8 377.3,368.2 376.5,368.2 375.1,380.6 374.1,380.6 373.0,368.5 372.1,368.6 370.8,380.9 369.7,381.0 368.6,368.9 367.7,368.9 366.4,381.2 365.3,381.3 364.2,369.4 363.3,369.5 362.0,381.9 360.9,382.1 359.8,370.2 358.9,370.4 357.6,380.7 356.5,380.9 355.4,371.2 354.5,371.4 353.2,384.1 352.1,384.4 351.0,372.4 350.2,372.7 348.8,385.1 347.8,385.4 346.7,373.8 345.8,374.1 344.5,385.5 343.4,385.8 342.3,375.5 341.4,375.8 340.1,390.0 339.0,390.3 337.9,377.3 337.0,377.7 335.7,389.0 334.6,389.5 333.5,379.4 332.6,379.8 331.3,391.6 330.2,392.1 329.1,381.6 328.2,382.1 326.9,395.4 325.8,395.9 324.7,384.1 323.9,384.6 322.6,396.0 321.5,396.5 320.4,386.8 319.5,387.3 318.2,396.9 317.1,397.5 316.0,389.9 315.1,390.7 313.8,400.6 312.7,401.8 311.6,394.5 310.7,395.6 309.4,405.9 308.3,407.4 307.2,400.5 306.3,401.9 305.0,411.7 303.9,413.6 302.8,408.0 302.0,409.8 300.6,422.7 299.5,425.3 298.4,418.2 297.6,420.5 296.3,431.7 295.2,435.1 294.1,436.5 293.2,432.1 291.9,440.3 290.8,441.1 290.8,441.2 267.5,441.2" fill="#E8127F"/>
<polygon points="267.5,434.4 268.1,434.7 268.7,434.5 269.3,435.7 269.9,434.6 270.5,434.0 271.1,435.0 271.7,435.6 272.3,434.0 272.9,434.5 273.5,435.4 274.1,434.6 274.7,434.0 275.3,435.4 275.9,434.2 276.5,434.5 277.1,435.4 277.7,435.5 278.3,434.0 278.9,435.2 279.5,435.0 280.1,434.6 280.7,435.0 281.3,435.8 281.9,435.3 282.5,434.9 283.1,434.4 283.7,434.7 284.3,435.0 284.9,435.5 285.7,436.3 286.8,432.1 288.3,417.9 290.1,407.7 291.2,403.1 292.7,397.6 294.4,392.0 295.5,388.7 297.1,384.3 298.8,379.6 299.9,377.0 301.5,373.7 303.2,370.5 304.3,368.8 305.8,365.4 307.6,370.2 308.7,367.3 310.2,359.5 312.0,359.2 313.1,356.7 314.6,353.3 316.4,359.3 317.5,358.6 319.0,352.9 320.7,356.6 321.8,355.9 323.4,350.3 325.1,354.2 326.2,353.6 327.8,344.9 329.5,352.0 330.6,351.4 332.1,344.9 333.9,349.6 335.0,348.9 336.5,342.1 338.3,346.4 339.4,345.6 340.9,340.7 342.7,344.3 343.8,343.9 345.3,338.7 347.0,342.7 348.1,342.3 349.7,335.1 351.4,341.3 352.5,341.0 354.1,334.0 355.8,340.2 356.9,339.9 358.4,334.0 360.2,339.3 361.3,339.1 362.8,331.7 364.6,338.6 365.7,338.5 367.2,331.1 369.0,338.2 370.1,338.2 371.6,332.0 373.3,338.1 374.4,338.0 376.0,331.6 377.7,338.0 378.8,337.9 380.4,329.5 382.1,337.8 383.2,337.8 384.7,331.7 386.5,337.7 387.6,337.7 389.1,331.9 390.9,337.6 392.0,337.6 393.5,329.6 395.3,337.6 396.3,337.5 397.9,329.1 399.6,337.5 400.7,337.5 402.3,329.6 404.0,337.4 405.1,337.4 406.6,328.6 408.4,337.4 409.5,337.3 411.0,331.3 412.8,337.3 413.9,337.3 415.4,330.0 417.2,337.2 418.3,337.2 419.8,328.5 421.6,337.2 422.6,337.2 424.2,328.8 425.9,337.2 427.0,337.2 428.6,331.1 430.3,337.1 431.4,337.1 432.9,328.6 434.7,337.1 435.8,337.1 437.3,330.2 439.1,337.1 440.2,337.1 441.7,330.8 443.5,337.1 444.6,337.1 446.1,330.0 446.4,337.1 446.4,356.1 446.3,360.3 445.2,360.3 444.1,356.1 443.2,356.1 441.9,361.8 440.8,361.8 439.7,356.1 438.9,356.1 437.5,361.9 436.5,361.9 435.4,356.1 434.5,356.1 433.2,362.4 432.1,362.4 431.0,356.1 430.1,356.1 428.8,360.9 427.7,360.9 426.6,356.2 425.7,356.2 424.4,361.9 423.3,361.9 422.2,356.2 421.3,356.3 420.0,362.4 418.9,362.4 417.8,356.3 416.9,356.3 415.6,361.1 414.5,361.1 413.4,356.4 412.6,356.4 411.3,362.7 410.2,362.7 409.1,356.5 408.2,356.5 406.9,362.5 405.8,362.5 404.7,356.6 403.8,356.7 402.5,362.1 401.4,362.1 400.3,356.8 399.4,356.8 398.1,362.4 397.0,362.4 395.9,356.9 395.0,356.9 393.7,361.7 392.6,361.8 391.5,357.1 390.7,357.1 389.3,361.6 388.2,361.6 387.1,357.2 386.3,357.3 385.0,363.3 383.9,363.4 382.8,357.4 381.9,357.5 380.6,363.7 379.5,363.8 378.4,357.6 377.5,357.7 376.2,364.1 375.1,364.2 374.0,357.8 373.1,357.9 371.8,363.7 370.7,363.9 369.6,358.1 368.7,358.1 367.4,363.9 366.3,364.1 365.2,358.5 364.4,358.7 363.0,365.9 361.9,366.2 360.8,359.3 360.0,359.5 358.7,365.9 357.6,366.2 356.5,360.4 355.6,360.6 354.3,366.2 353.2,366.5 352.1,361.7 351.2,361.9 349.9,368.9 348.8,369.3 347.7,363.1 346.8,363.4 345.5,369.8 344.4,370.2 343.3,364.6 342.4,364.9 341.1,370.6 340.0,371.1 338.9,366.2 338.1,366.6 336.7,375.9 335.6,376.6 334.5,368.1 333.7,368.5 332.4,376.8 331.3,377.2 330.2,370.4 329.3,370.9 328.0,378.5 326.9,378.7 325.8,373.0 324.9,373.6 323.6,379.4 322.5,379.7 321.4,376.0 320.5,376.6 319.2,380.6 318.1,381.0 317.0,379.1 316.1,379.8 314.8,382.1 313.7,382.4 312.6,382.6 311.8,383.5 310.4,384.8 309.3,386.0 308.2,387.4 307.4,388.5 306.1,386.9 305.0,387.7 303.9,380.9 303.0,383.4 301.7,390.5 300.6,393.1 299.5,393.9 298.6,396.8 297.3,403.3 296.2,407.0 295.1,409.1 294.2,411.0 292.9,418.7 291.8,423.0 290.7,419.5 289.8,423.5 288.5,439.3 287.4,441.0 286.3,436.3 285.5,437.6 285.4,441.2 267.5,441.2" fill="#1010F0"/>
<polygon points="267.5,435.1 268.1,435.4 268.7,435.7 269.3,434.6 269.9,435.0 270.5,434.0 271.1,434.2 271.7,434.2 272.3,435.7 272.9,434.8 273.5,434.7 274.1,435.7 274.7,434.9 275.3,435.2 275.9,435.4 276.5,434.3 277.1,435.0 277.7,435.6 278.3,435.1 278.9,434.1 279.5,435.1 280.1,435.5 280.7,435.7 281.3,434.9 281.9,434.6 282.5,435.0 283.1,434.2 283.7,434.8 284.3,434.3 284.9,434.8 285.5,434.7 286.1,435.0 286.7,435.6 287.3,434.5 287.9,434.2 288.6,431.2 289.7,428.8 291.3,417.3 293.0,417.2 294.1,412.9 295.6,398.7 297.4,400.9 298.5,397.2 300.0,382.7 301.8,386.9 302.9,383.8 304.4,370.7 306.2,374.2 307.2,365.7 308.8,357.2 310.5,359.6 311.6,356.0 313.2,344.0 314.9,346.0 316.0,343.3 317.5,331.5 319.3,337.5 320.4,336.2 321.9,324.5 323.7,332.7 324.8,331.7 326.3,320.5 328.1,329.1 329.2,328.2 330.7,318.3 332.5,325.4 333.5,324.3 335.1,312.9 336.8,320.1 337.9,318.3 339.5,306.4 341.2,314.7 342.3,314.0 343.8,304.2 345.6,311.9 346.7,311.2 348.2,299.7 350.0,309.5 351.1,309.0 352.6,296.5 354.4,307.6 355.5,307.2 357.0,295.9 358.8,306.0 359.8,305.6 361.4,296.0 363.1,304.7 364.2,304.3 365.8,293.9 367.5,303.5 368.6,303.2 370.1,291.0 371.9,302.4 373.0,302.1 374.5,289.2 376.3,301.3 377.4,301.1 378.9,290.6 380.7,300.4 381.8,300.2 383.3,289.7 385.0,299.6 386.1,299.4 387.7,286.6 389.4,298.9 390.5,298.7 392.1,286.2 393.8,298.2 394.9,298.1 396.4,284.4 398.2,297.7 399.3,297.6 400.8,286.3 402.6,297.2 403.7,297.1 405.2,287.4 407.0,296.7 408.1,296.6 409.6,286.8 411.3,296.4 412.4,296.3 414.0,283.5 415.7,296.3 416.8,296.3 418.4,283.6 420.1,296.3 421.2,296.3 422.7,285.7 424.5,296.3 425.6,296.3 427.1,287.1 428.9,296.4 430.0,296.4 431.5,285.0 433.3,296.4 434.4,296.5 435.9,285.7 437.6,296.6 438.7,296.6 440.3,285.1 442.0,296.7 443.1,296.8 444.7,285.8 446.4,297.0 446.4,310.5 446.2,310.5 444.9,312.0 443.8,312.1 442.7,310.6 441.8,310.6 440.5,312.7 439.4,312.8 438.3,310.7 437.4,310.7 436.1,313.3 435.0,313.4 433.9,310.9 433.0,310.9 431.7,313.1 430.6,313.2 429.5,311.1 428.7,311.1 427.3,313.3 426.2,313.4 425.2,311.3 424.3,311.4 423.0,314.3 421.9,314.4 420.8,311.6 419.9,311.7 418.6,314.4 417.5,314.5 416.4,311.9 415.5,312.0 414.2,314.2 413.1,314.3 412.0,312.2 411.1,312.3 409.8,314.8 408.7,314.9 407.6,312.6 406.7,312.6 405.4,315.1 404.3,315.2 403.2,312.9 402.4,313.0 401.0,316.1 400.0,316.2 398.9,313.3 398.0,313.4 396.7,316.2 395.6,316.2 394.5,313.7 393.6,313.8 392.3,316.0 391.2,316.0 390.1,314.1 389.2,314.2 387.9,316.9 386.8,317.0 385.7,314.6 384.8,314.7 383.5,316.8 382.4,316.9 381.3,315.2 380.4,315.3 379.1,317.5 378.0,317.5 376.9,315.8 376.1,316.0 374.7,318.0 373.7,318.2 372.6,316.5 371.7,316.7 370.4,318.4 369.3,318.6 368.2,317.3 367.3,317.5 366.0,319.0 364.9,319.2 363.8,318.1 362.9,318.3 361.6,320.0 360.5,320.2 359.4,319.0 358.5,319.2 357.2,320.8 356.1,321.1 355.0,320.0 354.1,320.2 352.8,321.9 351.7,322.3 350.6,321.2 349.8,321.5 348.4,323.7 347.4,324.2 346.3,322.7 345.4,323.1 344.1,325.4 343.0,325.9 341.9,324.6 341.0,325.0 339.7,327.5 338.6,328.4 337.5,327.7 336.6,328.7 335.3,332.6 334.2,333.8 333.1,331.7 332.2,332.3 330.9,337.9 329.8,339.3 328.7,334.6 327.8,335.2 326.5,344.6 325.4,346.2 324.3,337.5 323.5,338.1 322.2,349.3 321.1,351.0 320.0,343.2 319.1,344.7 317.8,358.2 316.7,360.3 315.6,351.3 314.7,353.1 313.4,366.0 312.3,368.5 311.2,361.0 310.3,363.1 309.0,375.8 307.9,378.6 306.8,376.8 305.9,390.6 304.6,392.9 303.5,395.3 302.4,396.7 301.6,398.0 300.2,403.0 299.1,407.1 298.0,403.7 297.2,405.3 295.9,417.4 294.8,421.9 293.7,419.2 292.8,423.0 291.5,438.4 290.4,441.0 289.3,436.3 288.4,436.5 288.1,441.2 267.5,441.2" fill="#F7901E"/>
<polygon points="267.5,434.5 268.1,434.6 268.7,435.6 269.3,435.6 269.9,434.6 270.5,434.2 271.1,435.4 271.7,435.4 272.3,434.5 272.9,434.9 273.5,435.0 274.1,435.2 274.7,435.7 275.3,435.0 275.9,435.3 276.5,435.1 277.1,434.8 277.7,434.5 278.3,434.6 278.9,434.4 279.5,435.8 280.1,434.6 280.7,434.8 281.3,434.2 282.5,433.0 284.1,416.1 285.8,415.6 286.9,411.9 288.4,398.7 290.2,403.3 291.3,400.6 292.8,387.1 294.6,391.5 295.7,388.2 297.2,374.3 299.0,378.2 300.0,375.0 301.6,363.6 303.3,366.1 304.4,363.6 306.0,352.5 307.7,357.2 308.8,355.3 310.3,344.9 312.1,349.9 313.2,348.4 314.7,339.4 316.5,344.3 317.6,343.1 319.1,333.0 320.9,340.1 322.0,339.2 323.5,328.2 325.3,336.9 326.3,336.2 327.9,326.4 329.6,334.0 330.7,333.3 332.3,322.9 334.0,331.0 335.1,330.1 336.6,319.2 338.4,326.7 339.5,325.8 341.0,315.6 342.8,324.1 343.9,323.7 345.4,314.2 347.2,322.4 348.3,322.0 349.8,311.7 351.6,320.9 352.6,320.6 354.2,310.1 355.9,319.8 357.0,319.5 358.6,308.2 360.3,318.8 361.4,318.6 362.9,306.2 364.7,317.9 365.8,317.7 367.3,308.4 369.1,317.1 370.2,316.9 371.7,304.8 373.5,316.4 374.6,316.2 376.1,306.4 377.8,315.7 378.9,315.5 380.5,305.4 382.2,315.1 383.3,314.9 384.9,304.5 386.6,314.5 387.7,314.4 389.2,303.0 391.0,314.0 392.1,313.9 393.6,301.6 395.4,313.6 396.5,313.5 398.0,302.5 399.8,313.2 400.9,313.1 402.4,299.5 404.1,312.8 405.2,312.8 406.8,300.6 408.5,312.5 409.6,312.4 411.2,300.3 412.9,312.1 414.0,312.1 415.5,298.3 417.3,311.8 418.4,311.8 419.9,299.6 421.7,311.5 422.8,311.5 424.3,302.0 426.1,311.3 427.2,311.2 428.7,298.6 430.4,311.0 431.5,311.0 433.1,300.6 434.8,310.8 435.9,310.8 437.5,297.3 439.2,310.7 440.3,310.6 441.8,297.9 443.6,310.5 444.7,310.5 446.2,298.3 446.4,310.5 446.4,337.1 445.3,347.8 444.3,337.1 443.4,337.1 442.1,351.5 441.0,351.5 439.9,337.1 439.0,337.1 437.7,352.3 436.6,352.3 435.5,337.1 434.6,337.1 433.3,348.0 432.2,348.0 431.1,337.1 430.2,337.1 428.9,348.1 427.8,348.1 426.7,337.2 425.8,337.2 424.5,352.5 423.4,352.5 422.3,337.2 421.5,337.2 420.1,348.0 419.0,348.0 418.0,337.2 417.1,337.2 415.8,348.4 414.7,348.4 413.6,337.3 412.7,337.3 411.4,348.6 410.3,348.6 409.2,337.3 408.3,337.4 407.0,350.4 405.9,350.4 404.8,337.4 403.9,337.4 402.6,350.2 401.5,350.2 400.4,337.5 399.5,337.5 398.2,351.7 397.1,351.7 396.0,337.5 395.2,337.6 393.8,349.4 392.8,349.4 391.7,337.6 390.8,337.6 389.5,348.1 388.4,348.1 387.3,337.7 386.4,337.7 385.1,352.0 384.0,352.0 382.9,337.8 382.0,337.8 380.7,352.2 379.6,352.2 378.5,337.9 377.6,338.0 376.3,353.2 375.2,353.3 374.1,338.1 373.2,338.1 371.9,350.6 370.8,350.6 369.7,338.2 368.9,338.2 367.5,349.0 366.5,349.0 365.4,338.5 364.5,338.6 363.2,351.3 362.1,351.5 361.0,339.1 360.1,339.3 358.8,352.0 357.7,352.2 356.6,340.0 355.7,340.2 354.4,355.1 353.3,355.3 352.2,341.1 351.3,341.4 350.0,352.6 348.9,352.9 347.8,342.4 346.9,342.7 345.6,355.7 344.5,356.0 343.4,344.0 342.6,344.3 341.3,358.1 340.2,358.5 339.1,345.8 338.2,346.5 336.9,361.4 335.8,362.1 334.7,349.1 333.8,349.6 332.5,360.7 331.4,361.2 330.3,351.6 329.4,352.0 328.1,361.7 327.0,362.2 325.9,353.8 325.0,354.3 323.7,366.7 322.6,367.2 321.5,356.1 320.7,356.6 319.3,369.0 318.2,369.5 317.1,358.8 316.3,359.4 315.0,371.8 313.9,372.3 312.8,361.6 311.9,362.2 310.6,373.1 309.5,373.9 308.4,364.7 307.5,365.4 306.2,377.0 305.1,378.1 304.0,369.3 303.1,370.6 301.8,381.0 300.7,383.2 299.6,377.7 298.7,379.9 297.4,392.6 296.3,395.7 295.2,389.6 294.4,392.3 293.0,406.3 291.9,410.0 290.8,404.4 290.0,408.1 288.7,424.8 287.6,429.7 286.5,428.3 285.6,430.2 284.3,441.2 283.2,441.2 282.1,436.5 281.8,441.2 267.5,441.2" fill="#1EA0F0"/>
<path d="M313.2 347.6L314.6 357.7M317.6 342.0L318.9 351.3M322.0 337.2L323.3 347.4M326.4 332.5L327.7 341.3M330.8 328.5L332.1 338.4M335.2 325.2L336.5 335.7M339.5 324.3L340.9 332.2M343.9 321.3L345.2 331.3M348.3 320.0L349.6 328.4M352.7 318.3L354.0 328.5M357.1 318.0L358.4 326.6M361.5 317.0L362.8 325.8M365.8 315.6L367.2 323.8M370.2 314.8L371.5 324.4M374.6 315.4L375.9 323.5M379.0 314.6L380.3 324.0M383.4 314.4L384.7 322.3M387.8 313.9L389.1 322.3M392.1 314.0L393.5 322.0M396.5 313.2L397.8 322.7M400.9 313.5L402.2 321.5M405.3 312.9L406.6 321.9M409.7 312.9L411.0 321.0M414.1 312.4L415.4 321.1M418.4 312.7L419.8 321.4M422.8 311.5L424.1 321.1M427.2 311.9L428.5 321.6M431.6 311.2L432.9 320.9M436.0 311.6L437.3 320.1M440.4 310.5L441.7 320.1M444.7 311.8L446.0 321.6" stroke="#fff" stroke-width="0.8" fill="none"/>
<path d="M317.4 352.7L318.7 362.7M321.8 348.4L323.1 360.0M326.1 343.9L327.5 355.5M330.5 341.5L331.8 353.7M334.9 337.8L336.2 350.4M339.3 334.7L340.6 347.4M343.7 334.2L345.0 345.2M348.1 332.2L349.4 343.3M352.4 329.6L353.8 342.1M356.8 329.2L358.1 340.4M361.2 327.5L362.5 340.1M365.6 328.2L366.9 339.1M370.0 327.3L371.3 337.5M374.4 327.5L375.7 338.1M378.7 326.3L380.1 338.3M383.1 327.2L384.4 336.8M387.5 325.0L388.8 336.4M391.9 325.2L393.2 337.6M396.3 326.3L397.6 336.9M400.7 325.8L402.0 336.4M405.0 324.9L406.4 336.9M409.4 324.3L410.7 337.5M413.8 324.6L415.1 337.7M418.2 325.0L419.5 337.6M422.6 324.7L423.9 336.7M427.0 324.8L428.3 335.9M431.3 325.6L432.7 335.7M435.7 323.6L437.0 336.7M440.1 324.0L441.4 336.2M444.5 324.7L445.8 336.0" stroke="#fff" stroke-width="0.8" fill="none"/>
<polygon points="267.5,435.2 268.1,435.1 268.7,434.7 269.3,434.9 269.9,434.8 270.5,434.7 271.1,434.2 271.7,435.7 272.3,434.4 272.9,434.3 273.5,434.5 274.1,435.0 274.7,434.0 275.3,435.8 275.9,434.3 276.5,434.7 277.1,435.7 277.7,435.2 278.3,435.1 278.9,435.5 279.5,434.6 280.1,435.0 280.7,434.5 281.3,435.1 281.9,435.7 282.5,434.5 283.1,434.4 283.7,435.7 284.3,434.9 284.9,435.0 285.5,434.1 286.1,434.7 286.7,435.2 287.3,434.2 287.9,435.2 288.5,434.5 289.1,435.5 289.7,435.4 290.3,435.5 290.9,434.3 291.5,435.5 292.1,435.3 292.7,435.4 293.3,434.3 295.0,430.2 296.1,423.4 297.6,406.9 299.3,408.8 300.4,404.7 302.0,392.2 303.7,394.8 304.8,392.5 306.4,383.4 308.1,387.5 309.2,386.2 310.7,375.4 312.5,382.8 313.6,381.8 315.1,373.3 316.9,379.2 318.0,378.4 319.5,369.7 321.3,376.1 322.4,375.3 323.9,364.7 325.6,373.1 326.7,372.4 328.3,361.0 330.0,370.5 331.1,369.9 332.7,358.0 334.4,368.2 335.5,367.7 337.0,356.7 338.8,366.3 339.9,365.8 341.4,354.5 343.2,364.7 344.3,364.3 345.8,354.3 347.6,363.1 348.7,362.8 350.2,353.3 351.9,361.7 353.0,361.4 354.6,349.9 356.3,360.4 357.4,360.1 359.0,350.2 360.7,359.4 361.8,359.1 363.3,349.1 365.1,358.6 366.2,358.4 367.7,346.0 369.5,358.1 370.6,358.0 372.1,344.9 373.9,357.8 375.0,357.8 376.5,345.8 378.2,357.6 379.3,357.6 380.9,348.1 382.6,357.4 383.7,357.4 385.3,344.2 387.0,357.2 388.1,357.2 389.6,346.1 391.4,357.1 392.5,357.0 394.0,347.6 395.8,356.9 396.9,356.9 398.4,346.4 400.2,356.8 401.3,356.7 402.8,345.8 404.5,356.6 405.6,356.6 407.2,345.6 408.9,356.5 410.0,356.5 411.6,344.6 413.3,356.4 414.4,356.4 415.9,346.7 417.7,356.3 418.8,356.3 420.3,343.4 422.1,356.2 423.2,356.2 424.7,343.8 426.5,356.2 427.6,356.2 429.1,344.3 430.8,356.1 431.9,356.1 433.5,345.2 435.2,356.1 436.3,356.1 437.9,345.3 439.6,356.1 440.7,356.1 442.2,345.5 444.0,356.1 445.1,356.1 446.4,356.1 446.4,359.5 445.7,373.7 444.6,359.5 443.8,359.5 442.5,370.4 441.4,370.4 440.3,359.5 439.4,359.5 438.1,372.4 437.0,372.5 435.9,359.6 435.0,359.6 433.7,372.0 432.6,372.1 431.5,359.6 430.6,359.6 429.3,371.7 428.2,371.8 427.1,359.7 426.2,359.7 424.9,374.1 423.8,374.1 422.7,359.8 421.9,359.8 420.5,373.3 419.4,373.4 418.3,360.0 417.5,360.0 416.2,374.7 415.1,374.7 414.0,360.1 413.1,360.1 411.8,373.6 410.7,373.6 409.6,360.3 408.7,360.3 407.4,372.5 406.3,372.5 405.2,360.5 404.3,360.5 403.0,373.4 401.9,373.5 400.8,360.7 399.9,360.7 398.6,374.6 397.5,374.7 396.4,360.9 395.6,361.0 394.2,375.7 393.1,375.7 392.1,361.2 391.2,361.2 389.9,372.9 388.8,373.0 387.7,361.4 386.8,361.5 385.5,376.5 384.4,376.6 383.3,361.7 382.4,361.8 381.1,372.6 380.0,372.7 378.9,362.0 378.0,362.1 376.7,376.4 375.6,376.4 374.5,362.3 373.6,362.4 372.3,376.2 371.2,376.2 370.1,362.7 369.3,362.7 367.9,378.4 366.8,378.5 365.8,363.1 364.9,363.2 363.6,377.3 362.5,377.5 361.4,363.8 360.5,364.0 359.2,376.9 358.1,377.1 357.0,364.7 356.1,364.9 354.8,375.3 353.7,375.6 352.6,365.8 351.7,366.0 350.4,380.0 349.3,380.2 348.2,367.1 347.3,367.4 346.0,381.3 344.9,381.7 343.8,368.6 343.0,368.9 341.6,380.4 340.5,380.8 339.5,370.2 338.6,370.5 337.3,384.5 336.2,384.9 335.1,372.0 334.2,372.4 332.9,386.0 331.8,386.4 330.7,374.0 329.8,374.4 328.5,385.2 327.4,385.6 326.3,376.2 325.4,376.6 324.1,386.7 323.0,387.2 321.9,378.5 321.0,379.0 319.7,388.8 318.6,389.3 317.5,381.1 316.7,381.6 315.3,393.4 314.3,394.1 313.2,385.8 312.3,386.8 311.0,396.1 309.9,397.2 308.8,389.6 307.9,390.5 306.6,401.3 305.5,402.9 304.4,394.6 303.5,396.4 302.2,407.4 301.1,410.6 300.0,406.4 299.1,409.6 297.8,423.5 296.7,428.4 295.6,426.7 294.7,433.2 293.4,441.2 267.5,441.2" fill="#9B1CD6"/>
<polygon points="267.5,435.5 268.1,435.8 268.7,435.4 269.3,435.1 269.9,435.8 270.5,435.5 271.1,434.0 271.7,434.3 272.3,435.6 272.9,435.4 273.5,434.4 274.1,434.1 274.7,435.2 275.3,434.3 275.9,435.5 276.5,434.8 277.1,434.7 277.7,434.3 278.3,435.3 278.9,435.0 279.5,435.1 280.1,435.6 280.7,434.5 281.3,434.8 281.9,434.9 282.5,434.6 283.1,434.7 283.7,437.0 285.3,422.8 287.0,427.6 288.1,425.9 289.6,415.2 291.4,417.3 292.5,414.5 294.0,402.8 295.8,407.9 296.9,405.8 298.4,396.7 300.2,400.2 301.3,398.5 302.8,389.1 304.5,394.0 305.6,392.8 307.2,384.6 308.9,389.5 310.0,388.6 311.6,380.8 313.3,386.1 314.4,385.4 315.9,374.8 317.7,383.3 318.8,382.7 320.3,373.2 322.1,381.0 323.2,380.5 324.7,371.2 326.5,379.0 327.5,378.5 329.1,368.0 330.8,377.1 331.9,376.6 333.5,367.6 335.2,375.0 336.3,374.3 337.8,362.9 339.6,372.2 340.7,371.9 342.2,359.9 344.0,371.1 345.1,370.8 346.6,361.6 348.4,370.2 349.5,370.0 351.0,359.6 352.8,369.4 353.8,369.3 355.4,359.5 357.1,368.9 358.2,368.7 359.8,359.4 361.5,368.4 362.6,368.3 364.1,358.5 365.9,368.1 367.0,368.0 368.5,358.0 370.3,367.9 371.4,367.9 372.9,355.6 374.7,367.7 375.8,367.7 377.3,356.8 379.0,367.6 380.1,367.6 381.7,354.2 383.4,367.5 384.5,367.4 386.1,354.2 387.8,367.3 388.9,367.3 390.4,354.7 392.2,367.2 393.3,367.2 394.8,356.6 396.6,367.1 397.7,367.1 399.2,357.0 401.0,367.0 402.1,367.0 403.6,355.8 405.3,366.9 406.4,366.9 408.0,357.8 409.7,366.8 410.8,366.8 412.4,355.5 414.1,366.8 415.2,366.8 416.7,354.8 418.5,366.7 419.6,366.7 421.1,356.4 422.9,366.6 424.0,366.6 425.5,353.9 427.3,366.6 428.4,366.6 429.9,357.2 431.6,366.6 432.7,366.6 434.3,356.2 436.0,366.5 437.1,366.5 438.7,355.4 440.4,366.5 441.5,366.5 443.0,356.9 444.8,366.5 445.9,366.5 446.4,366.5 446.4,373.7 445.5,373.7 444.6,373.7 443.3,385.4 442.2,385.4 441.1,373.7 440.2,373.7 438.9,389.3 437.8,389.3 436.7,373.7 435.8,373.7 434.5,387.3 433.4,387.3 432.3,373.7 431.4,373.8 430.1,389.5 429.0,389.5 427.9,373.8 427.0,373.8 425.7,385.9 424.6,385.9 423.5,373.8 422.7,373.8 421.3,386.0 420.3,386.0 419.2,373.9 418.3,373.9 417.0,386.9 415.9,386.9 414.8,374.0 413.9,374.0 412.6,385.3 411.5,385.3 410.4,374.1 409.5,374.1 408.2,388.6 407.1,388.6 406.0,374.1 405.1,374.2 403.8,384.7 402.7,384.7 401.6,374.3 400.7,374.3 399.4,385.2 398.3,385.2 397.2,374.4 396.4,374.4 395.0,389.0 394.0,389.0 392.9,374.5 392.0,374.5 390.7,387.7 389.6,387.7 388.5,374.6 387.6,374.7 386.3,387.8 385.2,387.9 384.1,374.8 383.2,374.8 381.9,388.8 380.8,388.8 379.7,374.9 378.8,375.0 377.5,386.3 376.4,386.3 375.3,375.1 374.4,375.1 373.1,390.6 372.0,390.7 370.9,375.3 370.1,375.3 368.7,390.3 367.7,390.3 366.6,375.5 365.7,375.6 364.4,389.6 363.3,389.7 362.2,375.9 361.3,376.0 360.0,389.7 358.9,389.8 357.8,376.4 356.9,376.5 355.6,388.4 354.5,388.5 353.4,377.1 352.5,377.3 351.2,392.4 350.1,392.5 349.0,377.9 348.1,378.1 346.8,390.5 345.7,390.8 344.6,378.9 343.8,379.1 342.5,394.0 341.4,394.2 340.3,380.1 339.4,380.4 338.1,391.8 337.0,392.4 335.9,382.5 335.0,382.9 333.7,397.5 332.6,397.9 331.5,384.8 330.6,385.3 329.3,395.5 328.2,396.0 327.1,387.2 326.2,387.6 324.9,397.8 323.8,398.4 322.7,389.6 321.9,390.1 320.5,403.0 319.4,403.6 318.3,392.2 317.5,392.8 316.2,404.2 315.1,404.7 314.0,395.1 313.1,395.7 311.8,406.8 310.7,407.4 309.6,398.3 308.7,399.0 307.4,411.0 306.3,412.0 305.2,402.1 304.3,403.0 303.0,414.2 301.9,415.7 300.8,408.0 299.9,409.4 298.6,419.5 297.5,421.5 296.4,415.8 295.6,417.5 294.2,430.3 293.1,432.4 292.0,424.1 291.2,425.9 289.9,438.7 288.8,441.0 287.7,433.2 286.8,435.2 285.5,440.8 284.4,440.8 283.6,441.2 267.5,441.2" fill="#FF0A0A"/>
<polygon points="492.5,431.4 493.1,430.7 493.7,431.8 494.3,430.2 494.9,429.6 495.5,429.3 496.1,431.1 496.7,431.8 497.3,430.8 497.9,430.2 498.5,431.3 499.1,430.0 499.7,429.2 500.3,430.9 500.9,430.6 501.5,429.6 502.1,430.2 502.7,429.7 503.3,430.5 503.9,429.3 504.5,431.6 505.1,430.2 505.7,431.8 506.3,429.0 506.9,430.7 507.5,431.7 508.1,429.2 508.7,429.1 509.3,431.4 509.9,431.1 510.5,431.5 511.1,430.9 511.7,430.6 512.3,431.2 512.9,431.1 513.5,431.3 514.1,431.8 514.7,431.6 515.3,428.9 515.9,431.6 516.5,429.5 517.1,429.2 517.7,430.1 518.3,429.9 518.9,431.2 520.6,422.1 522.4,423.1 523.5,418.5 525.0,403.9 526.7,406.0 527.8,402.5 529.4,389.7 531.1,394.2 532.2,392.0 533.8,381.5 535.5,385.8 536.6,383.9 538.1,374.4 539.9,378.5 541.0,376.9 542.5,368.0 544.3,372.3 545.4,370.9 546.9,361.9 548.7,367.0 549.8,365.7 551.3,355.2 553.0,361.9 554.1,360.7 555.7,348.8 557.4,355.8 558.5,354.3 560.1,343.1 561.8,349.9 562.9,348.6 564.4,340.0 566.2,344.9 567.3,343.8 568.8,336.0 570.6,341.5 571.7,340.9 573.2,333.2 575.0,339.6 576.1,339.4 577.6,330.9 579.4,338.6 580.4,338.3 582.0,330.1 583.7,337.7 584.8,337.5 586.4,330.0 588.1,337.0 589.2,336.8 590.8,328.0 592.5,336.4 593.6,336.2 595.1,328.5 596.9,335.9 598.0,335.8 599.5,329.4 601.3,335.6 602.4,335.5 603.9,329.3 605.7,335.2 606.8,335.2 608.3,328.0 610.0,334.9 611.1,334.9 612.7,327.6 614.4,334.7 615.5,334.6 617.1,328.6 618.8,334.4 619.9,334.3 621.4,328.2 623.2,334.1 624.3,334.1 625.8,327.9 627.6,333.9 628.7,333.8 630.2,325.9 632.0,333.7 633.1,333.6 634.6,325.6 636.3,333.5 637.4,333.4 639.0,325.8 640.7,333.3 641.8,333.2 643.4,325.8 645.1,333.1 646.2,333.1 647.7,326.2 649.5,333.0 650.6,332.9 652.1,326.9 653.9,332.8 655.0,332.8 656.5,325.1 658.3,332.8 659.4,332.7 660.9,325.1 662.7,332.7 663.8,332.7 665.3,326.7 667.0,332.6 668.1,332.6 669.7,325.1 671.4,332.6 671.5,332.6 671.5,349.5 671.2,349.5 669.9,351.1 668.8,351.1 667.7,349.5 666.8,349.5 665.5,351.3 664.4,351.3 663.3,349.5 662.4,349.5 661.1,351.1 660.0,351.1 658.9,349.5 658.1,349.5 656.7,351.6 655.6,351.6 654.5,349.5 653.7,349.5 652.4,351.7 651.3,351.8 650.2,349.6 649.3,349.6 648.0,351.8 646.9,351.8 645.8,349.6 644.9,349.6 643.6,352.1 642.5,352.2 641.4,349.7 640.5,349.7 639.2,352.2 638.1,352.3 637.0,349.7 636.1,349.7 634.8,351.9 633.7,351.9 632.6,349.8 631.7,349.8 630.4,352.1 629.3,352.1 628.2,349.9 627.4,349.9 626.0,352.3 624.9,352.3 623.9,349.9 623.0,350.0 621.7,352.5 620.6,352.5 619.5,350.0 618.6,350.0 617.3,352.6 616.2,352.6 615.1,350.1 614.2,350.1 612.9,352.7 611.8,352.7 610.7,350.2 609.8,350.2 608.5,353.4 607.4,353.4 606.3,350.3 605.4,350.3 604.1,353.3 603.0,353.3 601.9,350.4 601.1,350.4 599.7,353.2 598.6,353.3 597.5,350.6 596.7,350.6 595.4,353.4 594.3,353.5 593.2,350.8 592.3,350.8 591.0,353.5 589.9,353.6 588.8,351.0 587.9,351.1 586.6,354.3 585.5,354.3 584.4,351.4 583.5,351.5 582.2,354.3 581.1,354.4 580.0,351.8 579.1,351.9 577.8,354.7 576.7,354.9 575.6,352.4 574.7,352.5 573.4,355.5 572.3,355.9 571.2,353.4 570.4,353.7 569.0,357.7 568.0,358.6 566.9,355.0 566.0,355.4 564.7,361.5 563.6,362.6 562.5,356.8 561.6,357.2 560.3,366.7 559.2,368.0 558.1,359.0 557.2,359.9 555.9,374.7 554.8,376.2 553.7,365.1 552.8,366.4 551.5,377.6 550.4,379.0 549.3,371.4 548.4,372.6 547.1,383.5 546.0,384.8 544.9,377.0 544.1,378.0 542.7,389.4 541.6,390.7 540.6,382.1 539.7,383.2 538.4,394.0 537.3,395.5 536.2,388.0 535.3,389.3 534.0,400.4 532.9,402.3 531.8,395.2 530.9,396.9 529.6,408.5 528.5,411.3 527.4,405.5 526.5,408.2 525.2,423.2 524.1,427.3 523.0,421.1 522.1,424.8 520.8,438.6 519.7,440.5 519.3,441.4 492.5,441.4" fill="#E8127F"/>
<polygon points="492.5,429.2 493.1,431.9 493.7,430.0 494.3,430.6 494.9,429.9 495.5,432.0 496.1,432.0 496.7,431.6 497.3,429.0 497.9,431.2 498.5,430.2 499.1,428.9 499.7,429.8 500.3,431.5 500.9,430.8 501.5,431.8 502.1,431.2 502.7,431.2 503.3,432.1 503.9,429.4 504.5,429.2 505.1,430.5 505.7,430.1 506.3,430.2 506.9,430.0 507.5,428.9 508.1,430.3 508.7,431.7 509.3,429.9 509.9,429.9 510.5,429.4 511.1,429.9 511.7,431.1 512.3,432.0 512.9,430.7 513.5,430.1 514.1,429.8 514.7,430.0 515.3,430.2 515.9,430.2 516.5,431.4 517.1,430.9 517.7,430.8 518.3,432.0 518.9,429.0 519.4,434.1 520.9,420.0 522.7,417.9 523.8,414.6 525.3,400.6 527.1,400.5 528.2,396.6 529.7,384.7 531.5,387.4 532.6,384.8 534.1,375.0 535.9,367.7 537.0,366.2 538.5,364.2 540.2,362.1 541.3,360.8 542.9,357.6 544.6,357.2 545.7,356.0 547.3,351.7 549.0,352.0 550.1,350.7 551.6,345.9 553.4,346.7 554.5,345.3 556.0,340.1 557.8,341.5 558.9,340.2 560.4,335.5 562.2,336.5 563.3,335.2 564.8,330.7 566.5,331.4 567.6,329.9 569.2,327.2 570.9,325.2 572.0,323.9 573.6,322.4 575.3,321.6 576.4,321.3 577.9,321.0 579.7,320.7 580.8,320.6 582.3,320.4 584.1,320.2 585.2,320.0 586.7,319.9 588.5,319.7 589.6,319.7 591.1,319.5 592.9,319.4 593.9,319.3 595.5,319.2 597.2,319.0 598.3,318.9 599.9,318.8 601.6,318.6 602.7,318.4 604.2,318.2 606.0,318.0 607.1,317.8 608.6,317.6 610.4,317.3 611.5,317.2 613.0,316.9 614.8,316.6 615.9,316.5 617.4,316.2 619.2,315.9 620.3,315.8 621.8,315.5 623.5,315.3 624.6,315.1 626.2,314.9 627.9,314.7 629.0,314.5 630.6,314.3 632.3,314.1 633.4,314.0 634.9,313.8 636.7,313.7 637.8,313.6 639.3,313.5 641.1,313.4 642.2,313.4 643.7,313.3 645.5,313.3 646.6,313.3 648.1,313.3 649.8,313.3 650.9,313.3 652.5,313.3 654.2,313.3 655.3,313.3 656.9,313.3 658.6,313.3 659.7,313.3 661.2,313.3 663.0,313.3 664.1,313.3 665.6,313.3 667.4,313.3 668.5,313.3 670.0,313.3 671.5,313.3 671.5,332.6 670.2,343.9 669.1,344.0 668.0,332.6 667.2,332.6 665.8,343.9 664.8,344.0 663.7,332.7 662.8,332.7 661.5,341.6 660.4,341.6 659.3,332.7 658.4,332.8 657.1,343.5 656.0,343.5 654.9,332.8 654.0,332.8 652.7,342.3 651.6,342.3 650.5,332.9 649.6,333.0 648.3,345.6 647.2,345.7 646.1,333.1 645.2,333.1 643.9,342.2 642.8,342.3 641.7,333.2 640.9,333.3 639.5,342.1 638.4,342.2 637.4,333.4 636.5,333.5 635.2,346.3 634.1,346.3 633.0,333.6 632.1,333.7 630.8,346.6 629.7,346.6 628.6,333.8 627.7,333.9 626.4,346.1 625.3,346.2 624.2,334.1 623.3,334.1 622.0,345.1 620.9,345.2 619.8,334.3 618.9,334.4 617.6,344.7 616.5,344.8 615.4,334.6 614.6,334.7 613.2,347.5 612.1,347.6 611.0,334.9 610.2,334.9 608.9,345.6 607.8,345.6 606.7,335.2 605.8,335.2 604.5,346.8 603.4,346.9 602.3,335.5 601.4,335.6 600.1,347.3 599.0,347.3 597.9,335.8 597.0,335.9 595.7,346.9 594.6,346.9 593.5,336.3 592.6,336.4 591.3,346.2 590.2,346.3 589.1,336.8 588.2,336.9 586.9,348.3 585.8,348.3 584.7,337.5 583.9,337.7 582.5,346.7 581.5,346.8 580.4,338.4 579.5,338.5 578.2,349.4 577.1,349.5 576.0,339.4 575.1,339.6 573.8,347.8 572.7,348.2 571.6,341.0 570.7,341.4 569.4,350.6 568.3,351.4 567.2,343.7 566.3,344.4 565.0,354.1 563.9,355.3 562.8,347.4 561.9,348.2 560.6,360.7 559.5,362.1 558.4,351.7 557.6,352.9 556.2,365.6 555.1,367.0 554.1,358.1 553.2,359.4 551.9,373.1 550.8,374.6 549.7,364.5 548.8,365.8 547.5,378.5 546.4,379.8 545.3,370.4 544.4,371.5 543.1,382.1 542.0,383.5 540.9,375.9 540.0,377.1 538.7,388.1 537.6,389.6 536.5,382.2 535.6,383.6 534.3,394.9 533.2,396.9 532.1,390.0 531.3,391.8 529.9,404.5 528.8,407.3 527.7,400.8 526.9,403.8 525.6,417.4 524.5,421.9 523.4,417.8 522.5,421.7 521.2,438.2 520.1,441.4 519.3,441.4 492.5,441.4" fill="#1010F0"/>
<polygon points="492.5,431.6 493.1,430.3 493.7,430.9 494.3,431.1 494.9,429.9 495.5,429.0 496.1,429.0 496.7,430.0 497.3,429.4 497.9,430.6 498.5,431.1 499.1,430.4 499.7,430.2 500.3,429.2 500.9,430.8 501.5,430.3 502.1,430.8 502.7,431.6 503.3,432.0 503.9,431.4 504.5,430.2 505.1,429.2 505.7,432.1 506.3,430.6 506.9,429.5 507.5,429.0 508.1,431.6 508.7,431.9 509.3,431.6 509.9,431.1 510.5,430.9 511.1,430.2 511.7,432.0 512.3,429.1 512.9,430.0 513.5,430.4 514.1,428.9 514.7,430.7 515.3,431.2 515.9,429.7 516.5,429.5 517.1,429.8 517.7,429.3 518.3,431.7 518.9,429.1 520.1,424.9 521.9,424.6 523.0,419.4 524.5,404.4 526.3,405.2 527.4,401.1 528.9,388.7 530.6,391.6 531.7,389.1 533.3,377.8 535.0,382.3 536.1,380.3 537.7,369.7 539.4,374.9 540.5,373.2 542.0,362.0 543.8,368.7 544.9,367.3 546.4,356.3 548.2,363.3 549.3,362.1 550.8,352.2 552.6,358.3 553.7,357.0 555.2,346.7 557.0,353.3 558.0,352.2 559.6,342.3 561.3,348.8 562.4,347.7 564.0,338.0 565.7,344.8 566.8,344.0 568.3,331.2 570.1,341.8 571.2,341.2 572.7,328.0 574.5,339.8 575.6,339.5 577.1,327.0 578.9,338.7 580.0,338.4 581.5,328.8 583.3,337.8 584.4,337.6 585.9,328.1 587.6,337.0 588.7,336.9 590.3,323.9 592.0,336.4 593.1,336.3 594.7,324.9 596.4,336.0 597.5,335.9 599.0,325.4 600.8,335.6 601.9,335.5 603.4,323.6 605.2,335.3 606.3,335.2 607.8,324.1 609.6,335.0 610.7,334.9 612.2,321.9 613.9,334.7 615.0,334.6 616.6,323.0 618.3,334.4 619.4,334.3 621.0,321.3 622.7,334.2 623.8,334.1 625.3,322.6 627.1,333.9 628.2,333.9 629.7,320.9 631.5,333.7 632.6,333.6 634.1,320.8 635.9,333.5 637.0,333.4 638.5,322.9 640.3,333.3 641.3,333.2 642.9,320.5 644.6,333.1 645.7,333.1 647.3,320.8 649.0,333.0 650.1,332.9 651.7,323.6 653.4,332.9 654.5,332.8 656.0,323.4 657.8,332.8 658.9,332.7 660.4,320.9 662.2,332.7 663.3,332.7 664.8,322.4 666.6,332.6 667.7,332.6 669.2,320.2 670.9,332.6 671.5,332.6 671.5,332.6 670.7,332.6 669.4,344.5 668.3,344.5 667.2,332.6 666.3,332.6 665.0,345.4 663.9,345.4 662.8,332.7 662.0,332.7 660.6,346.8 659.5,346.8 658.4,332.8 657.6,332.8 656.3,344.7 655.2,344.7 654.1,332.8 653.2,332.9 651.9,344.0 650.8,344.1 649.7,333.0 648.8,333.0 647.5,344.5 646.4,344.5 645.3,333.1 644.4,333.1 643.1,348.8 642.0,348.9 640.9,333.3 640.0,333.3 638.7,347.9 637.6,348.0 636.5,333.4 635.6,333.5 634.3,345.6 633.2,345.6 632.1,333.7 631.3,333.7 629.9,344.9 628.9,345.0 627.8,333.9 626.9,333.9 625.6,349.5 624.5,349.5 623.4,334.1 622.5,334.2 621.2,347.6 620.1,347.7 619.0,334.4 618.1,334.4 616.8,349.5 615.7,349.5 614.6,334.6 613.7,334.7 612.4,348.1 611.3,348.2 610.2,334.9 609.3,335.0 608.0,347.0 606.9,347.1 605.8,335.2 605.0,335.3 603.6,350.7 602.5,350.7 601.5,335.5 600.6,335.6 599.3,348.6 598.2,348.7 597.1,335.9 596.2,336.0 594.9,349.7 593.8,349.8 592.7,336.3 591.8,336.5 590.5,347.9 589.4,348.0 588.3,336.9 587.4,337.1 586.1,347.3 585.0,347.4 583.9,337.7 583.0,337.8 581.7,348.0 580.6,348.1 579.5,338.5 578.7,338.7 577.3,348.7 576.2,348.9 575.1,339.6 574.3,339.9 573.0,349.7 571.9,350.2 570.8,341.4 569.9,341.9 568.6,356.3 567.5,357.1 566.4,344.7 565.5,345.7 564.2,360.5 563.1,361.6 562.0,349.7 561.1,350.8 559.8,362.2 558.7,363.6 557.6,355.5 556.7,356.7 555.4,370.3 554.3,371.6 553.2,361.8 552.3,363.0 551.0,375.8 549.9,377.2 548.8,367.8 548.0,369.0 546.6,379.2 545.6,380.6 544.5,373.5 543.6,374.6 542.3,384.7 541.2,386.1 540.1,379.1 539.2,380.4 537.9,391.1 536.8,392.8 535.7,385.7 534.8,387.2 533.5,400.5 532.4,402.6 531.3,393.8 530.4,395.7 529.1,410.1 528.0,413.2 526.9,405.4 526.0,408.4 524.7,424.4 523.6,428.8 522.5,422.3 521.7,426.1 520.3,440.0 519.3,441.4 492.5,441.4" fill="#F7901E"/>
<path d="M559.8 342.4L561.1 352.7M564.2 336.9L565.5 351.0M568.6 333.2L569.9 348.1M573.0 331.9L574.3 348.4M577.4 328.6L578.7 348.9M581.7 325.4L583.1 346.8M586.1 322.7L587.4 345.4M590.5 324.7L591.8 345.0M594.9 322.0L596.2 345.1M599.3 322.0L600.6 342.5M603.7 322.7L605.0 345.6M608.0 321.6L609.4 343.7M612.4 322.5L613.7 346.2M616.8 319.9L618.1 346.8M621.2 321.8L622.5 343.8M625.6 322.6L626.9 345.2M630.0 318.5L631.3 343.5M634.4 318.9L635.7 345.2M638.7 321.6L640.1 345.5M643.1 320.9L644.4 346.5M647.5 318.4L648.8 346.8M651.9 319.8L653.2 346.3M656.3 321.2L657.6 344.3M660.7 319.3L662.0 343.0M665.0 319.5L666.4 346.2M669.4 319.9L670.7 344.3" stroke="#fff" stroke-width="0.9" fill="none"/>
<polygon points="492.5,430.7 493.1,430.3 493.7,429.2 494.3,431.3 494.9,430.2 495.5,431.0 496.1,429.7 496.7,430.4 497.3,431.5 497.9,430.5 498.5,431.3 499.1,432.0 499.7,431.8 500.3,431.0 500.9,432.1 501.5,429.6 502.1,429.5 502.7,432.1 503.3,430.4 503.9,430.7 504.5,430.8 505.1,431.9 505.7,429.1 506.3,431.2 506.9,429.1 507.5,430.8 508.1,431.5 508.7,431.3 509.3,431.3 509.9,429.5 510.5,429.4 511.1,429.5 511.7,431.3 512.3,431.2 512.9,430.4 513.5,429.8 514.1,429.8 514.7,429.4 515.3,429.7 515.9,430.5 516.5,429.9 517.1,429.7 517.7,431.5 518.3,429.0 518.9,430.4 519.8,416.7 520.9,407.4 522.5,388.1 524.2,389.9 525.3,386.0 526.9,370.6 528.6,377.4 529.7,374.9 531.2,358.1 533.0,367.7 534.1,365.6 535.6,352.5 537.4,360.1 538.5,358.4 540.0,345.8 541.8,353.8 542.9,352.4 544.4,338.9 546.1,348.1 547.2,346.6 548.8,331.4 550.5,342.1 551.6,340.8 553.2,326.0 554.9,336.8 556.0,335.5 557.5,319.4 559.3,331.7 560.4,330.5 561.9,315.7 563.7,326.9 564.8,325.8 566.3,309.1 568.1,322.2 569.2,321.0 570.7,306.7 572.4,317.7 573.5,316.8 575.1,303.5 576.8,314.8 577.9,314.2 579.5,301.1 581.2,312.7 582.3,312.2 583.8,298.2 585.6,310.9 586.7,310.6 588.2,296.3 590.0,309.5 591.1,309.2 592.6,292.6 594.4,308.2 595.5,308.0 597.0,290.5 598.8,307.2 599.8,306.9 601.4,292.2 603.1,306.3 604.2,306.0 605.8,286.2 607.5,305.4 608.6,305.3 610.2,286.2 611.9,304.7 613.0,304.6 614.5,286.6 616.3,304.1 617.4,303.9 618.9,290.2 620.7,303.5 621.8,303.4 623.3,283.5 625.1,303.0 626.2,302.8 627.7,289.2 629.4,302.4 630.5,302.2 632.1,283.4 633.8,301.8 634.9,301.7 636.5,286.7 638.2,301.3 639.3,301.2 640.8,280.9 642.6,301.0 643.7,300.9 645.2,286.5 647.0,300.9 648.1,300.9 649.6,282.3 651.4,300.9 652.5,300.9 654.0,283.3 655.7,300.9 656.8,300.9 658.4,283.2 660.1,300.9 661.2,300.9 662.8,285.2 664.5,300.9 665.6,300.9 667.1,286.0 668.9,300.9 670.0,300.9 671.5,300.9 671.5,301.7 670.7,312.6 669.6,301.7 668.7,301.7 667.4,317.6 666.3,317.6 665.2,301.7 664.3,301.7 663.0,313.9 661.9,313.9 660.8,301.7 659.9,301.7 658.6,315.8 657.5,315.8 656.4,301.7 655.5,301.7 654.2,314.3 653.1,314.3 652.0,301.7 651.1,301.7 649.8,313.0 648.7,313.0 647.6,301.7 646.8,301.7 645.4,313.1 644.3,313.1 643.3,301.8 642.4,301.8 641.1,317.0 640.0,317.0 638.9,301.9 638.0,302.0 636.7,312.7 635.6,312.8 634.5,302.3 633.6,302.4 632.3,315.1 631.2,315.2 630.1,302.8 629.2,302.9 627.9,318.7 626.8,318.8 625.7,303.4 624.8,303.5 623.5,317.1 622.4,317.3 621.3,304.1 620.5,304.3 619.1,317.8 618.0,318.0 616.9,304.9 616.1,305.1 614.8,320.4 613.7,320.6 612.6,305.8 611.7,306.0 610.4,320.1 609.3,320.3 608.2,306.7 607.3,306.9 606.0,320.0 604.9,320.2 603.8,307.6 602.9,307.8 601.6,320.2 600.5,320.4 599.4,308.6 598.5,308.8 597.2,322.3 596.1,322.5 595.0,309.6 594.1,309.8 592.8,321.4 591.7,321.7 590.6,310.8 589.8,311.1 588.4,323.5 587.4,323.8 586.3,312.2 585.4,312.5 584.1,323.1 583.0,323.5 581.9,313.9 581.0,314.3 579.7,327.8 578.6,328.2 577.5,315.9 576.6,316.4 575.3,329.2 574.2,329.8 573.1,318.6 572.2,319.3 570.9,331.8 569.8,332.8 568.7,322.8 567.8,323.8 566.5,337.4 565.4,338.5 564.3,327.9 563.5,329.0 562.1,343.0 561.0,344.4 560.0,333.8 559.1,335.1 557.8,347.0 556.7,348.5 555.6,340.4 554.7,341.8 553.4,355.7 552.3,357.3 551.2,347.4 550.3,348.8 549.0,359.9 547.9,361.6 546.8,353.9 545.9,355.1 544.6,367.5 543.5,368.8 542.4,359.5 541.5,360.5 540.2,372.4 539.1,373.8 538.0,365.0 537.2,366.2 535.8,377.1 534.7,378.9 533.6,372.0 532.8,373.6 531.5,385.6 530.4,388.2 529.3,381.9 528.4,384.9 527.1,398.2 526.0,403.5 524.9,401.5 524.0,406.5 522.7,422.2 521.6,429.2 520.5,428.8 519.6,434.7 518.9,441.4 492.5,441.4" fill="#1EA0F0"/>
<polygon points="492.5,432.1 493.1,429.3 493.7,431.3 494.3,430.0 494.9,430.6 495.5,429.6 496.1,429.3 496.7,429.2 497.3,430.4 497.9,429.0 498.5,429.2 499.1,429.9 499.7,429.7 500.3,431.6 500.9,429.3 501.5,428.9 502.1,429.2 502.7,431.8 503.3,430.9 503.9,429.1 504.5,431.8 505.1,431.1 505.7,430.0 506.3,430.1 506.9,431.2 507.5,429.8 508.1,432.1 508.7,429.4 509.3,430.2 509.9,432.1 510.5,430.0 511.1,430.8 511.7,430.2 512.3,430.6 512.9,431.2 513.5,430.9 514.1,430.4 514.7,431.6 515.3,430.5 515.9,429.1 516.5,432.1 517.1,430.2 517.7,429.1 518.3,430.9 518.9,431.1 520.2,404.2 521.3,397.1 522.8,386.4 524.6,383.2 525.7,380.2 527.2,373.8 528.9,373.6 530.0,371.3 531.6,365.1 533.3,364.5 534.4,362.5 536.0,357.2 537.7,357.1 538.8,355.4 540.3,350.7 542.1,350.7 543.2,349.2 544.7,344.7 546.5,344.8 547.6,343.3 549.1,338.6 550.9,338.8 552.0,337.4 553.5,332.5 555.3,333.2 556.4,331.9 557.9,327.1 559.6,328.0 560.7,326.7 562.3,322.4 564.0,323.0 565.1,321.7 566.7,316.8 568.4,318.0 569.5,316.7 571.0,311.1 572.8,313.2 573.9,312.3 575.4,308.4 577.2,310.5 578.3,310.0 579.8,305.7 581.6,308.6 582.7,308.1 584.2,304.6 585.9,307.0 587.0,306.6 588.6,303.0 590.3,305.7 591.4,305.4 593.0,301.9 594.7,304.6 595.8,304.3 597.3,300.5 599.1,303.6 600.2,303.3 601.7,299.6 603.5,302.6 604.6,302.3 606.1,297.7 607.9,301.6 609.0,301.3 610.5,296.9 612.3,300.6 613.3,300.3 614.9,296.8 616.6,299.6 617.7,299.4 619.3,294.6 621.0,298.7 622.1,298.5 623.6,294.8 625.4,297.9 626.5,297.7 628.0,293.8 629.8,297.2 630.9,297.1 632.4,293.0 634.2,296.7 635.3,296.5 636.8,293.2 638.6,296.3 639.7,296.2 641.2,291.7 642.9,296.0 644.0,296.0 645.6,292.5 647.3,296.0 648.4,296.0 650.0,292.5 651.7,296.0 652.8,296.0 654.3,291.9 656.1,296.0 657.2,296.0 658.7,292.1 660.5,296.0 661.6,296.0 663.1,291.4 664.9,296.0 666.0,296.0 667.5,292.0 669.2,296.0 670.3,296.0 671.5,296.0 671.5,313.3 671.0,329.0 669.9,313.3 669.0,313.3 667.7,324.0 666.6,324.0 665.5,313.3 664.6,313.3 663.3,329.0 662.2,329.0 661.1,313.3 660.3,313.3 658.9,329.2 657.8,329.2 656.8,313.3 655.9,313.3 654.6,326.8 653.5,326.8 652.4,313.3 651.5,313.3 650.2,326.9 649.1,326.9 648.0,313.3 647.1,313.3 645.8,328.1 644.7,328.1 643.6,313.3 642.7,313.4 641.4,326.6 640.3,326.6 639.2,313.5 638.3,313.6 637.0,326.3 635.9,326.4 634.8,313.9 634.0,313.9 632.6,324.6 631.5,324.7 630.4,314.3 629.6,314.4 628.3,328.9 627.2,329.0 626.1,314.9 625.2,315.0 623.9,329.4 622.8,329.5 621.7,315.6 620.8,315.7 619.5,327.2 618.4,327.3 617.3,316.2 616.4,316.4 615.1,329.7 614.0,329.9 612.9,316.9 612.0,317.1 610.7,331.1 609.6,331.3 608.5,317.6 607.6,317.8 606.3,332.7 605.2,332.9 604.1,318.2 603.3,318.4 601.9,331.4 600.9,331.5 599.8,318.8 598.9,318.9 597.6,331.4 596.5,331.5 595.4,319.2 594.5,319.3 593.2,331.1 592.1,331.2 591.0,319.5 590.1,319.6 588.8,334.5 587.7,334.6 586.6,319.9 585.7,320.0 584.4,332.0 583.3,332.1 582.2,320.4 581.3,320.5 580.0,333.5 578.9,333.6 577.8,321.1 577.0,321.2 575.6,335.8 574.5,336.1 573.4,322.5 572.6,323.3 571.3,338.1 570.2,339.4 569.1,327.9 568.2,329.1 566.9,344.1 565.8,345.4 564.7,333.6 563.8,334.6 562.5,345.5 561.4,346.7 560.3,338.6 559.4,339.6 558.1,350.3 557.0,351.5 555.9,343.7 555.0,344.7 553.7,355.2 552.6,356.4 551.5,348.9 550.7,350.0 549.3,359.1 548.2,360.4 547.1,354.3 546.3,355.4 545.0,368.1 543.9,369.3 542.8,359.3 541.9,360.2 540.6,370.5 539.5,371.7 538.4,364.3 537.5,365.4 536.2,375.4 535.1,379.1 534.0,380.8 533.1,382.2 531.8,384.6 530.7,386.9 529.6,388.6 528.7,390.0 527.4,396.8 526.3,401.5 525.2,398.6 524.3,403.6 523.0,421.1 521.9,428.3 520.8,426.2 520.0,432.2 518.9,441.4 492.5,441.4" fill="#9B1CD6"/>
<path d="M535.7 357.3L536.8 367.8M540.1 352.9L541.2 363.3M544.5 349.4L545.6 360.7M548.9 344.8L550.0 355.4M553.3 340.3L554.4 351.0M557.7 334.9L558.8 347.4M562.0 329.3L563.1 342.7M566.4 323.7L567.5 336.7M570.8 319.2L571.9 331.9M575.2 315.3L576.3 325.9M579.6 312.9L580.7 324.7M584.0 312.2L585.1 324.1M588.3 308.8L589.4 322.2M592.7 308.4L593.8 323.0M597.1 308.0L598.2 322.4M601.5 306.6L602.6 321.5M605.9 304.6L607.0 319.4M610.3 306.6L611.4 320.3M614.6 303.9L615.7 319.7M619.0 305.2L620.1 320.8M623.4 302.1L624.5 319.9M627.8 303.8L628.9 318.2M632.2 301.2L633.3 318.2M636.6 301.1L637.7 316.6M641.0 302.5L642.1 316.2M645.3 301.3L646.4 318.7M649.7 299.0L650.8 315.9M654.1 300.9L655.2 317.2M658.5 298.8L659.6 314.8M662.9 301.1L664.0 316.8M667.3 298.8L668.4 315.9M671.6 298.1L671.5 317.6" stroke="#1EA0F0" stroke-width="0.9" fill="none"/>
<polygon points="492.5,431.0 493.1,430.6 493.7,429.1 494.3,429.1 494.9,431.8 495.5,432.1 496.1,430.7 496.7,429.2 497.3,429.5 497.9,429.2 498.5,429.5 499.1,431.6 499.7,429.0 500.3,431.0 500.9,432.1 501.5,432.0 502.1,432.0 502.7,430.2 503.3,430.3 503.9,431.8 504.5,429.9 505.1,431.6 505.7,430.8 506.3,431.1 506.9,429.4 507.5,431.3 508.1,429.0 508.7,429.0 509.3,431.4 509.9,431.9 510.5,429.9 511.1,431.7 511.7,429.7 512.3,431.0 512.9,431.8 513.5,429.9 514.1,429.4 514.7,430.6 515.3,431.8 515.9,431.9 516.5,431.2 517.1,429.4 517.7,431.5 518.3,430.2 519.7,417.4 520.8,408.1 522.3,394.0 524.1,397.3 525.2,395.2 526.7,385.8 528.5,390.3 529.6,388.6 531.1,378.9 532.9,382.7 534.0,380.9 535.5,371.7 537.2,376.2 538.3,374.8 539.9,364.9 541.6,371.1 542.7,369.9 544.3,357.6 546.0,366.8 547.1,365.9 548.6,354.0 550.4,363.6 551.5,362.9 553.0,350.5 554.8,360.8 555.9,360.2 557.4,347.3 559.2,358.4 560.3,357.9 561.8,345.4 563.6,356.4 564.6,355.9 566.2,346.3 567.9,354.6 569.0,354.2 570.6,342.8 572.3,353.0 573.4,352.8 575.0,342.4 576.7,352.2 577.8,352.1 579.3,342.4 581.1,351.7 582.2,351.6 583.7,342.5 585.5,351.3 586.6,351.2 588.1,340.4 589.9,350.9 591.0,350.9 592.5,340.9 594.2,350.7 595.3,350.6 596.9,339.3 598.6,350.5 599.7,350.5 601.3,338.5 603.0,350.4 604.1,350.4 605.6,339.4 607.4,350.3 608.5,350.3 610.0,339.2 611.8,350.2 612.9,350.2 614.4,339.7 616.2,350.1 617.3,350.1 618.8,339.9 620.5,350.0 621.6,350.0 623.2,336.2 624.9,349.9 626.0,349.9 627.6,336.5 629.3,349.8 630.4,349.8 631.9,337.4 633.7,349.8 634.8,349.8 636.3,336.1 638.1,349.7 639.2,349.7 640.7,337.3 642.5,349.6 643.6,349.6 645.1,336.6 646.9,349.6 647.9,349.6 649.5,336.2 651.2,349.6 652.3,349.6 653.9,336.7 655.6,349.5 656.7,349.5 658.3,339.1 660.0,349.5 661.1,349.5 662.6,339.8 664.4,349.5 665.5,349.5 667.0,338.2 668.8,349.5 669.9,349.5 671.4,337.5 671.5,349.5 671.5,357.5 670.5,368.9 669.4,357.7 668.6,357.7 667.2,370.5 666.1,370.6 665.0,358.0 664.2,358.1 662.9,368.9 661.8,369.0 660.7,358.3 659.8,358.4 658.5,369.6 657.4,369.7 656.3,358.7 655.4,358.8 654.1,369.9 653.0,370.0 651.9,359.1 651.0,359.1 649.7,371.6 648.6,371.7 647.5,359.5 646.6,359.5 645.3,372.9 644.2,373.0 643.1,359.9 642.2,360.0 640.9,375.4 639.8,375.5 638.7,360.4 637.9,360.5 636.5,374.9 635.5,375.0 634.4,360.9 633.5,361.0 632.2,375.4 631.1,375.5 630.0,361.4 629.1,361.4 627.8,373.5 626.7,373.6 625.6,361.8 624.7,361.9 623.4,374.3 622.3,374.4 621.2,362.2 620.3,362.3 619.0,375.3 617.9,375.3 616.8,362.5 615.9,362.6 614.6,375.1 613.5,375.2 612.4,362.9 611.6,362.9 610.2,376.6 609.1,376.6 608.1,363.2 607.2,363.3 605.9,375.5 604.8,375.6 603.7,363.6 602.8,363.7 601.5,379.3 600.4,379.4 599.3,364.0 598.4,364.1 597.1,378.5 596.0,378.6 594.9,364.5 594.0,364.6 592.7,378.9 591.6,379.1 590.5,365.0 589.6,365.1 588.3,377.1 587.2,377.3 586.1,365.6 585.3,365.7 583.9,377.7 582.8,377.9 581.7,366.2 580.9,366.3 579.6,380.8 578.5,380.9 577.4,366.9 576.5,367.1 575.2,381.9 574.1,382.1 573.0,367.8 572.1,368.0 570.8,379.8 569.7,380.1 568.6,368.8 567.7,369.1 566.4,380.7 565.3,381.0 564.2,370.1 563.3,370.5 562.0,381.8 560.9,382.3 559.8,372.2 558.9,372.7 557.6,385.6 556.5,386.3 555.4,375.0 554.6,375.6 553.2,387.3 552.2,388.1 551.1,378.3 550.2,379.0 548.9,391.2 547.8,392.0 546.7,382.0 545.8,382.9 544.5,392.9 543.4,394.0 542.3,386.8 541.4,387.9 540.1,398.1 539.0,399.4 537.9,392.4 537.0,393.5 535.7,405.7 534.6,407.0 533.5,397.8 532.6,399.0 531.3,410.3 530.2,412.0 529.1,404.4 528.3,405.9 526.9,417.0 525.8,419.1 524.8,412.8 523.9,414.8 522.6,429.0 521.5,432.4 520.4,425.5 519.5,429.7 518.4,441.4 492.5,441.4" fill="#FF0A0A"/>
<polygon points="35.4,666.8 36.0,666.9 36.6,666.3 37.2,668.3 37.8,666.9 38.4,666.4 39.0,667.4 39.6,667.7 40.2,667.1 40.8,666.8 41.4,668.2 42.0,668.2 42.6,667.0 43.2,668.3 43.8,668.3 44.4,667.7 45.0,667.9 45.6,666.7 46.2,666.6 46.8,668.0 47.4,668.1 48.0,667.6 48.6,667.2 49.2,667.2 49.8,667.6 50.4,667.5 51.0,667.6 51.6,667.8 52.2,667.0 52.8,667.8 53.4,667.5 54.0,667.3 54.6,667.7 55.2,667.7 55.8,667.9 56.4,667.8 57.8,657.9 59.5,654.3 60.6,649.4 62.1,638.2 63.9,635.1 65.0,630.6 66.5,619.3 68.2,618.4 69.3,615.1 70.9,606.1 72.6,606.9 73.7,604.5 75.2,596.5 77.0,598.1 78.1,596.1 79.6,588.1 81.4,590.8 82.5,589.1 84.0,582.3 85.7,584.3 86.8,582.8 88.4,575.6 90.1,578.7 91.2,577.4 92.7,571.2 94.5,573.8 95.6,572.6 97.1,564.6 98.9,569.0 100.0,567.8 101.5,560.5 103.2,563.9 104.3,562.6 105.9,554.2 107.6,558.7 108.7,557.4 110.2,549.7 112.0,554.0 113.1,553.0 114.6,545.7 116.4,550.5 117.5,549.7 119.0,541.9 120.7,547.5 121.8,546.8 123.4,538.6 125.1,544.8 126.2,544.2 127.7,535.8 129.5,542.4 130.6,541.8 132.1,535.1 133.9,540.1 135.0,539.6 136.5,533.4 138.2,538.1 139.3,537.6 140.9,528.9 142.6,536.2 143.7,535.7 145.2,527.1 147.0,534.4 148.1,534.0 149.6,526.7 151.4,532.7 152.5,532.3 154.0,523.6 155.7,531.1 156.8,530.7 158.4,522.4 160.1,529.7 161.2,529.3 162.7,522.6 164.5,528.3 165.6,528.0 167.1,520.7 168.9,527.0 170.0,526.7 171.5,517.7 173.2,525.8 174.3,525.5 175.9,519.2 177.6,524.7 178.7,524.4 180.2,517.6 182.0,523.6 183.1,523.4 184.6,516.2 186.4,522.6 187.5,522.3 189.0,514.3 190.7,521.6 191.8,521.3 193.4,513.7 195.1,520.6 196.2,520.4 197.7,511.9 199.5,519.7 200.6,519.5 202.1,512.9 203.9,518.9 205.0,518.7 206.5,511.3 208.2,518.2 209.3,518.0 210.9,510.3 212.6,517.5 213.7,517.4 213.9,517.3 213.9,527.3 213.3,527.4 212.4,527.6 211.1,535.9 210.0,536.2 208.9,528.3 208.0,528.5 206.7,537.7 205.6,537.9 204.5,529.3 203.6,529.6 202.3,538.6 201.2,538.9 200.1,530.5 199.3,530.8 198.0,538.5 196.9,538.8 195.8,531.8 194.9,532.0 193.6,540.4 192.5,540.8 191.4,533.1 190.5,533.4 189.2,542.3 188.1,542.6 187.0,534.6 186.1,534.9 184.8,542.5 183.7,542.9 182.6,536.1 181.8,536.5 180.5,543.6 179.4,544.0 178.3,537.7 177.4,538.1 176.1,546.0 175.0,546.4 173.9,539.4 173.0,539.7 171.7,546.3 170.6,546.8 169.5,541.2 168.6,541.6 167.3,548.0 166.2,548.5 165.1,543.2 164.3,543.6 163.0,551.8 161.9,552.4 160.8,545.3 159.9,545.7 158.6,552.0 157.5,552.6 156.4,547.6 155.5,548.0 154.2,557.0 153.1,557.5 152.0,550.0 151.1,550.4 149.8,557.5 148.7,558.1 147.6,552.4 146.8,552.9 145.5,559.7 144.4,560.3 143.3,554.9 142.4,555.3 141.1,563.6 140.0,564.2 138.9,557.3 138.0,557.8 136.7,564.1 135.6,564.8 134.5,559.8 133.6,560.4 132.3,568.3 131.2,569.0 130.1,562.5 129.3,563.0 128.0,570.4 126.9,571.1 125.8,565.3 124.9,565.8 123.6,571.9 122.5,572.6 121.4,568.2 120.5,568.9 119.2,576.4 118.1,577.2 117.0,571.5 116.1,572.2 114.8,579.6 113.7,580.5 112.6,575.1 111.8,575.9 110.5,582.4 109.4,583.5 108.3,579.5 107.4,580.5 106.1,587.6 105.0,588.8 103.9,584.5 103.0,585.5 101.7,592.1 100.6,593.3 99.5,589.4 98.7,590.3 97.3,597.8 96.2,599.0 95.2,594.2 94.3,595.2 93.0,601.1 91.9,602.4 90.8,599.2 89.9,600.3 88.6,607.0 87.5,608.4 86.4,604.8 85.5,606.0 84.2,612.1 83.1,613.7 82.0,610.9 81.2,612.2 79.8,619.7 78.7,621.4 77.7,617.6 76.8,619.1 75.5,625.8 74.4,627.8 73.3,625.5 72.4,627.2 71.1,635.0 70.0,637.5 68.9,635.3 68.0,637.6 66.7,646.2 65.6,649.7 64.5,648.8 63.7,651.9 62.3,662.4 61.2,666.6 60.2,665.4 59.3,669.0 58.0,674.8 56.9,674.8 56.8,674.8 35.4,674.8" fill="#F0147F"/>
<polygon points="35.4,666.3 36.0,666.7 36.6,668.1 37.2,666.6 37.8,666.5 38.4,667.6 39.0,667.3 39.6,667.1 40.2,667.7 40.8,667.0 41.4,666.8 42.0,666.5 42.6,667.7 43.2,667.5 43.8,667.1 44.4,666.2 45.0,666.3 45.6,668.3 46.2,666.7 46.8,668.1 47.4,667.8 48.0,667.1 48.6,666.7 49.2,668.0 49.8,666.4 50.4,667.6 51.0,666.6 51.6,666.4 52.2,667.9 52.8,668.1 53.4,666.5 54.0,668.1 54.6,666.7 55.2,666.2 55.8,668.2 56.4,667.2 57.0,667.6 57.6,666.8 58.2,666.5 58.8,667.7 59.4,667.7 60.0,667.9 61.4,661.3 63.0,648.3 64.7,645.9 65.8,641.4 67.3,631.1 69.1,629.8 70.2,626.7 71.7,617.9 73.5,619.0 74.6,616.7 76.1,607.6 77.8,610.5 78.9,608.7 80.5,601.9 82.2,603.5 83.3,601.9 84.8,593.5 86.6,597.4 87.7,596.0 89.2,588.3 91.0,592.1 92.1,590.9 93.6,584.2 95.3,587.4 96.4,586.3 98.0,578.7 99.7,582.8 100.8,581.6 102.3,573.6 104.1,577.7 105.2,576.4 106.7,568.9 108.5,572.4 109.6,571.2 111.1,565.2 112.8,567.9 113.9,567.0 115.5,560.0 117.2,564.6 118.3,563.8 119.8,556.7 121.6,561.6 122.7,560.9 124.2,555.1 126.0,559.0 127.1,558.4 128.6,551.4 130.3,556.6 131.4,556.0 133.0,550.2 134.7,554.4 135.8,553.8 137.3,546.7 139.1,552.2 140.2,551.6 141.7,543.7 143.5,550.0 144.6,549.4 146.1,541.7 147.8,547.7 148.9,547.1 150.5,539.2 152.2,545.4 153.3,544.8 154.8,537.1 156.6,543.1 157.7,542.6 159.2,534.5 161.0,540.9 162.0,540.4 163.6,531.9 165.3,538.9 166.4,538.4 168.0,531.2 169.7,536.9 170.8,536.5 172.3,529.7 174.1,535.2 175.2,534.8 176.7,526.4 178.5,533.7 179.5,533.3 181.1,524.6 182.8,532.1 183.9,531.8 185.5,523.3 187.2,530.7 188.3,530.3 189.8,521.5 191.6,529.3 192.7,528.9 194.2,520.3 196.0,528.0 197.0,527.7 198.6,520.6 200.3,526.8 201.4,526.5 203.0,518.1 204.7,525.7 205.8,525.4 207.3,516.6 209.1,524.7 210.2,524.4 211.7,516.8 213.4,523.8 213.9,523.7 213.9,549.2 213.2,549.4 211.9,557.2 210.8,557.5 209.7,550.4 208.9,550.6 207.5,559.9 206.4,560.2 205.4,551.6 204.5,551.8 203.2,558.4 202.1,558.7 201.0,552.9 200.1,553.1 198.8,561.4 197.7,561.7 196.6,554.2 195.7,554.4 194.4,561.1 193.3,561.4 192.2,555.5 191.4,555.8 190.0,563.4 189.0,563.7 187.9,556.9 187.0,557.2 185.7,563.8 184.6,564.2 183.5,558.3 182.6,558.6 181.3,567.6 180.2,567.9 179.1,559.7 178.2,560.0 176.9,567.3 175.8,567.6 174.7,561.1 173.9,561.4 172.5,568.1 171.5,568.4 170.4,562.6 169.5,562.9 168.2,570.2 167.1,570.6 166.0,564.0 165.1,564.3 163.8,571.5 162.7,571.8 161.6,565.4 160.7,565.7 159.4,571.7 158.3,572.0 157.2,566.9 156.4,567.3 155.0,574.2 154.0,574.6 152.9,568.6 152.0,568.9 150.7,577.2 149.6,577.6 148.5,570.4 147.6,570.8 146.3,576.9 145.2,577.4 144.1,572.4 143.2,572.9 141.9,579.9 140.8,580.5 139.7,574.9 138.9,575.4 137.6,582.3 136.5,582.9 135.4,577.6 134.5,578.2 133.2,585.5 132.1,586.3 131.0,580.7 130.1,581.3 128.8,587.2 127.7,588.0 126.6,584.0 125.7,584.7 124.4,591.2 123.3,592.1 122.2,587.4 121.4,588.1 120.1,595.2 119.0,596.1 117.9,591.0 117.0,591.7 115.7,599.3 114.6,600.1 113.5,594.6 112.6,595.3 111.3,602.8 110.2,603.8 109.1,598.3 108.2,599.1 106.9,605.8 105.8,606.8 104.7,602.3 103.9,603.1 102.6,608.6 101.5,609.6 100.4,606.4 99.5,607.1 98.2,612.6 97.1,613.5 96.0,610.2 95.1,610.9 93.8,618.1 92.7,619.0 91.6,613.9 90.7,614.7 89.4,620.8 88.3,621.9 87.2,618.1 86.4,619.0 85.1,624.9 84.0,626.1 82.9,622.9 82.0,623.8 80.7,630.0 79.6,631.3 78.5,627.8 77.6,628.9 76.3,636.6 75.2,638.2 74.1,634.1 73.2,635.7 71.9,643.3 70.8,645.7 69.7,643.3 68.9,646.7 67.6,659.5 66.5,665.3 65.4,664.1 64.5,666.9 63.2,674.8 62.1,674.8 61.0,672.0 60.3,674.8 35.4,674.8" fill="#1010F0"/>
<polygon points="35.4,666.7 36.0,667.4 36.6,666.5 37.2,666.9 37.8,668.2 38.4,666.2 39.0,666.7 39.6,666.7 40.2,668.1 40.8,667.4 41.4,667.6 42.0,666.4 42.6,667.0 43.2,666.6 43.8,667.4 44.4,667.9 45.0,667.2 45.6,668.3 46.2,666.6 46.8,667.0 47.4,666.7 48.0,667.6 48.6,666.3 49.2,666.4 49.8,666.7 50.4,668.0 51.0,667.4 51.6,668.3 52.2,668.1 52.8,666.9 53.7,666.3 54.8,663.1 56.3,653.9 58.0,654.5 59.1,651.8 60.7,643.8 62.4,644.8 63.5,642.6 65.0,634.3 66.8,636.4 67.9,634.4 69.4,626.2 71.2,629.3 72.3,627.7 73.8,619.5 75.5,623.2 76.6,621.8 78.2,615.0 79.9,617.8 81.0,616.6 82.5,608.9 84.3,612.9 85.4,611.8 86.9,605.4 88.7,608.5 89.8,607.4 91.3,601.5 93.0,604.5 94.1,603.5 95.7,597.9 97.4,600.6 98.5,599.7 100.0,592.6 101.8,596.7 102.9,595.7 104.4,588.3 106.2,592.7 107.3,591.7 108.8,584.8 110.5,588.7 111.6,587.8 113.2,582.1 114.9,585.1 116.0,584.2 117.5,577.8 119.3,581.7 120.4,580.8 121.9,573.7 123.7,578.4 124.8,577.6 126.3,570.8 128.0,575.2 129.1,574.5 130.7,568.1 132.4,572.2 133.5,571.5 135.0,564.7 136.8,569.4 137.9,568.7 139.4,561.9 141.2,566.8 142.2,566.2 143.8,559.8 145.5,564.4 146.6,563.9 148.2,557.4 149.9,562.3 151.0,561.8 152.5,554.2 154.3,560.3 155.4,559.8 156.9,551.8 158.7,558.5 159.7,558.0 161.3,551.0 163.0,556.7 164.1,556.3 165.7,549.9 167.4,555.1 168.5,554.7 170.0,548.5 171.8,553.5 172.9,553.2 174.4,545.8 176.2,552.0 177.2,551.7 178.8,544.1 180.5,550.6 181.6,550.2 183.1,542.0 184.9,549.2 186.0,548.8 187.5,541.5 189.3,547.8 190.4,547.5 191.9,539.3 193.6,546.5 194.7,546.2 196.3,539.7 198.0,545.2 199.1,544.9 200.6,535.7 202.4,544.0 203.5,543.8 205.0,535.3 206.8,542.9 207.9,542.7 209.4,533.3 211.1,541.9 212.2,541.6 213.8,533.0 213.9,541.3 213.9,561.2 212.9,567.0 211.8,561.6 210.9,561.8 209.6,568.4 208.5,568.7 207.4,562.6 206.6,562.9 205.2,568.3 204.1,568.5 203.1,563.8 202.2,564.0 200.9,570.9 199.8,571.2 198.7,565.0 197.8,565.2 196.5,570.3 195.4,570.6 194.3,566.3 193.4,566.6 192.1,572.1 191.0,572.5 189.9,567.7 189.1,568.0 187.7,573.4 186.6,573.7 185.6,569.2 184.7,569.5 183.4,575.1 182.3,575.5 181.2,570.7 180.3,571.0 179.0,576.0 177.9,576.3 176.8,572.3 175.9,572.6 174.6,577.5 173.5,577.9 172.4,573.9 171.6,574.2 170.2,580.4 169.2,580.8 168.1,575.6 167.2,576.0 165.9,580.6 164.8,581.0 163.7,577.4 162.8,577.8 161.5,584.1 160.4,584.6 159.3,579.4 158.4,579.8 157.1,585.7 156.0,586.3 154.9,581.5 154.1,582.0 152.7,587.6 151.7,588.2 150.6,583.8 149.7,584.2 148.4,589.3 147.3,589.9 146.2,586.2 145.3,586.7 144.0,591.2 142.9,591.9 141.8,588.8 140.9,589.3 139.6,595.4 138.5,596.1 137.4,591.6 136.6,592.2 135.2,597.0 134.2,597.8 133.1,594.6 132.2,595.3 130.9,599.7 129.8,600.5 128.7,597.9 127.8,598.6 126.5,603.9 125.4,604.7 124.3,601.3 123.4,602.0 122.1,607.4 121.0,608.3 119.9,604.9 119.1,605.6 117.8,610.8 116.7,611.7 115.6,608.5 114.7,609.3 113.4,614.6 112.3,615.6 111.2,612.3 110.3,613.2 109.0,617.8 107.9,618.9 106.8,616.6 105.9,617.4 104.6,622.7 103.5,623.8 102.4,621.0 101.6,621.8 100.3,627.5 99.2,628.5 98.1,625.2 97.2,626.1 95.9,631.8 94.8,632.8 93.7,629.4 92.8,630.3 91.5,635.0 90.4,636.1 89.3,633.7 88.4,634.6 87.1,640.2 86.0,641.4 84.9,638.3 84.1,639.2 82.8,644.5 81.7,645.8 80.6,643.3 79.7,644.3 78.4,650.5 77.3,651.8 76.2,648.6 75.3,649.7 74.0,655.6 72.9,656.9 71.8,653.9 70.9,654.9 69.6,660.2 68.5,661.4 67.4,658.7 66.6,659.6 65.3,664.5 64.2,665.6 63.1,663.2 62.2,664.2 60.9,669.1 59.8,670.5 58.7,668.6 57.8,669.8 56.5,674.6 55.4,674.7 54.3,672.7 53.4,672.7 53.2,674.8 35.4,674.8" fill="#10F010"/>
<polygon points="265.5,666.8 266.1,666.7 266.7,667.3 267.3,666.4 267.9,667.9 268.5,667.1 269.1,668.3 269.7,667.3 270.3,667.6 270.9,667.9 271.5,666.4 272.1,667.6 272.7,667.8 273.3,668.2 273.9,668.2 274.5,666.4 275.1,667.2 275.7,666.6 276.3,668.4 276.9,667.2 277.5,667.6 278.1,667.7 278.7,667.0 279.3,668.3 279.9,667.9 280.5,667.9 281.1,667.5 281.7,667.7 282.3,666.8 282.9,667.4 283.5,666.8 284.1,668.2 284.7,667.2 285.8,656.3 286.9,648.9 288.4,639.0 290.2,639.2 291.3,636.2 292.8,627.6 294.6,628.3 295.7,625.9 297.2,616.5 299.0,619.0 300.1,616.7 301.6,609.2 303.4,609.6 304.5,607.2 306.0,597.6 307.7,600.1 308.8,597.8 310.4,589.5 312.1,591.5 313.2,589.5 314.8,581.0 316.5,584.3 317.6,582.8 319.1,574.5 320.9,578.4 322.0,577.0 323.5,570.1 325.3,573.2 326.4,572.0 327.9,564.8 329.7,568.7 330.8,567.7 332.3,561.4 334.1,564.9 335.2,564.0 336.7,557.1 338.4,561.6 339.5,560.8 341.1,552.9 342.8,558.5 343.9,557.7 345.5,551.7 347.2,555.3 348.3,554.5 349.8,547.2 351.6,552.4 352.7,551.7 354.2,543.4 356.0,549.7 357.1,549.0 358.6,541.6 360.4,547.0 361.5,546.4 363.0,537.9 364.8,544.6 365.9,544.0 367.4,536.2 369.1,542.3 370.2,541.8 371.8,533.6 373.5,540.5 374.6,540.1 376.2,534.0 377.9,539.0 379.0,538.7 380.5,532.4 382.3,537.8 383.4,537.5 384.9,530.5 386.7,536.7 387.8,536.5 389.3,530.3 391.1,535.7 392.2,535.5 393.7,528.1 395.5,534.8 396.6,534.5 398.1,528.3 399.8,533.8 400.9,533.5 402.5,525.6 404.2,532.7 405.3,532.4 406.9,524.2 408.6,531.4 409.7,531.1 411.2,524.3 413.0,530.3 414.1,530.0 415.6,522.8 417.4,529.3 418.5,529.1 420.0,522.0 421.8,528.5 422.9,528.4 424.4,521.7 426.2,527.9 427.3,527.8 428.8,518.8 430.5,527.3 431.6,527.2 433.2,518.1 434.9,526.8 436.0,526.7 437.6,519.6 439.3,526.5 440.4,526.4 441.9,518.0 443.7,526.2 444.5,526.2 444.5,533.2 444.4,533.2 443.5,533.2 442.2,539.5 441.1,539.5 440.0,533.3 439.1,533.4 437.8,542.1 436.7,542.2 435.6,533.7 434.7,533.8 433.4,540.3 432.3,540.5 431.2,534.2 430.3,534.4 429.0,541.6 427.9,541.7 426.8,535.0 425.9,535.1 424.6,544.3 423.5,544.5 422.4,535.8 421.5,536.0 420.2,543.8 419.1,544.1 418.0,536.8 417.2,537.1 415.8,543.5 414.8,543.7 413.7,538.0 412.8,538.2 411.5,544.9 410.4,545.2 409.3,539.3 408.4,539.5 407.1,548.6 406.0,549.0 404.9,540.6 404.0,540.9 402.7,548.3 401.6,548.7 400.5,542.1 399.6,542.4 398.3,551.5 397.2,551.9 396.1,543.6 395.2,543.9 393.9,552.4 392.8,552.8 391.7,545.2 390.9,545.5 389.5,552.1 388.4,552.5 387.3,546.8 386.5,547.1 385.1,555.7 384.1,556.1 383.0,548.5 382.1,548.8 380.8,556.9 379.7,557.3 378.6,550.2 377.7,550.5 376.4,558.4 375.3,558.8 374.2,551.9 373.3,552.3 372.0,558.5 370.9,559.0 369.8,553.9 368.9,554.4 367.6,560.6 366.5,561.2 365.4,556.2 364.5,556.7 363.2,564.0 362.1,564.6 361.0,558.9 360.2,559.4 358.8,566.7 357.7,567.4 356.6,561.7 355.8,562.3 354.5,569.4 353.4,570.1 352.3,564.8 351.4,565.5 350.1,572.3 349.0,573.1 347.9,568.1 347.0,568.8 345.7,575.1 344.6,576.0 343.5,571.6 342.6,572.3 341.3,580.5 340.2,581.4 339.1,575.3 338.2,576.1 336.9,582.3 335.8,583.3 334.7,579.3 333.8,580.2 332.5,587.9 331.4,588.9 330.3,583.7 329.5,584.7 328.1,591.5 327.0,592.7 325.9,588.6 325.1,589.6 323.8,596.3 322.7,597.6 321.6,593.8 320.7,594.9 319.4,601.3 318.3,602.7 317.2,599.6 316.3,600.8 315.0,607.9 313.9,609.5 312.8,606.1 311.9,607.6 310.6,614.9 309.5,616.9 308.4,614.0 307.5,615.8 306.2,623.4 305.1,625.8 304.0,623.2 303.1,625.1 301.8,633.5 300.7,636.0 299.6,633.3 298.8,635.5 297.4,645.1 296.3,648.1 295.2,645.1 294.4,647.7 293.1,656.9 292.0,660.3 290.9,658.6 290.0,661.5 288.7,671.4 287.6,674.5 286.5,671.7 285.6,671.7 285.2,674.5 265.5,674.5" fill="#F0147F"/>
<polygon points="265.5,666.5 266.1,667.8 266.7,667.9 267.3,668.0 267.9,666.8 268.5,668.0 269.1,666.7 269.7,666.9 270.3,667.6 270.9,667.4 271.5,666.5 272.1,666.8 272.7,668.1 273.3,666.9 273.9,667.6 274.5,666.3 275.1,668.0 275.7,667.6 276.3,666.5 276.9,667.2 277.5,666.9 278.1,667.2 278.7,668.0 279.3,668.3 279.9,668.2 280.5,667.7 281.1,668.3 281.7,668.1 282.3,667.4 282.9,667.7 283.5,667.3 284.1,667.7 284.7,667.3 286.1,659.3 287.2,656.9 288.7,649.3 290.5,652.7 291.6,650.2 293.1,641.1 294.9,640.4 296.0,636.8 297.5,626.4 299.3,626.8 300.4,624.1 301.9,614.2 303.6,617.0 304.7,614.8 306.3,605.4 308.0,608.6 309.1,606.6 310.7,597.8 312.4,601.1 313.5,599.4 315.0,592.7 316.8,594.5 317.9,593.0 319.4,586.6 321.2,588.6 322.3,587.2 323.8,581.0 325.6,583.2 326.7,581.9 328.2,575.9 330.0,578.4 331.0,577.3 332.6,569.4 334.3,574.2 335.4,573.3 337.0,567.0 338.7,570.7 339.8,569.8 341.4,562.3 343.1,567.1 344.2,566.2 345.7,559.1 347.5,563.3 348.6,562.4 350.1,554.4 351.9,560.0 353.0,559.2 354.5,552.1 356.3,556.9 357.4,556.2 358.9,548.3 360.7,554.1 361.7,553.4 363.3,545.7 365.0,551.5 366.1,550.9 367.7,543.1 369.4,549.2 370.5,548.6 372.1,540.0 373.8,547.2 374.9,546.7 376.4,540.0 378.2,545.5 379.3,545.1 380.8,537.7 382.6,544.0 383.7,543.7 385.2,536.8 387.0,542.7 388.1,542.4 389.6,534.9 391.3,541.6 392.4,541.3 394.0,533.5 395.7,540.4 396.8,540.1 398.4,533.0 400.1,539.3 401.2,539.0 402.8,530.3 404.5,538.1 405.6,537.8 407.1,530.0 408.9,536.9 410.0,536.6 411.5,528.6 413.3,535.7 414.4,535.5 415.9,527.5 417.7,534.8 418.8,534.6 420.3,528.2 422.0,534.1 423.1,533.9 424.7,525.2 426.4,533.4 427.5,533.3 429.1,524.5 430.8,532.9 431.9,532.7 433.5,523.6 435.2,532.4 436.3,532.3 437.8,525.1 439.6,532.0 440.7,532.0 442.2,525.0 444.0,531.8 444.5,531.8 444.5,549.1 443.8,549.1 442.4,555.4 441.3,555.4 440.2,549.2 439.4,549.2 438.1,556.5 437.0,556.5 435.9,549.5 435.0,549.6 433.7,556.7 432.6,556.8 431.5,550.0 430.6,550.1 429.3,556.4 428.2,556.6 427.1,550.7 426.2,550.8 424.9,557.2 423.8,557.4 422.7,551.5 421.8,551.7 420.5,560.3 419.4,560.5 418.3,552.5 417.4,552.8 416.1,561.3 415.0,561.6 413.9,553.9 413.1,554.2 411.7,560.6 410.6,560.9 409.5,555.4 408.7,555.7 407.4,562.0 406.3,562.3 405.2,557.0 404.3,557.3 403.0,564.5 401.9,564.8 400.8,558.6 399.9,559.0 398.6,565.4 397.5,565.7 396.4,560.3 395.5,560.6 394.2,568.5 393.1,568.8 392.0,562.0 391.1,562.3 389.8,567.7 388.7,568.1 387.6,563.7 386.7,564.1 385.4,571.2 384.3,571.6 383.2,565.6 382.4,566.0 381.0,571.9 379.9,572.4 378.9,567.6 378.0,568.0 376.7,573.9 375.6,574.3 374.5,569.8 373.6,570.2 372.3,574.9 371.2,575.4 370.1,572.2 369.2,572.7 367.9,579.0 366.8,579.6 365.7,574.8 364.8,575.4 363.5,580.6 362.4,581.4 361.3,577.7 360.4,578.3 359.1,584.7 358.0,585.5 356.9,580.7 356.0,581.3 354.7,586.9 353.6,587.7 352.5,583.9 351.7,584.5 350.3,590.3 349.2,591.2 348.2,587.3 347.3,588.1 346.0,593.4 344.9,594.2 343.8,591.2 342.9,592.0 341.6,596.3 340.5,597.0 339.4,594.7 338.5,595.4 337.2,600.5 336.1,601.4 335.0,598.0 334.1,598.7 332.8,603.4 331.7,604.3 330.6,601.6 329.7,602.4 328.4,607.6 327.3,608.8 326.2,605.8 325.3,606.6 324.0,613.0 322.9,614.3 321.8,610.3 321.0,611.3 319.6,617.3 318.6,618.7 317.5,615.3 316.6,616.4 315.3,623.4 314.2,624.9 313.1,621.2 312.2,622.5 310.9,628.8 309.8,630.4 308.7,627.6 307.8,629.0 306.5,636.4 305.4,638.2 304.3,634.6 303.4,636.1 302.1,643.3 301.0,645.3 299.9,642.4 299.0,644.1 297.7,652.5 296.6,654.8 295.5,651.3 294.6,653.2 293.3,660.7 292.2,663.2 291.1,661.3 290.3,663.5 288.9,671.7 287.9,674.0 286.8,671.7 285.9,671.7 285.2,674.5 265.5,674.5" fill="#1010F0"/>
<polygon points="265.5,667.1 266.1,667.2 266.7,667.3 267.3,668.4 267.9,667.3 268.5,666.4 269.1,667.6 269.7,668.4 270.3,667.9 270.9,666.4 271.5,666.6 272.1,667.4 272.7,668.2 273.3,668.3 273.9,666.4 274.5,668.3 275.1,667.4 275.7,667.6 276.3,666.8 276.9,668.3 277.5,667.4 278.1,666.6 278.7,667.6 279.3,666.8 279.9,667.3 280.5,668.1 281.1,666.8 281.7,667.9 282.3,667.2 282.9,667.9 283.5,666.3 284.1,667.8 284.7,667.8 285.3,667.4 285.9,667.7 286.5,667.0 287.1,667.2 287.7,667.6 289.1,658.4 290.8,657.8 291.9,655.0 293.5,645.1 295.2,647.7 296.3,645.5 297.9,637.4 299.6,639.5 300.7,637.7 302.3,630.1 304.0,632.5 305.1,630.9 306.6,622.3 308.4,626.4 309.5,624.9 311.0,618.0 312.8,620.8 313.9,619.5 315.4,612.3 317.2,615.6 318.3,614.3 319.8,607.9 321.5,610.6 322.6,609.4 324.2,602.5 325.9,606.1 327.0,605.0 328.6,597.6 330.3,601.9 331.4,600.9 332.9,594.1 334.7,598.2 335.8,597.4 337.3,590.8 339.1,594.9 340.2,594.1 341.7,586.9 343.5,591.5 344.6,590.5 346.1,583.0 347.9,587.6 349.0,586.6 350.5,580.2 352.2,584.1 353.3,583.3 354.9,577.4 356.6,580.9 357.7,580.1 359.3,572.4 361.0,577.9 362.1,577.2 363.6,570.2 365.4,575.0 366.5,574.3 368.0,566.8 369.8,572.4 370.9,571.7 372.4,565.7 374.2,569.9 375.3,569.4 376.8,563.2 378.6,567.7 379.7,567.2 381.2,560.4 382.9,565.7 384.0,565.2 385.6,558.8 387.3,563.8 388.4,563.4 390.0,555.0 391.7,562.1 392.8,561.7 394.3,554.6 396.1,560.4 397.2,560.0 398.7,553.4 400.5,558.7 401.6,558.3 403.1,551.8 404.9,557.1 406.0,556.7 407.5,549.9 409.3,555.5 410.4,555.1 411.9,548.7 413.6,554.0 414.7,553.6 416.3,546.9 418.0,552.6 419.1,552.3 420.7,545.9 422.4,551.3 423.5,551.0 425.0,544.7 426.8,550.1 427.9,549.9 429.4,542.6 431.2,549.0 432.3,548.8 433.8,541.8 435.6,548.0 436.7,547.7 438.2,538.8 440.0,547.0 441.1,546.8 442.6,538.5 444.3,546.2 444.5,546.1 444.5,563.0 444.1,563.1 442.8,570.5 441.7,570.8 440.6,563.9 439.7,564.1 438.4,572.8 437.3,573.1 436.2,564.9 435.4,565.2 434.0,572.1 432.9,572.3 431.8,566.1 431.0,566.3 429.6,574.6 428.6,574.8 427.5,567.2 426.6,567.4 425.3,574.0 424.2,574.3 423.1,568.4 422.2,568.6 420.9,575.5 419.8,575.8 418.7,569.6 417.8,569.9 416.5,576.6 415.4,576.9 414.3,570.9 413.4,571.1 412.1,578.7 411.0,579.0 409.9,572.2 409.0,572.5 407.7,581.1 406.6,581.5 405.5,573.6 404.7,573.9 403.3,580.4 402.2,580.8 401.1,575.2 400.3,575.5 399.0,583.2 397.9,583.6 396.8,576.9 395.9,577.3 394.6,585.8 393.5,586.2 392.4,578.8 391.5,579.2 390.2,585.6 389.1,586.1 388.0,580.9 387.1,581.3 385.8,587.9 384.7,588.5 383.6,583.1 382.7,583.6 381.4,591.3 380.3,591.9 379.2,585.5 378.3,586.0 377.0,594.2 375.9,594.7 374.8,587.9 374.0,588.4 372.6,595.8 371.5,596.4 370.4,590.5 369.6,591.0 368.3,596.9 367.2,597.5 366.1,593.1 365.2,593.7 363.9,600.7 362.8,601.3 361.7,596.0 360.8,596.6 359.5,602.9 358.4,603.6 357.3,599.1 356.4,599.7 355.1,605.7 354.0,606.6 352.9,602.6 352.0,603.3 350.7,608.7 349.6,609.7 348.5,606.6 347.6,607.7 346.3,614.8 345.2,616.2 344.1,612.0 343.3,612.9 341.9,618.7 340.8,619.6 339.7,615.9 338.9,616.6 337.6,623.2 336.5,624.0 335.4,619.2 334.5,619.8 333.2,625.1 332.1,626.0 331.0,622.6 330.1,623.3 328.8,630.7 327.7,631.7 326.6,626.4 325.7,627.2 324.4,633.2 323.3,634.2 322.2,630.5 321.3,631.4 320.0,638.5 318.9,639.7 317.8,635.1 316.9,636.1 315.6,642.5 314.5,643.9 313.4,640.5 312.6,641.9 311.2,649.3 310.1,651.2 309.0,647.7 308.2,649.2 306.9,656.9 305.8,658.8 304.7,655.2 303.8,656.7 302.5,664.3 301.4,665.9 300.3,661.7 299.4,662.7 298.1,669.9 297.0,671.2 295.9,666.7 295.0,667.6 293.7,674.1 292.6,674.2 291.5,670.9 290.6,671.6 289.3,674.1 288.2,674.1 287.9,674.5 265.5,674.5" fill="#10F010"/>
<polygon points="495.5,663.8 496.1,664.8 496.7,664.7 497.3,661.5 497.9,661.9 498.5,663.0 499.1,661.6 499.7,661.5 500.3,663.6 500.9,663.8 501.5,662.6 502.1,664.9 502.7,663.0 503.3,662.2 503.9,662.8 504.5,663.0 505.1,663.1 505.7,664.2 506.3,663.4 506.9,664.5 507.5,663.9 508.1,663.2 508.7,664.9 509.3,663.0 509.9,661.5 510.5,661.8 511.1,661.5 511.7,661.6 512.3,663.3 512.9,662.9 513.5,664.7 514.1,664.7 514.7,664.3 515.3,664.2 515.9,664.2 516.5,662.6 517.1,664.7 517.7,663.2 518.1,667.9 519.7,657.9 521.4,657.5 522.5,653.5 524.0,642.2 525.8,639.9 526.9,635.6 528.4,625.0 530.2,624.3 531.3,620.6 532.8,609.2 534.5,610.2 535.6,606.9 537.2,597.4 538.9,598.6 540.0,596.2 541.6,589.0 543.3,590.4 544.4,588.7 545.9,581.6 547.7,584.2 548.8,582.8 550.3,575.3 552.1,578.8 553.2,577.6 554.7,571.5 556.4,574.0 557.5,572.9 559.1,566.3 560.8,569.7 561.9,568.7 563.5,561.7 565.2,565.8 566.3,564.9 567.8,557.8 569.6,562.2 570.7,561.4 572.2,554.4 574.0,558.9 575.1,558.1 576.6,550.8 578.4,555.9 579.4,555.2 581.0,546.6 582.7,553.4 583.8,552.8 585.4,544.9 587.1,551.2 588.2,550.7 589.7,542.2 591.5,549.2 592.6,548.7 594.1,541.1 595.9,547.4 597.0,546.9 598.5,540.3 600.3,545.7 601.3,545.3 602.9,539.1 604.6,544.2 605.7,543.8 607.3,537.0 609.0,542.8 610.1,542.5 611.6,533.7 613.4,541.5 614.5,541.2 616.0,532.1 617.8,540.3 618.9,540.0 620.4,532.6 622.2,539.2 623.3,538.9 624.8,530.3 626.5,538.2 627.6,538.0 629.2,529.3 630.9,537.3 632.0,537.1 633.5,529.3 635.3,536.5 636.4,536.3 637.9,529.9 639.7,535.8 640.8,535.7 642.3,526.5 644.1,535.3 645.2,535.2 646.7,528.9 648.4,535.0 649.5,534.9 651.1,528.5 652.8,534.8 653.9,534.7 655.5,527.9 657.2,534.5 658.3,534.5 659.8,526.8 661.6,534.4 662.7,534.3 664.2,527.5 666.0,534.2 667.1,534.2 668.6,526.3 670.3,534.1 671.4,534.1 673.0,527.6 674.3,534.1 674.3,542.9 673.2,550.0 672.1,550.1 671.0,543.1 670.1,543.2 668.8,549.9 667.7,550.0 666.6,543.6 665.7,543.7 664.4,550.0 663.3,550.2 662.2,544.1 661.4,544.3 660.0,552.9 659.0,553.1 657.9,544.8 657.0,545.0 655.7,551.7 654.6,552.0 653.5,545.7 652.6,545.9 651.3,553.2 650.2,553.5 649.1,546.7 648.2,546.9 646.9,555.7 645.8,555.9 644.7,547.8 643.8,548.0 642.5,556.2 641.4,556.4 640.3,549.0 639.5,549.2 638.1,555.9 637.1,556.2 636.0,550.3 635.1,550.6 633.8,557.9 632.7,558.3 631.6,551.7 630.7,552.0 629.4,561.3 628.3,561.6 627.2,553.1 626.3,553.4 625.0,561.5 623.9,561.8 622.8,554.7 621.9,555.0 620.6,562.3 619.5,562.7 618.4,556.2 617.6,556.6 616.2,565.3 615.1,565.6 614.1,557.9 613.2,558.2 611.9,566.1 610.8,566.5 609.7,559.5 608.8,559.9 607.5,567.1 606.4,567.5 605.3,561.2 604.4,561.5 603.1,569.8 602.0,570.2 600.9,563.0 600.0,563.4 598.7,572.2 597.6,572.7 596.5,565.1 595.7,565.6 594.3,572.5 593.2,573.1 592.2,567.4 591.3,567.9 590.0,574.9 588.9,575.5 587.8,570.0 586.9,570.5 585.6,577.1 584.5,577.8 583.4,572.8 582.5,573.3 581.2,579.9 580.1,580.6 579.0,575.7 578.1,576.3 576.8,584.3 575.7,585.1 574.6,578.9 573.8,579.5 572.4,587.1 571.3,587.8 570.2,582.2 569.4,582.9 568.1,590.0 567.0,590.8 565.9,585.6 565.0,586.4 563.7,592.3 562.6,593.2 561.5,589.3 560.6,590.1 559.3,596.1 558.2,597.1 557.1,593.6 556.2,594.7 554.9,600.2 553.8,601.3 552.7,599.5 551.8,600.7 550.5,605.0 549.4,606.4 548.3,605.3 547.5,606.1 546.2,611.3 545.1,612.8 544.0,609.4 543.1,610.3 541.8,616.9 540.7,618.5 539.6,614.8 538.7,616.3 537.4,623.2 536.3,625.5 535.2,623.8 534.3,625.9 533.0,634.1 531.9,636.9 530.8,634.2 529.9,636.6 528.6,646.6 527.5,649.8 526.4,646.9 525.6,649.6 524.3,667.3 523.2,669.4 522.1,660.9 521.2,663.8 519.9,674.6 518.8,674.8 517.9,674.8 495.5,674.8" fill="#F0147F"/>
<polygon points="495.5,663.6 496.1,662.3 496.7,662.6 497.3,662.5 497.9,663.4 498.5,661.5 499.1,661.5 499.7,661.7 500.3,664.3 500.9,662.6 501.5,662.6 502.1,662.8 502.7,663.0 503.3,662.7 503.9,664.1 504.5,663.3 505.1,664.7 505.7,662.0 506.3,664.9 506.9,664.9 507.5,661.7 508.1,661.6 508.7,662.0 509.3,662.5 509.9,664.4 510.5,661.8 511.1,663.2 511.7,662.5 512.3,664.8 512.9,664.5 513.5,662.5 514.1,661.7 514.7,664.1 515.3,664.3 515.9,664.0 516.5,663.0 517.1,664.3 517.7,664.6 518.3,663.1 518.9,662.8 519.5,663.2 520.1,661.8 520.7,664.0 521.3,663.3 521.9,662.7 522.4,670.8 523.4,668.8 525.0,659.9 526.7,659.9 527.8,658.1 529.4,651.0 531.1,650.1 532.2,646.5 533.7,636.8 535.5,635.4 536.6,631.8 538.1,622.1 539.9,622.5 541.0,620.0 542.5,610.4 544.3,613.3 545.4,611.3 546.9,602.3 548.6,605.6 549.7,603.9 551.3,596.9 553.0,599.0 554.1,597.5 555.6,589.5 557.4,593.2 558.5,591.9 560.0,585.2 561.8,588.0 562.9,586.8 564.4,579.3 566.2,583.3 567.3,582.2 568.8,576.4 570.5,579.0 571.6,578.0 573.2,572.4 574.9,575.2 576.0,574.4 577.5,567.8 579.3,572.0 580.4,571.3 581.9,563.7 583.7,569.2 584.8,568.5 586.3,562.8 588.1,566.6 589.2,566.0 590.7,558.5 592.4,564.2 593.5,563.7 595.1,557.3 596.8,562.0 597.9,561.5 599.5,553.7 601.2,560.0 602.3,559.5 603.8,551.5 605.6,558.1 606.7,557.6 608.2,551.9 610.0,556.4 611.1,556.0 612.6,549.4 614.3,554.9 615.4,554.5 617.0,547.7 618.7,553.5 619.8,553.1 621.4,545.4 623.1,552.0 624.2,551.7 625.7,543.5 627.5,550.5 628.6,550.1 630.1,541.3 631.9,548.7 633.0,548.1 634.5,541.6 636.2,546.3 637.3,545.7 638.9,536.9 640.6,543.8 641.7,543.2 643.3,536.6 645.0,541.9 646.1,541.6 647.6,532.4 649.4,540.7 650.5,540.4 652.0,531.7 653.8,539.5 654.9,539.2 656.4,529.9 658.2,538.4 659.2,538.2 660.8,531.4 662.5,537.5 663.6,537.3 665.2,529.2 666.9,536.8 668.0,536.7 669.5,527.5 671.3,536.4 672.4,536.4 673.9,528.9 674.3,536.4 674.3,558.6 674.1,566.7 673.0,566.9 672.0,559.1 671.1,559.3 669.8,566.4 668.7,566.7 667.6,560.1 666.7,560.3 665.4,569.0 664.3,569.2 663.2,561.2 662.3,561.4 661.0,569.2 659.9,569.5 658.8,562.3 657.9,562.6 656.6,571.4 655.5,571.7 654.4,563.6 653.6,563.8 652.2,570.6 651.1,570.9 650.0,564.9 649.2,565.2 647.9,573.9 646.8,574.2 645.7,566.3 644.8,566.6 643.5,574.5 642.4,574.9 641.3,567.8 640.4,568.1 639.1,575.7 638.0,576.1 636.9,569.3 636.0,569.6 634.7,577.8 633.6,578.2 632.5,570.9 631.6,571.2 630.3,579.2 629.2,579.6 628.1,572.6 627.3,572.9 626.0,579.6 624.9,580.0 623.8,574.2 622.9,574.6 621.6,580.4 620.5,580.8 619.4,576.0 618.5,576.3 617.2,584.1 616.1,584.5 615.0,577.7 614.1,578.1 612.8,584.6 611.7,585.0 610.6,579.5 609.7,579.9 608.4,586.6 607.3,587.1 606.2,581.3 605.4,581.7 604.1,588.1 603.0,588.5 601.9,583.2 601.0,583.6 599.7,589.9 598.6,590.3 597.5,585.2 596.6,585.6 595.3,593.5 594.2,593.9 593.1,587.2 592.2,587.7 590.9,594.6 589.8,595.1 588.7,589.4 587.8,589.9 586.5,597.0 585.4,597.5 584.3,591.8 583.5,592.3 582.1,599.3 581.1,599.9 580.0,594.3 579.1,594.8 577.8,601.8 576.7,602.5 575.6,597.0 574.7,597.5 573.4,602.9 572.3,603.6 571.2,599.9 570.3,600.5 569.0,606.1 567.9,606.9 566.8,603.0 565.9,603.6 564.6,609.7 563.5,610.6 562.4,606.5 561.6,607.2 560.2,614.8 559.1,615.8 558.1,610.5 557.2,611.4 555.9,619.1 554.8,620.3 553.7,615.1 552.8,616.1 551.5,623.0 550.4,624.5 549.3,620.8 548.4,622.1 547.1,630.6 546.0,632.5 544.9,628.5 544.0,630.5 542.7,638.6 541.6,641.6 540.5,639.9 539.7,642.5 538.3,653.0 537.2,656.8 536.2,654.4 535.3,657.2 534.0,666.3 532.9,668.9 531.8,666.0 530.9,668.0 529.6,674.8 528.5,674.8 527.4,672.0 526.5,672.0 525.2,674.8 524.1,674.8 523.0,672.0 522.3,674.8 495.5,674.8" fill="#1010F0"/>
<path d="M543.5 594.7L544.8 607.2M547.9 591.3L549.2 603.3M552.2 586.4L553.6 599.9M556.6 583.0L557.9 594.8M561.0 579.1L562.3 592.7M565.4 576.3L566.7 588.8M569.8 572.0L571.1 586.8M574.1 570.3L575.5 583.4M578.5 566.1L579.8 579.3M582.9 564.9L584.2 579.0M587.3 561.6L588.6 575.5M591.7 561.2L593.0 571.8M596.0 559.9L597.4 569.7M600.4 556.9L601.7 568.2M604.8 555.0L606.1 565.7M609.2 553.0L610.5 565.1M613.6 551.3L614.9 561.8M618.0 549.5L619.3 560.2M622.3 548.4L623.6 558.5M626.7 547.6L628.0 557.9M631.1 546.3L632.4 555.2M635.5 543.2L636.8 553.7M639.9 542.7L641.2 552.0M644.2 541.2L645.5 550.2M648.6 540.6L649.9 549.2M653.0 538.0L654.3 548.4M657.4 536.8L658.7 547.6M661.8 536.4L663.1 545.7M666.1 535.9L667.5 545.1M670.5 534.9L671.8 543.3" stroke="#fff" stroke-width="0.8" fill="none"/>
<polygon points="495.5,662.8 496.1,662.3 496.7,662.2 497.3,663.9 497.9,662.5 498.5,661.7 499.1,663.2 499.7,661.9 500.3,662.1 500.9,664.1 501.5,662.1 502.1,664.9 502.7,664.2 503.3,663.9 503.9,664.5 504.5,663.4 505.1,662.7 505.7,663.4 506.3,662.1 506.9,662.7 507.5,662.0 508.1,663.8 508.7,662.8 509.3,664.8 509.9,664.5 510.5,663.0 511.1,662.8 511.7,663.4 512.3,664.3 512.9,662.5 513.5,662.1 514.1,662.2 514.7,662.1 515.4,658.9 517.1,656.9 518.2,652.7 519.7,642.0 521.5,645.2 522.6,644.1 524.1,638.5 525.9,641.6 527.0,640.5 528.5,632.2 530.2,635.4 531.3,633.0 532.9,623.6 534.6,625.2 535.7,622.5 537.3,612.8 539.0,615.6 540.1,613.9 541.6,606.8 543.4,610.0 544.5,608.9 546.0,601.1 547.8,605.8 548.9,604.9 550.4,597.6 552.2,602.1 553.2,601.1 554.8,594.8 556.5,598.1 557.6,597.1 559.2,591.2 560.9,594.2 562.0,593.2 563.5,587.4 565.3,590.5 566.4,589.7 567.9,583.6 569.7,587.4 570.8,586.7 572.3,580.2 574.1,585.0 575.1,584.5 576.7,577.8 578.4,583.1 579.5,582.6 581.1,576.4 582.8,580.8 583.9,580.2 585.4,574.0 587.2,578.2 588.3,577.5 589.8,569.9 591.6,575.3 592.7,574.6 594.2,567.2 596.0,572.5 597.1,571.8 598.6,564.2 600.3,569.8 601.4,569.2 603.0,561.3 604.7,567.4 605.8,566.9 607.3,559.8 609.1,565.4 610.2,564.9 611.7,557.2 613.5,563.6 614.6,563.2 616.1,557.3 617.9,561.9 619.0,561.5 620.5,555.0 622.2,560.3 623.3,559.9 624.9,552.1 626.6,558.6 627.7,558.1 629.2,549.9 631.0,556.7 632.1,556.1 633.6,549.2 635.4,554.3 636.5,553.7 638.0,545.6 639.8,551.8 640.9,551.3 642.4,543.9 644.1,549.8 645.2,549.5 646.8,541.8 648.5,548.6 649.6,548.3 651.2,541.6 652.9,547.4 654.0,547.1 655.5,539.7 657.3,546.3 658.4,546.1 659.9,537.0 661.7,545.5 662.8,545.3 664.3,536.5 666.0,544.8 667.1,544.6 668.7,537.3 670.4,544.3 671.5,544.3 673.1,536.2 674.3,544.2 674.3,564.3 673.3,573.1 672.2,573.1 671.1,564.3 670.2,564.4 668.9,571.0 667.8,571.1 666.7,564.8 665.8,564.9 664.5,572.4 663.4,572.5 662.3,565.5 661.4,565.6 660.1,574.7 659.0,574.9 657.9,566.4 657.1,566.6 655.8,575.5 654.7,575.8 653.6,567.5 652.7,567.8 651.4,575.8 650.3,576.1 649.2,568.8 648.3,569.1 647.0,578.0 645.9,578.3 644.8,570.2 643.9,570.6 642.6,579.2 641.5,579.8 640.4,572.5 639.5,573.1 638.2,582.3 637.1,583.0 636.0,575.7 635.2,576.3 633.8,583.0 632.8,583.7 631.7,578.7 630.8,579.2 629.5,586.4 628.4,587.0 627.3,580.9 626.4,581.4 625.1,589.3 624.0,589.7 622.9,582.9 622.0,583.3 620.7,589.6 619.6,590.0 618.5,584.8 617.6,585.2 616.3,591.8 615.2,592.2 614.1,586.6 613.3,587.0 611.9,593.7 610.9,594.1 609.8,588.6 608.9,589.0 607.6,596.1 606.5,596.6 605.4,590.7 604.5,591.2 603.2,598.3 602.1,598.9 601.0,593.2 600.1,593.8 598.8,600.1 597.7,600.8 596.6,596.0 595.7,596.5 594.4,602.4 593.3,603.1 592.2,598.9 591.4,599.5 590.0,605.7 588.9,606.4 587.9,601.8 587.0,602.4 585.7,608.4 584.6,609.1 583.5,604.7 582.6,605.3 581.3,612.3 580.2,612.9 579.1,607.5 578.2,608.0 576.9,614.0 575.8,614.7 574.7,610.1 573.8,610.6 572.5,617.4 571.4,618.1 570.3,612.8 569.5,613.4 568.1,618.8 567.0,619.7 566.0,616.2 565.1,616.9 563.8,624.2 562.7,625.2 561.6,619.9 560.7,620.7 559.4,627.3 558.3,628.2 557.2,623.7 556.3,624.5 555.0,631.1 553.9,632.0 552.8,627.3 551.9,627.9 550.6,634.0 549.5,634.7 548.4,630.1 547.6,630.7 546.2,636.5 545.1,637.2 544.0,632.9 543.2,633.6 541.9,639.6 540.8,640.6 539.7,636.8 538.8,637.9 537.5,644.2 536.4,646.1 535.3,643.7 534.4,645.4 533.1,653.4 532.0,655.7 530.9,652.4 530.0,654.1 528.7,661.4 527.6,663.2 526.5,660.2 525.6,661.7 524.3,668.5 523.2,670.3 522.1,667.3 521.3,668.5 520.0,674.8 518.9,674.8 517.8,671.6 516.9,672.0 515.6,674.8 515.2,674.8 495.5,674.8" fill="#10F010"/>
<g stroke="#262626" stroke-width="1"><line x1="34.6" y1="441.2" x2="37.6" y2="441.2"/><line x1="36" y1="426.26" x2="37.6" y2="426.26"/><line x1="34.6" y1="411.32" x2="37.6" y2="411.32"/><line x1="36" y1="396.38" x2="37.6" y2="396.38"/><line x1="34.6" y1="381.43" x2="37.6" y2="381.43"/><line x1="36" y1="366.49" x2="37.6" y2="366.49"/><line x1="34.6" y1="351.55" x2="37.6" y2="351.55"/><line x1="36" y1="336.61" x2="37.6" y2="336.61"/><line x1="34.6" y1="321.67" x2="37.6" y2="321.67"/><line x1="36" y1="306.73" x2="37.6" y2="306.73"/><line x1="34.6" y1="291.78" x2="37.6" y2="291.78"/><line x1="36" y1="276.84" x2="37.6" y2="276.84"/><line x1="34.6" y1="261.9" x2="37.6" y2="261.9"/><line x1="37.6" y1="441.2" x2="37.6" y2="444.2"/><line x1="55.49" y1="441.2" x2="55.49" y2="442.8"/><line x1="73.38" y1="441.2" x2="73.38" y2="444.2"/><line x1="91.27" y1="441.2" x2="91.27" y2="442.8"/><line x1="109.16" y1="441.2" x2="109.16" y2="444.2"/><line x1="127.05" y1="441.2" x2="127.05" y2="442.8"/><line x1="144.94" y1="441.2" x2="144.94" y2="444.2"/><line x1="162.83" y1="441.2" x2="162.83" y2="442.8"/><line x1="180.72" y1="441.2" x2="180.72" y2="444.2"/><line x1="198.61" y1="441.2" x2="198.61" y2="442.8"/><line x1="216.5" y1="441.2" x2="216.5" y2="444.2"/></g>
<rect x="37.6" y="261.9" width="178.9" height="179.3" fill="none" stroke="#262626" stroke-width="1.1"/>
<g font-size="10.2" font-weight="bold" fill="#1a1a1a" stroke="#1a1a1a" stroke-width="0.3"><text x="32.4" y="444.8" text-anchor="end">0</text><text x="32.4" y="414.92" text-anchor="end">2</text><text x="32.4" y="385.03" text-anchor="end">4</text><text x="32.4" y="355.15" text-anchor="end">6</text><text x="32.4" y="325.27" text-anchor="end">8</text><text x="32.4" y="295.38" text-anchor="end">10</text><text x="32.4" y="265.5" text-anchor="end">12</text><text x="37.6" y="454.1" text-anchor="middle">0</text><text x="73.38" y="454.1" text-anchor="middle">4</text><text x="109.16" y="454.1" text-anchor="middle">8</text><text x="144.94" y="454.1" text-anchor="middle">12</text><text x="180.72" y="454.1" text-anchor="middle">16</text><text x="216.5" y="454.1" text-anchor="middle">20</text></g>
<g stroke="#262626" stroke-width="1"><line x1="264.5" y1="441.2" x2="267.5" y2="441.2"/><line x1="265.9" y1="426.26" x2="267.5" y2="426.26"/><line x1="264.5" y1="411.32" x2="267.5" y2="411.32"/><line x1="265.9" y1="396.38" x2="267.5" y2="396.38"/><line x1="264.5" y1="381.43" x2="267.5" y2="381.43"/><line x1="265.9" y1="366.49" x2="267.5" y2="366.49"/><line x1="264.5" y1="351.55" x2="267.5" y2="351.55"/><line x1="265.9" y1="336.61" x2="267.5" y2="336.61"/><line x1="264.5" y1="321.67" x2="267.5" y2="321.67"/><line x1="265.9" y1="306.73" x2="267.5" y2="306.73"/><line x1="264.5" y1="291.78" x2="267.5" y2="291.78"/><line x1="265.9" y1="276.84" x2="267.5" y2="276.84"/><line x1="264.5" y1="261.9" x2="267.5" y2="261.9"/><line x1="267.5" y1="441.2" x2="267.5" y2="444.2"/><line x1="285.39" y1="441.2" x2="285.39" y2="442.8"/><line x1="303.28" y1="441.2" x2="303.28" y2="444.2"/><line x1="321.17" y1="441.2" x2="321.17" y2="442.8"/><line x1="339.06" y1="441.2" x2="339.06" y2="444.2"/><line x1="356.95" y1="441.2" x2="356.95" y2="442.8"/><line x1="374.84" y1="441.2" x2="374.84" y2="444.2"/><line x1="392.73" y1="441.2" x2="392.73" y2="442.8"/><line x1="410.62" y1="441.2" x2="410.62" y2="444.2"/><line x1="428.51" y1="441.2" x2="428.51" y2="442.8"/><line x1="446.4" y1="441.2" x2="446.4" y2="444.2"/></g>
<rect x="267.5" y="261.9" width="178.9" height="179.3" fill="none" stroke="#262626" stroke-width="1.1"/>
<g font-size="10.2" font-weight="bold" fill="#1a1a1a" stroke="#1a1a1a" stroke-width="0.3"><text x="262.3" y="444.8" text-anchor="end">0</text><text x="262.3" y="414.92" text-anchor="end">2</text><text x="262.3" y="385.03" text-anchor="end">4</text><text x="262.3" y="355.15" text-anchor="end">6</text><text x="262.3" y="325.27" text-anchor="end">8</text><text x="262.3" y="295.38" text-anchor="end">10</text><text x="262.3" y="265.5" text-anchor="end">12</text><text x="267.5" y="454.1" text-anchor="middle">0</text><text x="303.28" y="454.1" text-anchor="middle">4</text><text x="339.06" y="454.1" text-anchor="middle">8</text><text x="374.84" y="454.1" text-anchor="middle">12</text><text x="410.62" y="454.1" text-anchor="middle">16</text><text x="446.4" y="454.1" text-anchor="middle">20</text></g>
<g stroke="#262626" stroke-width="1"><line x1="489.5" y1="441.4" x2="492.5" y2="441.4"/><line x1="490.9" y1="420.34" x2="492.5" y2="420.34"/><line x1="489.5" y1="399.28" x2="492.5" y2="399.28"/><line x1="490.9" y1="378.22" x2="492.5" y2="378.22"/><line x1="489.5" y1="357.16" x2="492.5" y2="357.16"/><line x1="490.9" y1="336.11" x2="492.5" y2="336.11"/><line x1="489.5" y1="315.05" x2="492.5" y2="315.05"/><line x1="490.9" y1="293.99" x2="492.5" y2="293.99"/><line x1="489.5" y1="272.93" x2="492.5" y2="272.93"/><line x1="492.5" y1="441.4" x2="492.5" y2="444.4"/><line x1="510.39" y1="441.4" x2="510.39" y2="443"/><line x1="528.29" y1="441.4" x2="528.29" y2="444.4"/><line x1="546.19" y1="441.4" x2="546.19" y2="443"/><line x1="564.08" y1="441.4" x2="564.08" y2="444.4"/><line x1="581.98" y1="441.4" x2="581.98" y2="443"/><line x1="599.87" y1="441.4" x2="599.87" y2="444.4"/><line x1="617.76" y1="441.4" x2="617.76" y2="443"/><line x1="635.66" y1="441.4" x2="635.66" y2="444.4"/><line x1="653.56" y1="441.4" x2="653.56" y2="443"/><line x1="671.45" y1="441.4" x2="671.45" y2="444.4"/></g>
<rect x="492.5" y="262.4" width="178.95" height="179" fill="none" stroke="#262626" stroke-width="1.1"/>
<g font-size="10.2" font-weight="bold" fill="#1a1a1a" stroke="#1a1a1a" stroke-width="0.3"><text x="487.3" y="445" text-anchor="end">0</text><text x="487.3" y="402.88" text-anchor="end">2</text><text x="487.3" y="360.76" text-anchor="end">4</text><text x="487.3" y="318.65" text-anchor="end">6</text><text x="487.3" y="276.53" text-anchor="end">8</text><text x="492.5" y="454.3" text-anchor="middle">0</text><text x="528.29" y="454.3" text-anchor="middle">4</text><text x="564.08" y="454.3" text-anchor="middle">8</text><text x="599.87" y="454.3" text-anchor="middle">12</text><text x="635.66" y="454.3" text-anchor="middle">16</text><text x="671.45" y="454.3" text-anchor="middle">20</text></g>
<g stroke="#262626" stroke-width="1"><line x1="32.35" y1="674.8" x2="35.35" y2="674.8"/><line x1="33.75" y1="654.87" x2="35.35" y2="654.87"/><line x1="32.35" y1="634.93" x2="35.35" y2="634.93"/><line x1="33.75" y1="615" x2="35.35" y2="615"/><line x1="32.35" y1="595.07" x2="35.35" y2="595.07"/><line x1="33.75" y1="575.13" x2="35.35" y2="575.13"/><line x1="32.35" y1="555.2" x2="35.35" y2="555.2"/><line x1="33.75" y1="535.27" x2="35.35" y2="535.27"/><line x1="32.35" y1="515.33" x2="35.35" y2="515.33"/><line x1="33.75" y1="495.4" x2="35.35" y2="495.4"/><line x1="35.35" y1="674.8" x2="35.35" y2="677.8"/><line x1="53.2" y1="674.8" x2="53.2" y2="676.4"/><line x1="71.06" y1="674.8" x2="71.06" y2="677.8"/><line x1="88.92" y1="674.8" x2="88.92" y2="676.4"/><line x1="106.77" y1="674.8" x2="106.77" y2="677.8"/><line x1="124.62" y1="674.8" x2="124.62" y2="676.4"/><line x1="142.48" y1="674.8" x2="142.48" y2="677.8"/><line x1="160.34" y1="674.8" x2="160.34" y2="676.4"/><line x1="178.19" y1="674.8" x2="178.19" y2="677.8"/><line x1="196.04" y1="674.8" x2="196.04" y2="676.4"/><line x1="213.9" y1="674.8" x2="213.9" y2="677.8"/></g>
<rect x="35.35" y="495.4" width="178.55" height="179.4" fill="none" stroke="#262626" stroke-width="1.1"/>
<g font-size="10.2" font-weight="bold" fill="#1a1a1a" stroke="#1a1a1a" stroke-width="0.3"><text x="30.15" y="678.4" text-anchor="end">0</text><text x="30.15" y="638.53" text-anchor="end">2</text><text x="30.15" y="598.67" text-anchor="end">4</text><text x="30.15" y="558.8" text-anchor="end">6</text><text x="30.15" y="518.93" text-anchor="end">8</text><text x="35.35" y="687.7" text-anchor="middle">0</text><text x="71.06" y="687.7" text-anchor="middle">4</text><text x="106.77" y="687.7" text-anchor="middle">8</text><text x="142.48" y="687.7" text-anchor="middle">12</text><text x="178.19" y="687.7" text-anchor="middle">16</text><text x="213.9" y="687.7" text-anchor="middle">20</text></g>
<g stroke="#262626" stroke-width="1"><line x1="262.5" y1="674.5" x2="265.5" y2="674.5"/><line x1="263.9" y1="654.59" x2="265.5" y2="654.59"/><line x1="262.5" y1="634.69" x2="265.5" y2="634.69"/><line x1="263.9" y1="614.78" x2="265.5" y2="614.78"/><line x1="262.5" y1="594.88" x2="265.5" y2="594.88"/><line x1="263.9" y1="574.97" x2="265.5" y2="574.97"/><line x1="262.5" y1="555.07" x2="265.5" y2="555.07"/><line x1="263.9" y1="535.16" x2="265.5" y2="535.16"/><line x1="262.5" y1="515.26" x2="265.5" y2="515.26"/><line x1="263.9" y1="495.35" x2="265.5" y2="495.35"/><line x1="265.5" y1="674.5" x2="265.5" y2="677.5"/><line x1="283.4" y1="674.5" x2="283.4" y2="676.1"/><line x1="301.3" y1="674.5" x2="301.3" y2="677.5"/><line x1="319.2" y1="674.5" x2="319.2" y2="676.1"/><line x1="337.1" y1="674.5" x2="337.1" y2="677.5"/><line x1="355" y1="674.5" x2="355" y2="676.1"/><line x1="372.9" y1="674.5" x2="372.9" y2="677.5"/><line x1="390.8" y1="674.5" x2="390.8" y2="676.1"/><line x1="408.7" y1="674.5" x2="408.7" y2="677.5"/><line x1="426.6" y1="674.5" x2="426.6" y2="676.1"/><line x1="444.5" y1="674.5" x2="444.5" y2="677.5"/></g>
<rect x="265.5" y="495.35" width="179" height="179.15" fill="none" stroke="#262626" stroke-width="1.1"/>
<g font-size="10.2" font-weight="bold" fill="#1a1a1a" stroke="#1a1a1a" stroke-width="0.3"><text x="260.3" y="678.1" text-anchor="end">0</text><text x="260.3" y="638.29" text-anchor="end">2</text><text x="260.3" y="598.48" text-anchor="end">4</text><text x="260.3" y="558.67" text-anchor="end">6</text><text x="260.3" y="518.86" text-anchor="end">8</text><text x="265.5" y="687.4" text-anchor="middle">0</text><text x="301.3" y="687.4" text-anchor="middle">4</text><text x="337.1" y="687.4" text-anchor="middle">8</text><text x="372.9" y="687.4" text-anchor="middle">12</text><text x="408.7" y="687.4" text-anchor="middle">16</text><text x="444.5" y="687.4" text-anchor="middle">20</text></g>
<g stroke="#262626" stroke-width="1"><line x1="492.5" y1="674.8" x2="495.5" y2="674.8"/><line x1="493.9" y1="652.37" x2="495.5" y2="652.37"/><line x1="492.5" y1="629.94" x2="495.5" y2="629.94"/><line x1="493.9" y1="607.51" x2="495.5" y2="607.51"/><line x1="492.5" y1="585.08" x2="495.5" y2="585.08"/><line x1="493.9" y1="562.64" x2="495.5" y2="562.64"/><line x1="492.5" y1="540.21" x2="495.5" y2="540.21"/><line x1="493.9" y1="517.78" x2="495.5" y2="517.78"/><line x1="492.5" y1="495.35" x2="495.5" y2="495.35"/><line x1="495.5" y1="674.8" x2="495.5" y2="677.8"/><line x1="513.38" y1="674.8" x2="513.38" y2="676.4"/><line x1="531.26" y1="674.8" x2="531.26" y2="677.8"/><line x1="549.14" y1="674.8" x2="549.14" y2="676.4"/><line x1="567.02" y1="674.8" x2="567.02" y2="677.8"/><line x1="584.9" y1="674.8" x2="584.9" y2="676.4"/><line x1="602.78" y1="674.8" x2="602.78" y2="677.8"/><line x1="620.66" y1="674.8" x2="620.66" y2="676.4"/><line x1="638.54" y1="674.8" x2="638.54" y2="677.8"/><line x1="656.42" y1="674.8" x2="656.42" y2="676.4"/><line x1="674.3" y1="674.8" x2="674.3" y2="677.8"/></g>
<rect x="495.5" y="495.35" width="178.8" height="179.45" fill="none" stroke="#262626" stroke-width="1.1"/>
<g font-size="10.2" font-weight="bold" fill="#1a1a1a" stroke="#1a1a1a" stroke-width="0.3"><text x="490.3" y="678.4" text-anchor="end">0</text><text x="490.3" y="633.54" text-anchor="end">2</text><text x="490.3" y="588.68" text-anchor="end">4</text><text x="490.3" y="543.81" text-anchor="end">6</text><text x="490.3" y="498.95" text-anchor="end">8</text><text x="495.5" y="687.7" text-anchor="middle">0</text><text x="531.26" y="687.7" text-anchor="middle">4</text><text x="567.02" y="687.7" text-anchor="middle">8</text><text x="602.78" y="687.7" text-anchor="middle">12</text><text x="638.54" y="687.7" text-anchor="middle">16</text><text x="674.3" y="687.7" text-anchor="middle">20</text></g>
<text x="127.05" y="472.5" text-anchor="middle" font-size="11" font-weight="bold" fill="#1a1a1a" stroke="#1a1a1a" stroke-width="0.3">Time (s)</text>
<text transform="translate(17.3,351.55) rotate(-90)" text-anchor="middle" font-size="11.2" font-weight="bold" fill="#1a1a1a" stroke="#1a1a1a" stroke-width="0.3">Voltage (V)</text>
<text x="21.8" y="249.3" font-size="12.5" font-weight="bold" fill="#111" stroke="#111" stroke-width="0.35">d</text>
<text x="356.95" y="472.5" text-anchor="middle" font-size="11" font-weight="bold" fill="#1a1a1a" stroke="#1a1a1a" stroke-width="0.3">Time (s)</text>
<text transform="translate(247.8,351.55) rotate(-90)" text-anchor="middle" font-size="11.2" font-weight="bold" fill="#1a1a1a" stroke="#1a1a1a" stroke-width="0.3">Voltage (V)</text>
<text x="251.3" y="250.4" font-size="14" font-weight="bold" fill="#111" stroke="#111" stroke-width="0.35" font-family="Liberation Serif, serif">e</text>
<text x="581.98" y="472.7" text-anchor="middle" font-size="11" font-weight="bold" fill="#1a1a1a" stroke="#1a1a1a" stroke-width="0.3">Time (s)</text>
<text transform="translate(479,351.9) rotate(-90)" text-anchor="middle" font-size="11.2" font-weight="bold" fill="#1a1a1a" stroke="#1a1a1a" stroke-width="0.3">Voltage (V)</text>
<text x="479" y="250.7" font-size="14" font-weight="bold" fill="#111" stroke="#111" stroke-width="0.35" font-family="Liberation Serif, serif">f</text>
<text x="124.62" y="706.1" text-anchor="middle" font-size="11" font-weight="bold" fill="#1a1a1a" stroke="#1a1a1a" stroke-width="0.3">Time (s)</text>
<text transform="translate(21.6,585.1) rotate(-90)" text-anchor="middle" font-size="11.2" font-weight="bold" fill="#1a1a1a" stroke="#1a1a1a" stroke-width="0.3">Voltage (V)</text>
<text x="17.4" y="488.7" font-size="14" font-weight="bold" fill="#111" stroke="#111" stroke-width="0.35" font-family="Liberation Serif, serif">g</text>
<text x="355" y="705.8" text-anchor="middle" font-size="11" font-weight="bold" fill="#1a1a1a" stroke="#1a1a1a" stroke-width="0.3">Time (s)</text>
<text transform="translate(251.6,584.92) rotate(-90)" text-anchor="middle" font-size="11.2" font-weight="bold" fill="#1a1a1a" stroke="#1a1a1a" stroke-width="0.3">Voltage (V)</text>
<text x="249.8" y="484.4" font-size="12.5" font-weight="bold" fill="#111" stroke="#111" stroke-width="0.35">h</text>
<text x="584.9" y="706.1" text-anchor="middle" font-size="11" font-weight="bold" fill="#1a1a1a" stroke="#1a1a1a" stroke-width="0.3">Time (s)</text>
<text transform="translate(481.3,585.08) rotate(-90)" text-anchor="middle" font-size="11.2" font-weight="bold" fill="#1a1a1a" stroke="#1a1a1a" stroke-width="0.3">Voltage (V)</text>
<text x="483.6" y="482.3" font-size="12.5" font-weight="bold" fill="#111" stroke="#111" stroke-width="0.35">i</text>
<text x="213.6" y="272.5" font-size="9.5" font-weight="bold" fill="#1a1a1a" stroke="#1a1a1a" stroke-width="0.3" text-anchor="end">MZ-435</text>
<text x="443.5" y="272.5" font-size="9.5" font-weight="bold" fill="#1a1a1a" stroke="#1a1a1a" stroke-width="0.3" text-anchor="end">MZ-437</text>
<text x="668.55" y="272.5" font-size="9.5" font-weight="bold" fill="#1a1a1a" stroke="#1a1a1a" stroke-width="0.3" text-anchor="end">MZ-456</text>
<text x="38.85" y="508" font-size="9.5" font-weight="bold" fill="#1a1a1a" stroke="#1a1a1a" stroke-width="0.3" text-anchor="start">MZ-435</text>
<text x="269.2" y="507.5" font-size="9.5" font-weight="bold" fill="#1a1a1a" stroke="#1a1a1a" stroke-width="0.3" text-anchor="start">MZ-437</text>
<text x="499.2" y="507.9" font-size="9.5" font-weight="bold" fill="#1a1a1a" stroke="#1a1a1a" stroke-width="0.3" text-anchor="start">MZ-456</text>
<line x1="43.4" y1="272.1" x2="54.3" y2="272.1" stroke="#E8127F" stroke-width="1.0"/>
<text x="58.1" y="275.05" font-size="8.2" font-weight="bold" fill="#1a1a1a" stroke="#1a1a1a" stroke-width="0.3" text-anchor="start">0 wt%</text>
<line x1="43.4" y1="282.5" x2="54.3" y2="282.5" stroke="#1010F0" stroke-width="1.0"/>
<text x="58.1" y="285.45" font-size="8.2" font-weight="bold" fill="#1a1a1a" stroke="#1a1a1a" stroke-width="0.3" text-anchor="start">1 wt%</text>
<line x1="43.4" y1="292.9" x2="54.3" y2="292.9" stroke="#F7901E" stroke-width="1.0"/>
<text x="58.1" y="295.85" font-size="8.2" font-weight="bold" fill="#1a1a1a" stroke="#1a1a1a" stroke-width="0.3" text-anchor="start">2 wt%</text>
<line x1="43.4" y1="303.3" x2="54.3" y2="303.3" stroke="#1EA0F0" stroke-width="1.0"/>
<text x="58.1" y="306.25" font-size="8.2" font-weight="bold" fill="#1a1a1a" stroke="#1a1a1a" stroke-width="0.3" text-anchor="start">3 wt%</text>
<line x1="43.4" y1="313.7" x2="54.3" y2="313.7" stroke="#9B1CD6" stroke-width="1.0"/>
<text x="58.1" y="316.65" font-size="8.2" font-weight="bold" fill="#1a1a1a" stroke="#1a1a1a" stroke-width="0.3" text-anchor="start">4 wt%</text>
<line x1="43.4" y1="324.1" x2="54.3" y2="324.1" stroke="#FF0A0A" stroke-width="1.0"/>
<text x="58.1" y="327.05" font-size="8.2" font-weight="bold" fill="#1a1a1a" stroke="#1a1a1a" stroke-width="0.3" text-anchor="start">5 wt%</text>
<line x1="272.8" y1="271.7" x2="282.8" y2="271.7" stroke="#E8127F" stroke-width="1.0"/>
<text x="286.8" y="274.65" font-size="8.2" font-weight="bold" fill="#1a1a1a" stroke="#1a1a1a" stroke-width="0.3" text-anchor="start">0 wt%</text>
<line x1="272.8" y1="282.14" x2="282.8" y2="282.14" stroke="#1010F0" stroke-width="1.0"/>
<text x="286.8" y="285.09" font-size="8.2" font-weight="bold" fill="#1a1a1a" stroke="#1a1a1a" stroke-width="0.3" text-anchor="start">1 wt%</text>
<line x1="272.8" y1="292.58" x2="282.8" y2="292.58" stroke="#F7901E" stroke-width="1.0"/>
<text x="286.8" y="295.53" font-size="8.2" font-weight="bold" fill="#1a1a1a" stroke="#1a1a1a" stroke-width="0.3" text-anchor="start">2 wt%</text>
<line x1="272.8" y1="303.02" x2="282.8" y2="303.02" stroke="#1EA0F0" stroke-width="1.0"/>
<text x="286.8" y="305.97" font-size="8.2" font-weight="bold" fill="#1a1a1a" stroke="#1a1a1a" stroke-width="0.3" text-anchor="start">3 wt%</text>
<line x1="272.8" y1="313.46" x2="282.8" y2="313.46" stroke="#9B1CD6" stroke-width="1.0"/>
<text x="286.8" y="316.41" font-size="8.2" font-weight="bold" fill="#1a1a1a" stroke="#1a1a1a" stroke-width="0.3" text-anchor="start">4 wt%</text>
<line x1="272.8" y1="323.9" x2="282.8" y2="323.9" stroke="#FF0A0A" stroke-width="1.0"/>
<text x="286.8" y="326.85" font-size="8.2" font-weight="bold" fill="#1a1a1a" stroke="#1a1a1a" stroke-width="0.3" text-anchor="start">5 wt%</text>
<line x1="499.9" y1="271.7" x2="509.3" y2="271.7" stroke="#E8127F" stroke-width="1.0"/>
<text x="513.6" y="274.65" font-size="8.2" font-weight="bold" fill="#1a1a1a" stroke="#1a1a1a" stroke-width="0.3" text-anchor="start">0 wt%</text>
<line x1="499.9" y1="282.04" x2="509.3" y2="282.04" stroke="#1010F0" stroke-width="1.0"/>
<text x="513.6" y="284.99" font-size="8.2" font-weight="bold" fill="#1a1a1a" stroke="#1a1a1a" stroke-width="0.3" text-anchor="start">1 wt%</text>
<line x1="499.9" y1="292.38" x2="509.3" y2="292.38" stroke="#F7901E" stroke-width="1.0"/>
<text x="513.6" y="295.33" font-size="8.2" font-weight="bold" fill="#1a1a1a" stroke="#1a1a1a" stroke-width="0.3" text-anchor="start">2 wt%</text>
<line x1="499.9" y1="302.72" x2="509.3" y2="302.72" stroke="#1EA0F0" stroke-width="1.0"/>
<text x="513.6" y="305.67" font-size="8.2" font-weight="bold" fill="#1a1a1a" stroke="#1a1a1a" stroke-width="0.3" text-anchor="start">3 wt%</text>
<line x1="499.9" y1="313.06" x2="509.3" y2="313.06" stroke="#9B1CD6" stroke-width="1.0"/>
<text x="513.6" y="316.01" font-size="8.2" font-weight="bold" fill="#1a1a1a" stroke="#1a1a1a" stroke-width="0.3" text-anchor="start">4 wt%</text>
<line x1="499.9" y1="323.4" x2="509.3" y2="323.4" stroke="#FF0A0A" stroke-width="1.0"/>
<text x="513.6" y="326.35" font-size="8.2" font-weight="bold" fill="#1a1a1a" stroke="#1a1a1a" stroke-width="0.3" text-anchor="start">5 wt%</text>
<line x1="166" y1="616.2" x2="184" y2="616.2" stroke="#F0147F" stroke-width="1.0"/>
<text x="186" y="618.94" font-size="7.6" font-weight="bold" fill="#1a1a1a" stroke="#1a1a1a" stroke-width="0.3" text-anchor="start">0.5 μF</text>
<line x1="166" y1="626.9" x2="184" y2="626.9" stroke="#1010F0" stroke-width="1.0"/>
<text x="186" y="629.64" font-size="7.6" font-weight="bold" fill="#1a1a1a" stroke="#1a1a1a" stroke-width="0.3" text-anchor="start">0.7 μF</text>
<line x1="166" y1="637.6" x2="184" y2="637.6" stroke="#10F010" stroke-width="1.0"/>
<text x="186" y="640.34" font-size="7.6" font-weight="bold" fill="#1a1a1a" stroke="#1a1a1a" stroke-width="0.3" text-anchor="start">1.0 μF</text>
<line x1="387" y1="606" x2="405" y2="606" stroke="#F0147F" stroke-width="1.0"/>
<text x="406.6" y="608.74" font-size="7.6" font-weight="bold" fill="#1a1a1a" stroke="#1a1a1a" stroke-width="0.3" text-anchor="start">0.5 μF</text>
<line x1="387" y1="616.6" x2="405" y2="616.6" stroke="#1010F0" stroke-width="1.0"/>
<text x="406.6" y="619.34" font-size="7.6" font-weight="bold" fill="#1a1a1a" stroke="#1a1a1a" stroke-width="0.3" text-anchor="start">0.7 μF</text>
<line x1="387" y1="627.2" x2="405" y2="627.2" stroke="#10F010" stroke-width="1.0"/>
<text x="406.6" y="629.94" font-size="7.6" font-weight="bold" fill="#1a1a1a" stroke="#1a1a1a" stroke-width="0.3" text-anchor="start">1.0 μF</text>
<line x1="614.6" y1="621.6" x2="633" y2="621.6" stroke="#F0147F" stroke-width="1.0"/>
<text x="634.6" y="624.34" font-size="7.6" font-weight="bold" fill="#1a1a1a" stroke="#1a1a1a" stroke-width="0.3" text-anchor="start">0.5 μF</text>
<line x1="614.6" y1="632.2" x2="633" y2="632.2" stroke="#1010F0" stroke-width="1.0"/>
<text x="634.6" y="634.94" font-size="7.6" font-weight="bold" fill="#1a1a1a" stroke="#1a1a1a" stroke-width="0.3" text-anchor="start">0.7 μF</text>
<line x1="614.6" y1="642.8" x2="633" y2="642.8" stroke="#10F010" stroke-width="1.0"/>
<text x="634.6" y="645.54" font-size="7.6" font-weight="bold" fill="#1a1a1a" stroke="#1a1a1a" stroke-width="0.3" text-anchor="start">1.0 μF</text>
</svg></body></html>
